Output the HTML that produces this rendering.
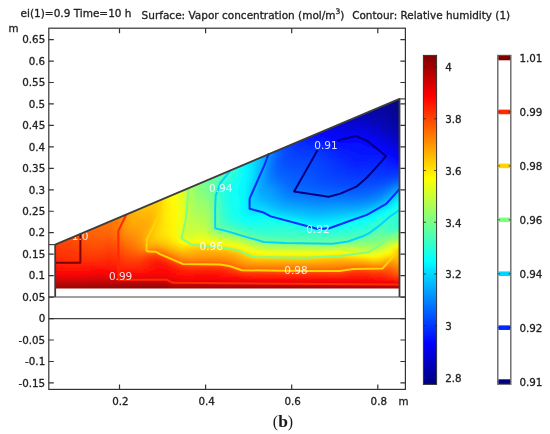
<!DOCTYPE html>
<html><head><meta charset="utf-8"><style>
html,body{margin:0;padding:0;background:#fff;width:550px;height:434px;overflow:hidden}
svg{display:block;filter:blur(0.35px)}
</style></head><body>
<svg width="550" height="434" viewBox="0 0 550 434">
<defs><filter id="fb" x="-5%" y="-5%" width="110%" height="110%"><feGaussianBlur stdDeviation="0.8"/></filter><clipPath id="dom"><polygon points="55.2,288.6 55.2,244.6 399.5,98.9 399.5,288.6"/></clipPath><linearGradient id="g0" gradientUnits="userSpaceOnUse" x1="53.2" y1="0" x2="405.2" y2="0"><stop offset="0.000" stop-color="#78ff87"/><stop offset="0.023" stop-color="#7bff84"/><stop offset="0.045" stop-color="#7eff81"/><stop offset="0.068" stop-color="#81ff7e"/><stop offset="0.091" stop-color="#82ff7d"/><stop offset="0.114" stop-color="#83ff7c"/><stop offset="0.136" stop-color="#83ff7c"/><stop offset="0.159" stop-color="#83ff7c"/><stop offset="0.182" stop-color="#81ff7e"/><stop offset="0.205" stop-color="#7eff81"/><stop offset="0.227" stop-color="#79ff86"/><stop offset="0.250" stop-color="#74ff8b"/><stop offset="0.273" stop-color="#6dff92"/><stop offset="0.295" stop-color="#65ff9a"/><stop offset="0.318" stop-color="#5cffa3"/><stop offset="0.341" stop-color="#51ffae"/><stop offset="0.364" stop-color="#44ffbb"/><stop offset="0.386" stop-color="#36ffc9"/><stop offset="0.409" stop-color="#27ffd8"/><stop offset="0.432" stop-color="#15ffea"/><stop offset="0.455" stop-color="#02fffd"/><stop offset="0.477" stop-color="#00ecff"/><stop offset="0.500" stop-color="#00d5ff"/><stop offset="0.523" stop-color="#00bdff"/><stop offset="0.545" stop-color="#00a3ff"/><stop offset="0.568" stop-color="#0087ff"/><stop offset="0.591" stop-color="#006bff"/><stop offset="0.614" stop-color="#004eff"/><stop offset="0.636" stop-color="#0032ff"/><stop offset="0.659" stop-color="#0018ff"/><stop offset="0.682" stop-color="#0000ff"/><stop offset="0.705" stop-color="#0000e9"/><stop offset="0.727" stop-color="#0000d7"/><stop offset="0.750" stop-color="#0000c7"/><stop offset="0.773" stop-color="#0000ba"/><stop offset="0.795" stop-color="#0000ae"/><stop offset="0.818" stop-color="#0000a5"/><stop offset="0.841" stop-color="#00009e"/><stop offset="0.864" stop-color="#000097"/><stop offset="0.886" stop-color="#000092"/><stop offset="0.909" stop-color="#00008d"/><stop offset="0.932" stop-color="#000088"/><stop offset="0.955" stop-color="#000083"/><stop offset="0.977" stop-color="#000080"/><stop offset="1.000" stop-color="#000080"/></linearGradient><linearGradient id="g1" gradientUnits="userSpaceOnUse" x1="53.2" y1="0" x2="405.2" y2="0"><stop offset="0.000" stop-color="#7eff81"/><stop offset="0.023" stop-color="#81ff7e"/><stop offset="0.045" stop-color="#84ff7b"/><stop offset="0.068" stop-color="#87ff78"/><stop offset="0.091" stop-color="#89ff76"/><stop offset="0.114" stop-color="#8aff75"/><stop offset="0.136" stop-color="#8aff75"/><stop offset="0.159" stop-color="#89ff76"/><stop offset="0.182" stop-color="#87ff78"/><stop offset="0.205" stop-color="#84ff7b"/><stop offset="0.227" stop-color="#80ff7f"/><stop offset="0.250" stop-color="#7aff85"/><stop offset="0.273" stop-color="#74ff8b"/><stop offset="0.295" stop-color="#6bff94"/><stop offset="0.318" stop-color="#62ff9d"/><stop offset="0.341" stop-color="#57ffa8"/><stop offset="0.364" stop-color="#4affb5"/><stop offset="0.386" stop-color="#3cffc3"/><stop offset="0.409" stop-color="#2dffd2"/><stop offset="0.432" stop-color="#1bffe4"/><stop offset="0.455" stop-color="#08fff7"/><stop offset="0.477" stop-color="#00f2ff"/><stop offset="0.500" stop-color="#00dbff"/><stop offset="0.523" stop-color="#00c2ff"/><stop offset="0.545" stop-color="#00a8ff"/><stop offset="0.568" stop-color="#008cff"/><stop offset="0.591" stop-color="#006fff"/><stop offset="0.614" stop-color="#0052ff"/><stop offset="0.636" stop-color="#0036ff"/><stop offset="0.659" stop-color="#001bff"/><stop offset="0.682" stop-color="#0003ff"/><stop offset="0.705" stop-color="#0000ec"/><stop offset="0.727" stop-color="#0000da"/><stop offset="0.750" stop-color="#0000ca"/><stop offset="0.773" stop-color="#0000bd"/><stop offset="0.795" stop-color="#0000b2"/><stop offset="0.818" stop-color="#0000a9"/><stop offset="0.841" stop-color="#0000a1"/><stop offset="0.864" stop-color="#00009b"/><stop offset="0.886" stop-color="#000096"/><stop offset="0.909" stop-color="#000091"/><stop offset="0.932" stop-color="#00008c"/><stop offset="0.955" stop-color="#000086"/><stop offset="0.977" stop-color="#000080"/><stop offset="1.000" stop-color="#000080"/></linearGradient><linearGradient id="g2" gradientUnits="userSpaceOnUse" x1="53.2" y1="0" x2="405.2" y2="0"><stop offset="0.000" stop-color="#84ff7b"/><stop offset="0.023" stop-color="#88ff77"/><stop offset="0.045" stop-color="#8bff74"/><stop offset="0.068" stop-color="#8dff72"/><stop offset="0.091" stop-color="#8fff70"/><stop offset="0.114" stop-color="#90ff6f"/><stop offset="0.136" stop-color="#90ff6f"/><stop offset="0.159" stop-color="#8fff70"/><stop offset="0.182" stop-color="#8eff71"/><stop offset="0.205" stop-color="#8bff74"/><stop offset="0.227" stop-color="#86ff79"/><stop offset="0.250" stop-color="#81ff7e"/><stop offset="0.273" stop-color="#7aff85"/><stop offset="0.295" stop-color="#72ff8d"/><stop offset="0.318" stop-color="#68ff97"/><stop offset="0.341" stop-color="#5dffa2"/><stop offset="0.364" stop-color="#50ffaf"/><stop offset="0.386" stop-color="#42ffbd"/><stop offset="0.409" stop-color="#33ffcc"/><stop offset="0.432" stop-color="#21ffde"/><stop offset="0.455" stop-color="#0efff1"/><stop offset="0.477" stop-color="#00f8ff"/><stop offset="0.500" stop-color="#00e1ff"/><stop offset="0.523" stop-color="#00c8ff"/><stop offset="0.545" stop-color="#00adff"/><stop offset="0.568" stop-color="#0091ff"/><stop offset="0.591" stop-color="#0073ff"/><stop offset="0.614" stop-color="#0056ff"/><stop offset="0.636" stop-color="#0039ff"/><stop offset="0.659" stop-color="#001eff"/><stop offset="0.682" stop-color="#0006ff"/><stop offset="0.705" stop-color="#0000ef"/><stop offset="0.727" stop-color="#0000dd"/><stop offset="0.750" stop-color="#0000cd"/><stop offset="0.773" stop-color="#0000c0"/><stop offset="0.795" stop-color="#0000b5"/><stop offset="0.818" stop-color="#0000ac"/><stop offset="0.841" stop-color="#0000a5"/><stop offset="0.864" stop-color="#00009f"/><stop offset="0.886" stop-color="#000099"/><stop offset="0.909" stop-color="#000095"/><stop offset="0.932" stop-color="#000090"/><stop offset="0.955" stop-color="#00008a"/><stop offset="0.977" stop-color="#000083"/><stop offset="1.000" stop-color="#000080"/></linearGradient><linearGradient id="g3" gradientUnits="userSpaceOnUse" x1="53.2" y1="0" x2="405.2" y2="0"><stop offset="0.000" stop-color="#8aff75"/><stop offset="0.023" stop-color="#8eff71"/><stop offset="0.045" stop-color="#91ff6e"/><stop offset="0.068" stop-color="#93ff6c"/><stop offset="0.091" stop-color="#95ff6a"/><stop offset="0.114" stop-color="#96ff69"/><stop offset="0.136" stop-color="#96ff69"/><stop offset="0.159" stop-color="#96ff69"/><stop offset="0.182" stop-color="#94ff6b"/><stop offset="0.205" stop-color="#91ff6e"/><stop offset="0.227" stop-color="#8dff72"/><stop offset="0.250" stop-color="#87ff78"/><stop offset="0.273" stop-color="#80ff7f"/><stop offset="0.295" stop-color="#78ff87"/><stop offset="0.318" stop-color="#6eff91"/><stop offset="0.341" stop-color="#63ff9c"/><stop offset="0.364" stop-color="#56ffa9"/><stop offset="0.386" stop-color="#48ffb7"/><stop offset="0.409" stop-color="#38ffc7"/><stop offset="0.432" stop-color="#27ffd8"/><stop offset="0.455" stop-color="#14ffeb"/><stop offset="0.477" stop-color="#00fdff"/><stop offset="0.500" stop-color="#00e6ff"/><stop offset="0.523" stop-color="#00cdff"/><stop offset="0.545" stop-color="#00b2ff"/><stop offset="0.568" stop-color="#0095ff"/><stop offset="0.591" stop-color="#0078ff"/><stop offset="0.614" stop-color="#005aff"/><stop offset="0.636" stop-color="#003dff"/><stop offset="0.659" stop-color="#0021ff"/><stop offset="0.682" stop-color="#0008ff"/><stop offset="0.705" stop-color="#0000f2"/><stop offset="0.727" stop-color="#0000df"/><stop offset="0.750" stop-color="#0000d0"/><stop offset="0.773" stop-color="#0000c3"/><stop offset="0.795" stop-color="#0000b9"/><stop offset="0.818" stop-color="#0000b0"/><stop offset="0.841" stop-color="#0000a9"/><stop offset="0.864" stop-color="#0000a3"/><stop offset="0.886" stop-color="#00009d"/><stop offset="0.909" stop-color="#000098"/><stop offset="0.932" stop-color="#000094"/><stop offset="0.955" stop-color="#00008d"/><stop offset="0.977" stop-color="#000086"/><stop offset="1.000" stop-color="#000080"/></linearGradient><linearGradient id="g4" gradientUnits="userSpaceOnUse" x1="53.2" y1="0" x2="405.2" y2="0"><stop offset="0.000" stop-color="#91ff6e"/><stop offset="0.023" stop-color="#94ff6b"/><stop offset="0.045" stop-color="#97ff68"/><stop offset="0.068" stop-color="#9aff65"/><stop offset="0.091" stop-color="#9bff64"/><stop offset="0.114" stop-color="#9dff62"/><stop offset="0.136" stop-color="#9dff62"/><stop offset="0.159" stop-color="#9cff63"/><stop offset="0.182" stop-color="#9aff65"/><stop offset="0.205" stop-color="#97ff68"/><stop offset="0.227" stop-color="#93ff6c"/><stop offset="0.250" stop-color="#8dff72"/><stop offset="0.273" stop-color="#86ff79"/><stop offset="0.295" stop-color="#7eff81"/><stop offset="0.318" stop-color="#74ff8b"/><stop offset="0.341" stop-color="#69ff96"/><stop offset="0.364" stop-color="#5cffa3"/><stop offset="0.386" stop-color="#4effb1"/><stop offset="0.409" stop-color="#3effc1"/><stop offset="0.432" stop-color="#2dffd2"/><stop offset="0.455" stop-color="#19ffe6"/><stop offset="0.477" stop-color="#04fffb"/><stop offset="0.500" stop-color="#00ecff"/><stop offset="0.523" stop-color="#00d2ff"/><stop offset="0.545" stop-color="#00b7ff"/><stop offset="0.568" stop-color="#009aff"/><stop offset="0.591" stop-color="#007cff"/><stop offset="0.614" stop-color="#005dff"/><stop offset="0.636" stop-color="#0040ff"/><stop offset="0.659" stop-color="#0024ff"/><stop offset="0.682" stop-color="#000bff"/><stop offset="0.705" stop-color="#0000f5"/><stop offset="0.727" stop-color="#0000e2"/><stop offset="0.750" stop-color="#0000d3"/><stop offset="0.773" stop-color="#0000c6"/><stop offset="0.795" stop-color="#0000bc"/><stop offset="0.818" stop-color="#0000b4"/><stop offset="0.841" stop-color="#0000ad"/><stop offset="0.864" stop-color="#0000a7"/><stop offset="0.886" stop-color="#0000a1"/><stop offset="0.909" stop-color="#00009c"/><stop offset="0.932" stop-color="#000097"/><stop offset="0.955" stop-color="#000090"/><stop offset="0.977" stop-color="#000088"/><stop offset="1.000" stop-color="#000080"/></linearGradient><linearGradient id="g5" gradientUnits="userSpaceOnUse" x1="53.2" y1="0" x2="405.2" y2="0"><stop offset="0.000" stop-color="#97ff68"/><stop offset="0.023" stop-color="#9aff65"/><stop offset="0.045" stop-color="#9dff62"/><stop offset="0.068" stop-color="#a0ff5f"/><stop offset="0.091" stop-color="#a2ff5d"/><stop offset="0.114" stop-color="#a3ff5c"/><stop offset="0.136" stop-color="#a3ff5c"/><stop offset="0.159" stop-color="#a2ff5d"/><stop offset="0.182" stop-color="#a0ff5f"/><stop offset="0.205" stop-color="#9dff62"/><stop offset="0.227" stop-color="#99ff66"/><stop offset="0.250" stop-color="#93ff6c"/><stop offset="0.273" stop-color="#8cff73"/><stop offset="0.295" stop-color="#84ff7b"/><stop offset="0.318" stop-color="#7aff85"/><stop offset="0.341" stop-color="#6fff90"/><stop offset="0.364" stop-color="#62ff9d"/><stop offset="0.386" stop-color="#54ffab"/><stop offset="0.409" stop-color="#44ffbb"/><stop offset="0.432" stop-color="#32ffcd"/><stop offset="0.455" stop-color="#1fffe0"/><stop offset="0.477" stop-color="#0afff5"/><stop offset="0.500" stop-color="#00f1ff"/><stop offset="0.523" stop-color="#00d7ff"/><stop offset="0.545" stop-color="#00bcff"/><stop offset="0.568" stop-color="#009eff"/><stop offset="0.591" stop-color="#0080ff"/><stop offset="0.614" stop-color="#0061ff"/><stop offset="0.636" stop-color="#0043ff"/><stop offset="0.659" stop-color="#0027ff"/><stop offset="0.682" stop-color="#000eff"/><stop offset="0.705" stop-color="#0000f7"/><stop offset="0.727" stop-color="#0000e5"/><stop offset="0.750" stop-color="#0000d6"/><stop offset="0.773" stop-color="#0000c9"/><stop offset="0.795" stop-color="#0000bf"/><stop offset="0.818" stop-color="#0000b7"/><stop offset="0.841" stop-color="#0000b0"/><stop offset="0.864" stop-color="#0000aa"/><stop offset="0.886" stop-color="#0000a5"/><stop offset="0.909" stop-color="#00009f"/><stop offset="0.932" stop-color="#00009a"/><stop offset="0.955" stop-color="#000093"/><stop offset="0.977" stop-color="#00008b"/><stop offset="1.000" stop-color="#000083"/></linearGradient><linearGradient id="g6" gradientUnits="userSpaceOnUse" x1="53.2" y1="0" x2="405.2" y2="0"><stop offset="0.000" stop-color="#9dff62"/><stop offset="0.023" stop-color="#a0ff5f"/><stop offset="0.045" stop-color="#a3ff5c"/><stop offset="0.068" stop-color="#a6ff59"/><stop offset="0.091" stop-color="#a8ff57"/><stop offset="0.114" stop-color="#a9ff56"/><stop offset="0.136" stop-color="#a9ff56"/><stop offset="0.159" stop-color="#a8ff57"/><stop offset="0.182" stop-color="#a6ff59"/><stop offset="0.205" stop-color="#a3ff5c"/><stop offset="0.227" stop-color="#9fff60"/><stop offset="0.250" stop-color="#99ff66"/><stop offset="0.273" stop-color="#92ff6d"/><stop offset="0.295" stop-color="#8aff75"/><stop offset="0.318" stop-color="#80ff7f"/><stop offset="0.341" stop-color="#75ff8a"/><stop offset="0.364" stop-color="#68ff97"/><stop offset="0.386" stop-color="#59ffa6"/><stop offset="0.409" stop-color="#49ffb6"/><stop offset="0.432" stop-color="#38ffc7"/><stop offset="0.455" stop-color="#24ffdb"/><stop offset="0.477" stop-color="#0ffff0"/><stop offset="0.500" stop-color="#00f6ff"/><stop offset="0.523" stop-color="#00dcff"/><stop offset="0.545" stop-color="#00c0ff"/><stop offset="0.568" stop-color="#00a3ff"/><stop offset="0.591" stop-color="#0084ff"/><stop offset="0.614" stop-color="#0065ff"/><stop offset="0.636" stop-color="#0046ff"/><stop offset="0.659" stop-color="#002aff"/><stop offset="0.682" stop-color="#0010ff"/><stop offset="0.705" stop-color="#0000fa"/><stop offset="0.727" stop-color="#0000e8"/><stop offset="0.750" stop-color="#0000d9"/><stop offset="0.773" stop-color="#0000cd"/><stop offset="0.795" stop-color="#0000c3"/><stop offset="0.818" stop-color="#0000bb"/><stop offset="0.841" stop-color="#0000b4"/><stop offset="0.864" stop-color="#0000ae"/><stop offset="0.886" stop-color="#0000a8"/><stop offset="0.909" stop-color="#0000a3"/><stop offset="0.932" stop-color="#00009d"/><stop offset="0.955" stop-color="#000095"/><stop offset="0.977" stop-color="#00008d"/><stop offset="1.000" stop-color="#000085"/></linearGradient><linearGradient id="g7" gradientUnits="userSpaceOnUse" x1="53.2" y1="0" x2="405.2" y2="0"><stop offset="0.000" stop-color="#a3ff5c"/><stop offset="0.023" stop-color="#a6ff59"/><stop offset="0.045" stop-color="#a9ff56"/><stop offset="0.068" stop-color="#acff53"/><stop offset="0.091" stop-color="#aeff51"/><stop offset="0.114" stop-color="#afff50"/><stop offset="0.136" stop-color="#afff50"/><stop offset="0.159" stop-color="#aeff51"/><stop offset="0.182" stop-color="#acff53"/><stop offset="0.205" stop-color="#a9ff56"/><stop offset="0.227" stop-color="#a5ff5a"/><stop offset="0.250" stop-color="#9fff60"/><stop offset="0.273" stop-color="#98ff67"/><stop offset="0.295" stop-color="#90ff6f"/><stop offset="0.318" stop-color="#86ff79"/><stop offset="0.341" stop-color="#7aff85"/><stop offset="0.364" stop-color="#6dff92"/><stop offset="0.386" stop-color="#5fffa0"/><stop offset="0.409" stop-color="#4fffb0"/><stop offset="0.432" stop-color="#3dffc2"/><stop offset="0.455" stop-color="#2affd5"/><stop offset="0.477" stop-color="#14ffeb"/><stop offset="0.500" stop-color="#00fbff"/><stop offset="0.523" stop-color="#00e1ff"/><stop offset="0.545" stop-color="#00c5ff"/><stop offset="0.568" stop-color="#00a7ff"/><stop offset="0.591" stop-color="#0088ff"/><stop offset="0.614" stop-color="#0068ff"/><stop offset="0.636" stop-color="#0049ff"/><stop offset="0.659" stop-color="#002cff"/><stop offset="0.682" stop-color="#0013ff"/><stop offset="0.705" stop-color="#0000fc"/><stop offset="0.727" stop-color="#0000ea"/><stop offset="0.750" stop-color="#0000dc"/><stop offset="0.773" stop-color="#0000d0"/><stop offset="0.795" stop-color="#0000c6"/><stop offset="0.818" stop-color="#0000bf"/><stop offset="0.841" stop-color="#0000b8"/><stop offset="0.864" stop-color="#0000b2"/><stop offset="0.886" stop-color="#0000ac"/><stop offset="0.909" stop-color="#0000a6"/><stop offset="0.932" stop-color="#0000a0"/><stop offset="0.955" stop-color="#000098"/><stop offset="0.977" stop-color="#00008f"/><stop offset="1.000" stop-color="#000088"/></linearGradient><linearGradient id="g8" gradientUnits="userSpaceOnUse" x1="53.2" y1="0" x2="405.2" y2="0"><stop offset="0.000" stop-color="#a8ff57"/><stop offset="0.023" stop-color="#acff53"/><stop offset="0.045" stop-color="#afff50"/><stop offset="0.068" stop-color="#b2ff4d"/><stop offset="0.091" stop-color="#b4ff4b"/><stop offset="0.114" stop-color="#b5ff4a"/><stop offset="0.136" stop-color="#b5ff4a"/><stop offset="0.159" stop-color="#b4ff4b"/><stop offset="0.182" stop-color="#b2ff4d"/><stop offset="0.205" stop-color="#afff50"/><stop offset="0.227" stop-color="#abff54"/><stop offset="0.250" stop-color="#a5ff5a"/><stop offset="0.273" stop-color="#9eff61"/><stop offset="0.295" stop-color="#95ff6a"/><stop offset="0.318" stop-color="#8bff74"/><stop offset="0.341" stop-color="#80ff7f"/><stop offset="0.364" stop-color="#73ff8c"/><stop offset="0.386" stop-color="#64ff9b"/><stop offset="0.409" stop-color="#54ffab"/><stop offset="0.432" stop-color="#43ffbc"/><stop offset="0.455" stop-color="#2fffd0"/><stop offset="0.477" stop-color="#19ffe6"/><stop offset="0.500" stop-color="#01fffe"/><stop offset="0.523" stop-color="#00e6ff"/><stop offset="0.545" stop-color="#00caff"/><stop offset="0.568" stop-color="#00acff"/><stop offset="0.591" stop-color="#008cff"/><stop offset="0.614" stop-color="#006bff"/><stop offset="0.636" stop-color="#004cff"/><stop offset="0.659" stop-color="#002fff"/><stop offset="0.682" stop-color="#0015ff"/><stop offset="0.705" stop-color="#0000ff"/><stop offset="0.727" stop-color="#0000ed"/><stop offset="0.750" stop-color="#0000df"/><stop offset="0.773" stop-color="#0000d3"/><stop offset="0.795" stop-color="#0000ca"/><stop offset="0.818" stop-color="#0000c2"/><stop offset="0.841" stop-color="#0000bc"/><stop offset="0.864" stop-color="#0000b7"/><stop offset="0.886" stop-color="#0000b0"/><stop offset="0.909" stop-color="#0000aa"/><stop offset="0.932" stop-color="#0000a3"/><stop offset="0.955" stop-color="#00009b"/><stop offset="0.977" stop-color="#000091"/><stop offset="1.000" stop-color="#00008a"/></linearGradient><linearGradient id="g9" gradientUnits="userSpaceOnUse" x1="53.2" y1="0" x2="405.2" y2="0"><stop offset="0.000" stop-color="#aeff51"/><stop offset="0.023" stop-color="#b2ff4d"/><stop offset="0.045" stop-color="#b5ff4a"/><stop offset="0.068" stop-color="#b8ff47"/><stop offset="0.091" stop-color="#baff45"/><stop offset="0.114" stop-color="#bbff44"/><stop offset="0.136" stop-color="#bbff44"/><stop offset="0.159" stop-color="#baff45"/><stop offset="0.182" stop-color="#b8ff47"/><stop offset="0.205" stop-color="#b5ff4a"/><stop offset="0.227" stop-color="#b1ff4e"/><stop offset="0.250" stop-color="#abff54"/><stop offset="0.273" stop-color="#a4ff5b"/><stop offset="0.295" stop-color="#9bff64"/><stop offset="0.318" stop-color="#91ff6e"/><stop offset="0.341" stop-color="#85ff7a"/><stop offset="0.364" stop-color="#78ff87"/><stop offset="0.386" stop-color="#69ff96"/><stop offset="0.409" stop-color="#59ffa6"/><stop offset="0.432" stop-color="#48ffb7"/><stop offset="0.455" stop-color="#34ffcb"/><stop offset="0.477" stop-color="#1effe1"/><stop offset="0.500" stop-color="#06fff9"/><stop offset="0.523" stop-color="#00ebff"/><stop offset="0.545" stop-color="#00ceff"/><stop offset="0.568" stop-color="#00b0ff"/><stop offset="0.591" stop-color="#0090ff"/><stop offset="0.614" stop-color="#006fff"/><stop offset="0.636" stop-color="#004fff"/><stop offset="0.659" stop-color="#0031ff"/><stop offset="0.682" stop-color="#0017ff"/><stop offset="0.705" stop-color="#0002ff"/><stop offset="0.727" stop-color="#0000f0"/><stop offset="0.750" stop-color="#0000e2"/><stop offset="0.773" stop-color="#0000d7"/><stop offset="0.795" stop-color="#0000cd"/><stop offset="0.818" stop-color="#0000c6"/><stop offset="0.841" stop-color="#0000c1"/><stop offset="0.864" stop-color="#0000bb"/><stop offset="0.886" stop-color="#0000b5"/><stop offset="0.909" stop-color="#0000ae"/><stop offset="0.932" stop-color="#0000a7"/><stop offset="0.955" stop-color="#00009d"/><stop offset="0.977" stop-color="#000094"/><stop offset="1.000" stop-color="#00008d"/></linearGradient><linearGradient id="g10" gradientUnits="userSpaceOnUse" x1="53.2" y1="0" x2="405.2" y2="0"><stop offset="0.000" stop-color="#b4ff4b"/><stop offset="0.023" stop-color="#b8ff47"/><stop offset="0.045" stop-color="#bbff44"/><stop offset="0.068" stop-color="#beff41"/><stop offset="0.091" stop-color="#bfff40"/><stop offset="0.114" stop-color="#c1ff3e"/><stop offset="0.136" stop-color="#c1ff3e"/><stop offset="0.159" stop-color="#c0ff3f"/><stop offset="0.182" stop-color="#beff41"/><stop offset="0.205" stop-color="#bbff44"/><stop offset="0.227" stop-color="#b7ff48"/><stop offset="0.250" stop-color="#b1ff4e"/><stop offset="0.273" stop-color="#a9ff56"/><stop offset="0.295" stop-color="#a1ff5e"/><stop offset="0.318" stop-color="#96ff69"/><stop offset="0.341" stop-color="#8aff75"/><stop offset="0.364" stop-color="#7dff82"/><stop offset="0.386" stop-color="#6fff90"/><stop offset="0.409" stop-color="#5fffa0"/><stop offset="0.432" stop-color="#4dffb2"/><stop offset="0.455" stop-color="#39ffc6"/><stop offset="0.477" stop-color="#23ffdc"/><stop offset="0.500" stop-color="#0bfff4"/><stop offset="0.523" stop-color="#00f0ff"/><stop offset="0.545" stop-color="#00d3ff"/><stop offset="0.568" stop-color="#00b4ff"/><stop offset="0.591" stop-color="#0093ff"/><stop offset="0.614" stop-color="#0072ff"/><stop offset="0.636" stop-color="#0051ff"/><stop offset="0.659" stop-color="#0033ff"/><stop offset="0.682" stop-color="#001aff"/><stop offset="0.705" stop-color="#0005ff"/><stop offset="0.727" stop-color="#0000f3"/><stop offset="0.750" stop-color="#0000e5"/><stop offset="0.773" stop-color="#0000da"/><stop offset="0.795" stop-color="#0000d1"/><stop offset="0.818" stop-color="#0000ca"/><stop offset="0.841" stop-color="#0000c5"/><stop offset="0.864" stop-color="#0000c0"/><stop offset="0.886" stop-color="#0000b9"/><stop offset="0.909" stop-color="#0000b2"/><stop offset="0.932" stop-color="#0000aa"/><stop offset="0.955" stop-color="#0000a0"/><stop offset="0.977" stop-color="#000096"/><stop offset="1.000" stop-color="#00008f"/></linearGradient><linearGradient id="g11" gradientUnits="userSpaceOnUse" x1="53.2" y1="0" x2="405.2" y2="0"><stop offset="0.000" stop-color="#baff45"/><stop offset="0.023" stop-color="#bdff42"/><stop offset="0.045" stop-color="#c1ff3e"/><stop offset="0.068" stop-color="#c3ff3c"/><stop offset="0.091" stop-color="#c5ff3a"/><stop offset="0.114" stop-color="#c6ff39"/><stop offset="0.136" stop-color="#c7ff38"/><stop offset="0.159" stop-color="#c6ff39"/><stop offset="0.182" stop-color="#c4ff3b"/><stop offset="0.205" stop-color="#c1ff3e"/><stop offset="0.227" stop-color="#bcff43"/><stop offset="0.250" stop-color="#b6ff49"/><stop offset="0.273" stop-color="#afff50"/><stop offset="0.295" stop-color="#a6ff59"/><stop offset="0.318" stop-color="#9cff63"/><stop offset="0.341" stop-color="#90ff6f"/><stop offset="0.364" stop-color="#82ff7d"/><stop offset="0.386" stop-color="#74ff8b"/><stop offset="0.409" stop-color="#63ff9c"/><stop offset="0.432" stop-color="#52ffad"/><stop offset="0.455" stop-color="#3effc1"/><stop offset="0.477" stop-color="#28ffd7"/><stop offset="0.500" stop-color="#10ffef"/><stop offset="0.523" stop-color="#00f4ff"/><stop offset="0.545" stop-color="#00d7ff"/><stop offset="0.568" stop-color="#00b8ff"/><stop offset="0.591" stop-color="#0097ff"/><stop offset="0.614" stop-color="#0075ff"/><stop offset="0.636" stop-color="#0054ff"/><stop offset="0.659" stop-color="#0036ff"/><stop offset="0.682" stop-color="#001cff"/><stop offset="0.705" stop-color="#0007ff"/><stop offset="0.727" stop-color="#0000f5"/><stop offset="0.750" stop-color="#0000e8"/><stop offset="0.773" stop-color="#0000de"/><stop offset="0.795" stop-color="#0000d5"/><stop offset="0.818" stop-color="#0000ce"/><stop offset="0.841" stop-color="#0000c9"/><stop offset="0.864" stop-color="#0000c5"/><stop offset="0.886" stop-color="#0000be"/><stop offset="0.909" stop-color="#0000b6"/><stop offset="0.932" stop-color="#0000ae"/><stop offset="0.955" stop-color="#0000a3"/><stop offset="0.977" stop-color="#000099"/><stop offset="1.000" stop-color="#000092"/></linearGradient><linearGradient id="g12" gradientUnits="userSpaceOnUse" x1="53.2" y1="0" x2="405.2" y2="0"><stop offset="0.000" stop-color="#bfff40"/><stop offset="0.023" stop-color="#c3ff3c"/><stop offset="0.045" stop-color="#c6ff39"/><stop offset="0.068" stop-color="#c9ff36"/><stop offset="0.091" stop-color="#cbff34"/><stop offset="0.114" stop-color="#ccff33"/><stop offset="0.136" stop-color="#ccff33"/><stop offset="0.159" stop-color="#ccff33"/><stop offset="0.182" stop-color="#caff35"/><stop offset="0.205" stop-color="#c7ff38"/><stop offset="0.227" stop-color="#c2ff3d"/><stop offset="0.250" stop-color="#bcff43"/><stop offset="0.273" stop-color="#b4ff4b"/><stop offset="0.295" stop-color="#abff54"/><stop offset="0.318" stop-color="#a1ff5e"/><stop offset="0.341" stop-color="#95ff6a"/><stop offset="0.364" stop-color="#87ff78"/><stop offset="0.386" stop-color="#78ff87"/><stop offset="0.409" stop-color="#68ff97"/><stop offset="0.432" stop-color="#57ffa8"/><stop offset="0.455" stop-color="#43ffbc"/><stop offset="0.477" stop-color="#2dffd2"/><stop offset="0.500" stop-color="#15ffea"/><stop offset="0.523" stop-color="#00f9ff"/><stop offset="0.545" stop-color="#00dbff"/><stop offset="0.568" stop-color="#00bcff"/><stop offset="0.591" stop-color="#009aff"/><stop offset="0.614" stop-color="#0078ff"/><stop offset="0.636" stop-color="#0056ff"/><stop offset="0.659" stop-color="#0038ff"/><stop offset="0.682" stop-color="#001eff"/><stop offset="0.705" stop-color="#0009ff"/><stop offset="0.727" stop-color="#0000f8"/><stop offset="0.750" stop-color="#0000ec"/><stop offset="0.773" stop-color="#0000e1"/><stop offset="0.795" stop-color="#0000d9"/><stop offset="0.818" stop-color="#0000d2"/><stop offset="0.841" stop-color="#0000ce"/><stop offset="0.864" stop-color="#0000ca"/><stop offset="0.886" stop-color="#0000c4"/><stop offset="0.909" stop-color="#0000bb"/><stop offset="0.932" stop-color="#0000b2"/><stop offset="0.955" stop-color="#0000a7"/><stop offset="0.977" stop-color="#00009c"/><stop offset="1.000" stop-color="#000095"/></linearGradient><linearGradient id="g13" gradientUnits="userSpaceOnUse" x1="53.2" y1="0" x2="405.2" y2="0"><stop offset="0.000" stop-color="#c5ff3a"/><stop offset="0.023" stop-color="#c9ff36"/><stop offset="0.045" stop-color="#ccff33"/><stop offset="0.068" stop-color="#cfff30"/><stop offset="0.091" stop-color="#d1ff2e"/><stop offset="0.114" stop-color="#d2ff2d"/><stop offset="0.136" stop-color="#d2ff2d"/><stop offset="0.159" stop-color="#d1ff2e"/><stop offset="0.182" stop-color="#cfff30"/><stop offset="0.205" stop-color="#ccff33"/><stop offset="0.227" stop-color="#c8ff37"/><stop offset="0.250" stop-color="#c1ff3e"/><stop offset="0.273" stop-color="#baff45"/><stop offset="0.295" stop-color="#b1ff4e"/><stop offset="0.318" stop-color="#a6ff59"/><stop offset="0.341" stop-color="#9aff65"/><stop offset="0.364" stop-color="#8cff73"/><stop offset="0.386" stop-color="#7dff82"/><stop offset="0.409" stop-color="#6dff92"/><stop offset="0.432" stop-color="#5bffa4"/><stop offset="0.455" stop-color="#48ffb7"/><stop offset="0.477" stop-color="#32ffcd"/><stop offset="0.500" stop-color="#19ffe6"/><stop offset="0.523" stop-color="#00fdff"/><stop offset="0.545" stop-color="#00dfff"/><stop offset="0.568" stop-color="#00c0ff"/><stop offset="0.591" stop-color="#009eff"/><stop offset="0.614" stop-color="#007bff"/><stop offset="0.636" stop-color="#0058ff"/><stop offset="0.659" stop-color="#003aff"/><stop offset="0.682" stop-color="#0020ff"/><stop offset="0.705" stop-color="#000cff"/><stop offset="0.727" stop-color="#0000fb"/><stop offset="0.750" stop-color="#0000ef"/><stop offset="0.773" stop-color="#0000e5"/><stop offset="0.795" stop-color="#0000dd"/><stop offset="0.818" stop-color="#0000d7"/><stop offset="0.841" stop-color="#0000d2"/><stop offset="0.864" stop-color="#0000cf"/><stop offset="0.886" stop-color="#0000ca"/><stop offset="0.909" stop-color="#0000c1"/><stop offset="0.932" stop-color="#0000b6"/><stop offset="0.955" stop-color="#0000aa"/><stop offset="0.977" stop-color="#00009f"/><stop offset="1.000" stop-color="#000099"/></linearGradient><linearGradient id="g14" gradientUnits="userSpaceOnUse" x1="53.2" y1="0" x2="405.2" y2="0"><stop offset="0.000" stop-color="#cbff34"/><stop offset="0.023" stop-color="#ceff31"/><stop offset="0.045" stop-color="#d2ff2d"/><stop offset="0.068" stop-color="#d4ff2b"/><stop offset="0.091" stop-color="#d6ff29"/><stop offset="0.114" stop-color="#d8ff27"/><stop offset="0.136" stop-color="#d8ff27"/><stop offset="0.159" stop-color="#d7ff28"/><stop offset="0.182" stop-color="#d5ff2a"/><stop offset="0.205" stop-color="#d2ff2d"/><stop offset="0.227" stop-color="#cdff32"/><stop offset="0.250" stop-color="#c7ff38"/><stop offset="0.273" stop-color="#bfff40"/><stop offset="0.295" stop-color="#b6ff49"/><stop offset="0.318" stop-color="#abff54"/><stop offset="0.341" stop-color="#9eff61"/><stop offset="0.364" stop-color="#91ff6e"/><stop offset="0.386" stop-color="#82ff7d"/><stop offset="0.409" stop-color="#71ff8e"/><stop offset="0.432" stop-color="#60ff9f"/><stop offset="0.455" stop-color="#4cffb3"/><stop offset="0.477" stop-color="#36ffc9"/><stop offset="0.500" stop-color="#1dffe2"/><stop offset="0.523" stop-color="#02fffd"/><stop offset="0.545" stop-color="#00e3ff"/><stop offset="0.568" stop-color="#00c3ff"/><stop offset="0.591" stop-color="#00a1ff"/><stop offset="0.614" stop-color="#007dff"/><stop offset="0.636" stop-color="#005bff"/><stop offset="0.659" stop-color="#003bff"/><stop offset="0.682" stop-color="#0022ff"/><stop offset="0.705" stop-color="#000eff"/><stop offset="0.727" stop-color="#0000fe"/><stop offset="0.750" stop-color="#0000f3"/><stop offset="0.773" stop-color="#0000e9"/><stop offset="0.795" stop-color="#0000e1"/><stop offset="0.818" stop-color="#0000db"/><stop offset="0.841" stop-color="#0000d7"/><stop offset="0.864" stop-color="#0000d5"/><stop offset="0.886" stop-color="#0000d0"/><stop offset="0.909" stop-color="#0000c6"/><stop offset="0.932" stop-color="#0000bb"/><stop offset="0.955" stop-color="#0000ae"/><stop offset="0.977" stop-color="#0000a3"/><stop offset="1.000" stop-color="#00009c"/></linearGradient><linearGradient id="g15" gradientUnits="userSpaceOnUse" x1="53.2" y1="0" x2="405.2" y2="0"><stop offset="0.000" stop-color="#d0ff2f"/><stop offset="0.023" stop-color="#d4ff2b"/><stop offset="0.045" stop-color="#d7ff28"/><stop offset="0.068" stop-color="#daff25"/><stop offset="0.091" stop-color="#dcff23"/><stop offset="0.114" stop-color="#ddff22"/><stop offset="0.136" stop-color="#ddff22"/><stop offset="0.159" stop-color="#dcff23"/><stop offset="0.182" stop-color="#daff25"/><stop offset="0.205" stop-color="#d7ff28"/><stop offset="0.227" stop-color="#d2ff2d"/><stop offset="0.250" stop-color="#ccff33"/><stop offset="0.273" stop-color="#c4ff3b"/><stop offset="0.295" stop-color="#bbff44"/><stop offset="0.318" stop-color="#b0ff4f"/><stop offset="0.341" stop-color="#a3ff5c"/><stop offset="0.364" stop-color="#95ff6a"/><stop offset="0.386" stop-color="#86ff79"/><stop offset="0.409" stop-color="#76ff89"/><stop offset="0.432" stop-color="#64ff9b"/><stop offset="0.455" stop-color="#50ffaf"/><stop offset="0.477" stop-color="#3affc5"/><stop offset="0.500" stop-color="#21ffde"/><stop offset="0.523" stop-color="#06fff9"/><stop offset="0.545" stop-color="#00e7ff"/><stop offset="0.568" stop-color="#00c7ff"/><stop offset="0.591" stop-color="#00a4ff"/><stop offset="0.614" stop-color="#0080ff"/><stop offset="0.636" stop-color="#005cff"/><stop offset="0.659" stop-color="#003dff"/><stop offset="0.682" stop-color="#0023ff"/><stop offset="0.705" stop-color="#0010ff"/><stop offset="0.727" stop-color="#0002ff"/><stop offset="0.750" stop-color="#0000f6"/><stop offset="0.773" stop-color="#0000ed"/><stop offset="0.795" stop-color="#0000e6"/><stop offset="0.818" stop-color="#0000e0"/><stop offset="0.841" stop-color="#0000dc"/><stop offset="0.864" stop-color="#0000dc"/><stop offset="0.886" stop-color="#0000d6"/><stop offset="0.909" stop-color="#0000cc"/><stop offset="0.932" stop-color="#0000c0"/><stop offset="0.955" stop-color="#0000b3"/><stop offset="0.977" stop-color="#0000a7"/><stop offset="1.000" stop-color="#0000a0"/></linearGradient><linearGradient id="g16" gradientUnits="userSpaceOnUse" x1="53.2" y1="0" x2="405.2" y2="0"><stop offset="0.000" stop-color="#d6ff29"/><stop offset="0.023" stop-color="#d9ff26"/><stop offset="0.045" stop-color="#ddff22"/><stop offset="0.068" stop-color="#dfff20"/><stop offset="0.091" stop-color="#e1ff1e"/><stop offset="0.114" stop-color="#e3ff1c"/><stop offset="0.136" stop-color="#e3ff1c"/><stop offset="0.159" stop-color="#e2ff1d"/><stop offset="0.182" stop-color="#e0ff1f"/><stop offset="0.205" stop-color="#dcff23"/><stop offset="0.227" stop-color="#d8ff27"/><stop offset="0.250" stop-color="#d1ff2e"/><stop offset="0.273" stop-color="#c9ff36"/><stop offset="0.295" stop-color="#c0ff3f"/><stop offset="0.318" stop-color="#b5ff4a"/><stop offset="0.341" stop-color="#a8ff57"/><stop offset="0.364" stop-color="#9aff65"/><stop offset="0.386" stop-color="#8aff75"/><stop offset="0.409" stop-color="#7aff85"/><stop offset="0.432" stop-color="#68ff97"/><stop offset="0.455" stop-color="#54ffab"/><stop offset="0.477" stop-color="#3effc1"/><stop offset="0.500" stop-color="#25ffda"/><stop offset="0.523" stop-color="#0afff5"/><stop offset="0.545" stop-color="#00ebff"/><stop offset="0.568" stop-color="#00cbff"/><stop offset="0.591" stop-color="#00a8ff"/><stop offset="0.614" stop-color="#0082ff"/><stop offset="0.636" stop-color="#005eff"/><stop offset="0.659" stop-color="#003eff"/><stop offset="0.682" stop-color="#0025ff"/><stop offset="0.705" stop-color="#0013ff"/><stop offset="0.727" stop-color="#0006ff"/><stop offset="0.750" stop-color="#0000fa"/><stop offset="0.773" stop-color="#0000f2"/><stop offset="0.795" stop-color="#0000ea"/><stop offset="0.818" stop-color="#0000e5"/><stop offset="0.841" stop-color="#0000e1"/><stop offset="0.864" stop-color="#0000e2"/><stop offset="0.886" stop-color="#0000dd"/><stop offset="0.909" stop-color="#0000d3"/><stop offset="0.932" stop-color="#0000c6"/><stop offset="0.955" stop-color="#0000b7"/><stop offset="0.977" stop-color="#0000ab"/><stop offset="1.000" stop-color="#0000a4"/></linearGradient><linearGradient id="g17" gradientUnits="userSpaceOnUse" x1="53.2" y1="0" x2="405.2" y2="0"><stop offset="0.000" stop-color="#dbff24"/><stop offset="0.023" stop-color="#dfff20"/><stop offset="0.045" stop-color="#e2ff1d"/><stop offset="0.068" stop-color="#e5ff1a"/><stop offset="0.091" stop-color="#e7ff18"/><stop offset="0.114" stop-color="#e8ff17"/><stop offset="0.136" stop-color="#e8ff17"/><stop offset="0.159" stop-color="#e7ff18"/><stop offset="0.182" stop-color="#e5ff1a"/><stop offset="0.205" stop-color="#e2ff1d"/><stop offset="0.227" stop-color="#ddff22"/><stop offset="0.250" stop-color="#d6ff29"/><stop offset="0.273" stop-color="#ceff31"/><stop offset="0.295" stop-color="#c5ff3a"/><stop offset="0.318" stop-color="#b9ff46"/><stop offset="0.341" stop-color="#acff53"/><stop offset="0.364" stop-color="#9eff61"/><stop offset="0.386" stop-color="#8eff71"/><stop offset="0.409" stop-color="#7eff81"/><stop offset="0.432" stop-color="#6cff93"/><stop offset="0.455" stop-color="#58ffa7"/><stop offset="0.477" stop-color="#42ffbd"/><stop offset="0.500" stop-color="#29ffd6"/><stop offset="0.523" stop-color="#0dfff2"/><stop offset="0.545" stop-color="#00eeff"/><stop offset="0.568" stop-color="#00ceff"/><stop offset="0.591" stop-color="#00abff"/><stop offset="0.614" stop-color="#0085ff"/><stop offset="0.636" stop-color="#0060ff"/><stop offset="0.659" stop-color="#0040ff"/><stop offset="0.682" stop-color="#0027ff"/><stop offset="0.705" stop-color="#0015ff"/><stop offset="0.727" stop-color="#0009ff"/><stop offset="0.750" stop-color="#0000ff"/><stop offset="0.773" stop-color="#0000f6"/><stop offset="0.795" stop-color="#0000ef"/><stop offset="0.818" stop-color="#0000ea"/><stop offset="0.841" stop-color="#0000e8"/><stop offset="0.864" stop-color="#0000e9"/><stop offset="0.886" stop-color="#0000e4"/><stop offset="0.909" stop-color="#0000d9"/><stop offset="0.932" stop-color="#0000cb"/><stop offset="0.955" stop-color="#0000bc"/><stop offset="0.977" stop-color="#0000af"/><stop offset="1.000" stop-color="#0000a9"/></linearGradient><linearGradient id="g18" gradientUnits="userSpaceOnUse" x1="53.2" y1="0" x2="405.2" y2="0"><stop offset="0.000" stop-color="#e0ff1f"/><stop offset="0.023" stop-color="#e4ff1b"/><stop offset="0.045" stop-color="#e7ff18"/><stop offset="0.068" stop-color="#eaff15"/><stop offset="0.091" stop-color="#ecff13"/><stop offset="0.114" stop-color="#edff12"/><stop offset="0.136" stop-color="#eeff11"/><stop offset="0.159" stop-color="#edff12"/><stop offset="0.182" stop-color="#eaff15"/><stop offset="0.205" stop-color="#e7ff18"/><stop offset="0.227" stop-color="#e2ff1d"/><stop offset="0.250" stop-color="#dbff24"/><stop offset="0.273" stop-color="#d3ff2c"/><stop offset="0.295" stop-color="#c9ff36"/><stop offset="0.318" stop-color="#beff41"/><stop offset="0.341" stop-color="#b0ff4f"/><stop offset="0.364" stop-color="#a2ff5d"/><stop offset="0.386" stop-color="#92ff6d"/><stop offset="0.409" stop-color="#81ff7e"/><stop offset="0.432" stop-color="#70ff8f"/><stop offset="0.455" stop-color="#5cffa3"/><stop offset="0.477" stop-color="#46ffb9"/><stop offset="0.500" stop-color="#2dffd2"/><stop offset="0.523" stop-color="#11ffee"/><stop offset="0.545" stop-color="#00f2ff"/><stop offset="0.568" stop-color="#00d1ff"/><stop offset="0.591" stop-color="#00adff"/><stop offset="0.614" stop-color="#0087ff"/><stop offset="0.636" stop-color="#0061ff"/><stop offset="0.659" stop-color="#0041ff"/><stop offset="0.682" stop-color="#0028ff"/><stop offset="0.705" stop-color="#0017ff"/><stop offset="0.727" stop-color="#000dff"/><stop offset="0.750" stop-color="#0004ff"/><stop offset="0.773" stop-color="#0000fb"/><stop offset="0.795" stop-color="#0000f4"/><stop offset="0.818" stop-color="#0000f0"/><stop offset="0.841" stop-color="#0000ef"/><stop offset="0.864" stop-color="#0000f0"/><stop offset="0.886" stop-color="#0000ea"/><stop offset="0.909" stop-color="#0000df"/><stop offset="0.932" stop-color="#0000d1"/><stop offset="0.955" stop-color="#0000c1"/><stop offset="0.977" stop-color="#0000b4"/><stop offset="1.000" stop-color="#0000ad"/></linearGradient><linearGradient id="g19" gradientUnits="userSpaceOnUse" x1="53.2" y1="0" x2="405.2" y2="0"><stop offset="0.000" stop-color="#e6ff19"/><stop offset="0.023" stop-color="#e9ff16"/><stop offset="0.045" stop-color="#edff12"/><stop offset="0.068" stop-color="#efff10"/><stop offset="0.091" stop-color="#f1ff0e"/><stop offset="0.114" stop-color="#f3ff0c"/><stop offset="0.136" stop-color="#f3ff0c"/><stop offset="0.159" stop-color="#f2ff0d"/><stop offset="0.182" stop-color="#f0ff0f"/><stop offset="0.205" stop-color="#ecff13"/><stop offset="0.227" stop-color="#e7ff18"/><stop offset="0.250" stop-color="#e0ff1f"/><stop offset="0.273" stop-color="#d8ff27"/><stop offset="0.295" stop-color="#ceff31"/><stop offset="0.318" stop-color="#c2ff3d"/><stop offset="0.341" stop-color="#b5ff4a"/><stop offset="0.364" stop-color="#a6ff59"/><stop offset="0.386" stop-color="#96ff69"/><stop offset="0.409" stop-color="#85ff7a"/><stop offset="0.432" stop-color="#73ff8c"/><stop offset="0.455" stop-color="#60ff9f"/><stop offset="0.477" stop-color="#4affb5"/><stop offset="0.500" stop-color="#30ffcf"/><stop offset="0.523" stop-color="#14ffeb"/><stop offset="0.545" stop-color="#00f5ff"/><stop offset="0.568" stop-color="#00d4ff"/><stop offset="0.591" stop-color="#00b0ff"/><stop offset="0.614" stop-color="#0089ff"/><stop offset="0.636" stop-color="#0062ff"/><stop offset="0.659" stop-color="#0042ff"/><stop offset="0.682" stop-color="#002aff"/><stop offset="0.705" stop-color="#001aff"/><stop offset="0.727" stop-color="#0011ff"/><stop offset="0.750" stop-color="#0009ff"/><stop offset="0.773" stop-color="#0001ff"/><stop offset="0.795" stop-color="#0000f9"/><stop offset="0.818" stop-color="#0000f5"/><stop offset="0.841" stop-color="#0000f5"/><stop offset="0.864" stop-color="#0000f7"/><stop offset="0.886" stop-color="#0000f1"/><stop offset="0.909" stop-color="#0000e5"/><stop offset="0.932" stop-color="#0000d7"/><stop offset="0.955" stop-color="#0000c7"/><stop offset="0.977" stop-color="#0000b9"/><stop offset="1.000" stop-color="#0000b2"/></linearGradient><linearGradient id="g20" gradientUnits="userSpaceOnUse" x1="53.2" y1="0" x2="405.2" y2="0"><stop offset="0.000" stop-color="#ebff14"/><stop offset="0.023" stop-color="#efff10"/><stop offset="0.045" stop-color="#f2ff0d"/><stop offset="0.068" stop-color="#f5ff0a"/><stop offset="0.091" stop-color="#f7ff08"/><stop offset="0.114" stop-color="#f8ff07"/><stop offset="0.136" stop-color="#f8ff07"/><stop offset="0.159" stop-color="#f7ff08"/><stop offset="0.182" stop-color="#f5ff0a"/><stop offset="0.205" stop-color="#f1ff0e"/><stop offset="0.227" stop-color="#ecff13"/><stop offset="0.250" stop-color="#e5ff1a"/><stop offset="0.273" stop-color="#ddff22"/><stop offset="0.295" stop-color="#d3ff2c"/><stop offset="0.318" stop-color="#c6ff39"/><stop offset="0.341" stop-color="#b9ff46"/><stop offset="0.364" stop-color="#a9ff56"/><stop offset="0.386" stop-color="#99ff66"/><stop offset="0.409" stop-color="#88ff77"/><stop offset="0.432" stop-color="#77ff88"/><stop offset="0.455" stop-color="#63ff9c"/><stop offset="0.477" stop-color="#4dffb2"/><stop offset="0.500" stop-color="#34ffcb"/><stop offset="0.523" stop-color="#17ffe8"/><stop offset="0.545" stop-color="#00f7ff"/><stop offset="0.568" stop-color="#00d7ff"/><stop offset="0.591" stop-color="#00b3ff"/><stop offset="0.614" stop-color="#008bff"/><stop offset="0.636" stop-color="#0063ff"/><stop offset="0.659" stop-color="#0043ff"/><stop offset="0.682" stop-color="#002bff"/><stop offset="0.705" stop-color="#001cff"/><stop offset="0.727" stop-color="#0015ff"/><stop offset="0.750" stop-color="#000eff"/><stop offset="0.773" stop-color="#0006ff"/><stop offset="0.795" stop-color="#0000fe"/><stop offset="0.818" stop-color="#0000fa"/><stop offset="0.841" stop-color="#0000fb"/><stop offset="0.864" stop-color="#0000fc"/><stop offset="0.886" stop-color="#0000f6"/><stop offset="0.909" stop-color="#0000eb"/><stop offset="0.932" stop-color="#0000dd"/><stop offset="0.955" stop-color="#0000cd"/><stop offset="0.977" stop-color="#0000be"/><stop offset="1.000" stop-color="#0000b8"/></linearGradient><linearGradient id="g21" gradientUnits="userSpaceOnUse" x1="53.2" y1="0" x2="405.2" y2="0"><stop offset="0.000" stop-color="#f0ff0f"/><stop offset="0.023" stop-color="#f4ff0b"/><stop offset="0.045" stop-color="#f7ff08"/><stop offset="0.068" stop-color="#faff05"/><stop offset="0.091" stop-color="#fcff03"/><stop offset="0.114" stop-color="#fdff02"/><stop offset="0.136" stop-color="#fdff02"/><stop offset="0.159" stop-color="#fcff03"/><stop offset="0.182" stop-color="#faff05"/><stop offset="0.205" stop-color="#f6ff09"/><stop offset="0.227" stop-color="#f1ff0e"/><stop offset="0.250" stop-color="#eaff15"/><stop offset="0.273" stop-color="#e1ff1e"/><stop offset="0.295" stop-color="#d7ff28"/><stop offset="0.318" stop-color="#cbff34"/><stop offset="0.341" stop-color="#bcff43"/><stop offset="0.364" stop-color="#adff52"/><stop offset="0.386" stop-color="#9cff63"/><stop offset="0.409" stop-color="#8bff74"/><stop offset="0.432" stop-color="#7aff85"/><stop offset="0.455" stop-color="#67ff98"/><stop offset="0.477" stop-color="#51ffae"/><stop offset="0.500" stop-color="#37ffc8"/><stop offset="0.523" stop-color="#1affe5"/><stop offset="0.545" stop-color="#00faff"/><stop offset="0.568" stop-color="#00d9ff"/><stop offset="0.591" stop-color="#00b5ff"/><stop offset="0.614" stop-color="#008cff"/><stop offset="0.636" stop-color="#0064ff"/><stop offset="0.659" stop-color="#0044ff"/><stop offset="0.682" stop-color="#002dff"/><stop offset="0.705" stop-color="#001fff"/><stop offset="0.727" stop-color="#0019ff"/><stop offset="0.750" stop-color="#0013ff"/><stop offset="0.773" stop-color="#000bff"/><stop offset="0.795" stop-color="#0004ff"/><stop offset="0.818" stop-color="#0000ff"/><stop offset="0.841" stop-color="#0001ff"/><stop offset="0.864" stop-color="#0002ff"/><stop offset="0.886" stop-color="#0000fc"/><stop offset="0.909" stop-color="#0000f1"/><stop offset="0.932" stop-color="#0000e3"/><stop offset="0.955" stop-color="#0000d3"/><stop offset="0.977" stop-color="#0000c3"/><stop offset="1.000" stop-color="#0000bd"/></linearGradient><linearGradient id="g22" gradientUnits="userSpaceOnUse" x1="53.2" y1="0" x2="405.2" y2="0"><stop offset="0.000" stop-color="#f5ff0a"/><stop offset="0.023" stop-color="#f9ff06"/><stop offset="0.045" stop-color="#fcff03"/><stop offset="0.068" stop-color="#ffff00"/><stop offset="0.091" stop-color="#fffd00"/><stop offset="0.114" stop-color="#fffc00"/><stop offset="0.136" stop-color="#fffc00"/><stop offset="0.159" stop-color="#fffd00"/><stop offset="0.182" stop-color="#ffff00"/><stop offset="0.205" stop-color="#fbff04"/><stop offset="0.227" stop-color="#f6ff09"/><stop offset="0.250" stop-color="#efff10"/><stop offset="0.273" stop-color="#e6ff19"/><stop offset="0.295" stop-color="#dbff24"/><stop offset="0.318" stop-color="#cfff30"/><stop offset="0.341" stop-color="#c0ff3f"/><stop offset="0.364" stop-color="#b0ff4f"/><stop offset="0.386" stop-color="#9fff60"/><stop offset="0.409" stop-color="#8eff71"/><stop offset="0.432" stop-color="#7cff83"/><stop offset="0.455" stop-color="#6aff95"/><stop offset="0.477" stop-color="#54ffab"/><stop offset="0.500" stop-color="#3affc5"/><stop offset="0.523" stop-color="#1cffe3"/><stop offset="0.545" stop-color="#00fcff"/><stop offset="0.568" stop-color="#00dcff"/><stop offset="0.591" stop-color="#00b8ff"/><stop offset="0.614" stop-color="#008eff"/><stop offset="0.636" stop-color="#0064ff"/><stop offset="0.659" stop-color="#0044ff"/><stop offset="0.682" stop-color="#002fff"/><stop offset="0.705" stop-color="#0022ff"/><stop offset="0.727" stop-color="#001eff"/><stop offset="0.750" stop-color="#0019ff"/><stop offset="0.773" stop-color="#0011ff"/><stop offset="0.795" stop-color="#0009ff"/><stop offset="0.818" stop-color="#0005ff"/><stop offset="0.841" stop-color="#0006ff"/><stop offset="0.864" stop-color="#0006ff"/><stop offset="0.886" stop-color="#0001ff"/><stop offset="0.909" stop-color="#0000f6"/><stop offset="0.932" stop-color="#0000e9"/><stop offset="0.955" stop-color="#0000d9"/><stop offset="0.977" stop-color="#0000c9"/><stop offset="1.000" stop-color="#0000c3"/></linearGradient><linearGradient id="g23" gradientUnits="userSpaceOnUse" x1="53.2" y1="0" x2="405.2" y2="0"><stop offset="0.000" stop-color="#faff05"/><stop offset="0.023" stop-color="#feff01"/><stop offset="0.045" stop-color="#fffd00"/><stop offset="0.068" stop-color="#fffa00"/><stop offset="0.091" stop-color="#fff800"/><stop offset="0.114" stop-color="#fff700"/><stop offset="0.136" stop-color="#fff700"/><stop offset="0.159" stop-color="#fff800"/><stop offset="0.182" stop-color="#fffa00"/><stop offset="0.205" stop-color="#fffe00"/><stop offset="0.227" stop-color="#faff05"/><stop offset="0.250" stop-color="#f3ff0c"/><stop offset="0.273" stop-color="#eaff15"/><stop offset="0.295" stop-color="#e0ff1f"/><stop offset="0.318" stop-color="#d3ff2c"/><stop offset="0.341" stop-color="#c4ff3b"/><stop offset="0.364" stop-color="#b3ff4c"/><stop offset="0.386" stop-color="#a2ff5d"/><stop offset="0.409" stop-color="#91ff6e"/><stop offset="0.432" stop-color="#7fff80"/><stop offset="0.455" stop-color="#6cff93"/><stop offset="0.477" stop-color="#57ffa8"/><stop offset="0.500" stop-color="#3cffc3"/><stop offset="0.523" stop-color="#1effe1"/><stop offset="0.545" stop-color="#00feff"/><stop offset="0.568" stop-color="#00deff"/><stop offset="0.591" stop-color="#00baff"/><stop offset="0.614" stop-color="#008eff"/><stop offset="0.636" stop-color="#0064ff"/><stop offset="0.659" stop-color="#0045ff"/><stop offset="0.682" stop-color="#0031ff"/><stop offset="0.705" stop-color="#0026ff"/><stop offset="0.727" stop-color="#0023ff"/><stop offset="0.750" stop-color="#001eff"/><stop offset="0.773" stop-color="#0016ff"/><stop offset="0.795" stop-color="#000eff"/><stop offset="0.818" stop-color="#000aff"/><stop offset="0.841" stop-color="#0009ff"/><stop offset="0.864" stop-color="#0009ff"/><stop offset="0.886" stop-color="#0005ff"/><stop offset="0.909" stop-color="#0000fb"/><stop offset="0.932" stop-color="#0000ef"/><stop offset="0.955" stop-color="#0000df"/><stop offset="0.977" stop-color="#0000d0"/><stop offset="1.000" stop-color="#0000c9"/></linearGradient><linearGradient id="g24" gradientUnits="userSpaceOnUse" x1="53.2" y1="0" x2="405.2" y2="0"><stop offset="0.000" stop-color="#ffff00"/><stop offset="0.023" stop-color="#fffb00"/><stop offset="0.045" stop-color="#fff800"/><stop offset="0.068" stop-color="#fff500"/><stop offset="0.091" stop-color="#fff300"/><stop offset="0.114" stop-color="#fff200"/><stop offset="0.136" stop-color="#fff200"/><stop offset="0.159" stop-color="#fff300"/><stop offset="0.182" stop-color="#fff600"/><stop offset="0.205" stop-color="#fffa00"/><stop offset="0.227" stop-color="#ffff00"/><stop offset="0.250" stop-color="#f8ff07"/><stop offset="0.273" stop-color="#efff10"/><stop offset="0.295" stop-color="#e4ff1b"/><stop offset="0.318" stop-color="#d6ff29"/><stop offset="0.341" stop-color="#c7ff38"/><stop offset="0.364" stop-color="#b6ff49"/><stop offset="0.386" stop-color="#a5ff5a"/><stop offset="0.409" stop-color="#93ff6c"/><stop offset="0.432" stop-color="#81ff7e"/><stop offset="0.455" stop-color="#6fff90"/><stop offset="0.477" stop-color="#59ffa6"/><stop offset="0.500" stop-color="#3effc1"/><stop offset="0.523" stop-color="#20ffdf"/><stop offset="0.545" stop-color="#00ffff"/><stop offset="0.568" stop-color="#00dfff"/><stop offset="0.591" stop-color="#00bcff"/><stop offset="0.614" stop-color="#008fff"/><stop offset="0.636" stop-color="#0063ff"/><stop offset="0.659" stop-color="#0045ff"/><stop offset="0.682" stop-color="#0033ff"/><stop offset="0.705" stop-color="#002aff"/><stop offset="0.727" stop-color="#0028ff"/><stop offset="0.750" stop-color="#0024ff"/><stop offset="0.773" stop-color="#001bff"/><stop offset="0.795" stop-color="#0013ff"/><stop offset="0.818" stop-color="#000eff"/><stop offset="0.841" stop-color="#000dff"/><stop offset="0.864" stop-color="#000bff"/><stop offset="0.886" stop-color="#0008ff"/><stop offset="0.909" stop-color="#0001ff"/><stop offset="0.932" stop-color="#0000f6"/><stop offset="0.955" stop-color="#0000e6"/><stop offset="0.977" stop-color="#0000d7"/><stop offset="1.000" stop-color="#0000d0"/></linearGradient><linearGradient id="g25" gradientUnits="userSpaceOnUse" x1="53.2" y1="0" x2="405.2" y2="0"><stop offset="0.000" stop-color="#fffa00"/><stop offset="0.023" stop-color="#fff600"/><stop offset="0.045" stop-color="#fff300"/><stop offset="0.068" stop-color="#fff000"/><stop offset="0.091" stop-color="#ffee00"/><stop offset="0.114" stop-color="#ffed00"/><stop offset="0.136" stop-color="#ffed00"/><stop offset="0.159" stop-color="#ffee00"/><stop offset="0.182" stop-color="#fff100"/><stop offset="0.205" stop-color="#fff500"/><stop offset="0.227" stop-color="#fffb00"/><stop offset="0.250" stop-color="#fcff03"/><stop offset="0.273" stop-color="#f3ff0c"/><stop offset="0.295" stop-color="#e8ff17"/><stop offset="0.318" stop-color="#daff25"/><stop offset="0.341" stop-color="#caff35"/><stop offset="0.364" stop-color="#b9ff46"/><stop offset="0.386" stop-color="#a7ff58"/><stop offset="0.409" stop-color="#95ff6a"/><stop offset="0.432" stop-color="#83ff7c"/><stop offset="0.455" stop-color="#71ff8e"/><stop offset="0.477" stop-color="#5cffa3"/><stop offset="0.500" stop-color="#41ffbe"/><stop offset="0.523" stop-color="#21ffde"/><stop offset="0.545" stop-color="#01fffe"/><stop offset="0.568" stop-color="#00e0ff"/><stop offset="0.591" stop-color="#00bdff"/><stop offset="0.614" stop-color="#008fff"/><stop offset="0.636" stop-color="#0063ff"/><stop offset="0.659" stop-color="#0046ff"/><stop offset="0.682" stop-color="#0035ff"/><stop offset="0.705" stop-color="#002dff"/><stop offset="0.727" stop-color="#002cff"/><stop offset="0.750" stop-color="#0029ff"/><stop offset="0.773" stop-color="#0020ff"/><stop offset="0.795" stop-color="#0017ff"/><stop offset="0.818" stop-color="#0012ff"/><stop offset="0.841" stop-color="#000fff"/><stop offset="0.864" stop-color="#000dff"/><stop offset="0.886" stop-color="#000bff"/><stop offset="0.909" stop-color="#0006ff"/><stop offset="0.932" stop-color="#0000fc"/><stop offset="0.955" stop-color="#0000ed"/><stop offset="0.977" stop-color="#0000dd"/><stop offset="1.000" stop-color="#0000d7"/></linearGradient><linearGradient id="g26" gradientUnits="userSpaceOnUse" x1="53.2" y1="0" x2="405.2" y2="0"><stop offset="0.000" stop-color="#fff500"/><stop offset="0.023" stop-color="#fff100"/><stop offset="0.045" stop-color="#ffee00"/><stop offset="0.068" stop-color="#ffeb00"/><stop offset="0.091" stop-color="#ffe900"/><stop offset="0.114" stop-color="#ffe800"/><stop offset="0.136" stop-color="#ffe800"/><stop offset="0.159" stop-color="#ffea00"/><stop offset="0.182" stop-color="#ffec00"/><stop offset="0.205" stop-color="#fff000"/><stop offset="0.227" stop-color="#fff600"/><stop offset="0.250" stop-color="#fffe00"/><stop offset="0.273" stop-color="#f7ff08"/><stop offset="0.295" stop-color="#ecff13"/><stop offset="0.318" stop-color="#deff21"/><stop offset="0.341" stop-color="#ceff31"/><stop offset="0.364" stop-color="#bcff43"/><stop offset="0.386" stop-color="#a9ff56"/><stop offset="0.409" stop-color="#96ff69"/><stop offset="0.432" stop-color="#85ff7a"/><stop offset="0.455" stop-color="#73ff8c"/><stop offset="0.477" stop-color="#5effa1"/><stop offset="0.500" stop-color="#43ffbc"/><stop offset="0.523" stop-color="#22ffdd"/><stop offset="0.545" stop-color="#01fffe"/><stop offset="0.568" stop-color="#00e1ff"/><stop offset="0.591" stop-color="#00bfff"/><stop offset="0.614" stop-color="#008fff"/><stop offset="0.636" stop-color="#0061ff"/><stop offset="0.659" stop-color="#0046ff"/><stop offset="0.682" stop-color="#0037ff"/><stop offset="0.705" stop-color="#0031ff"/><stop offset="0.727" stop-color="#0031ff"/><stop offset="0.750" stop-color="#002eff"/><stop offset="0.773" stop-color="#0024ff"/><stop offset="0.795" stop-color="#001bff"/><stop offset="0.818" stop-color="#0015ff"/><stop offset="0.841" stop-color="#0012ff"/><stop offset="0.864" stop-color="#000fff"/><stop offset="0.886" stop-color="#000dff"/><stop offset="0.909" stop-color="#000aff"/><stop offset="0.932" stop-color="#0003ff"/><stop offset="0.955" stop-color="#0000f4"/><stop offset="0.977" stop-color="#0000e4"/><stop offset="1.000" stop-color="#0000de"/></linearGradient><linearGradient id="g27" gradientUnits="userSpaceOnUse" x1="53.2" y1="0" x2="405.2" y2="0"><stop offset="0.000" stop-color="#fff000"/><stop offset="0.023" stop-color="#ffec00"/><stop offset="0.045" stop-color="#ffe900"/><stop offset="0.068" stop-color="#ffe600"/><stop offset="0.091" stop-color="#ffe400"/><stop offset="0.114" stop-color="#ffe300"/><stop offset="0.136" stop-color="#ffe400"/><stop offset="0.159" stop-color="#ffe500"/><stop offset="0.182" stop-color="#ffe800"/><stop offset="0.205" stop-color="#ffec00"/><stop offset="0.227" stop-color="#fff200"/><stop offset="0.250" stop-color="#fff900"/><stop offset="0.273" stop-color="#fbff04"/><stop offset="0.295" stop-color="#f0ff0f"/><stop offset="0.318" stop-color="#e1ff1e"/><stop offset="0.341" stop-color="#d1ff2e"/><stop offset="0.364" stop-color="#beff41"/><stop offset="0.386" stop-color="#abff54"/><stop offset="0.409" stop-color="#98ff67"/><stop offset="0.432" stop-color="#86ff79"/><stop offset="0.455" stop-color="#75ff8a"/><stop offset="0.477" stop-color="#60ff9f"/><stop offset="0.500" stop-color="#44ffbb"/><stop offset="0.523" stop-color="#23ffdc"/><stop offset="0.545" stop-color="#01fffe"/><stop offset="0.568" stop-color="#00e1ff"/><stop offset="0.591" stop-color="#00bfff"/><stop offset="0.614" stop-color="#008dff"/><stop offset="0.636" stop-color="#005fff"/><stop offset="0.659" stop-color="#0046ff"/><stop offset="0.682" stop-color="#0039ff"/><stop offset="0.705" stop-color="#0035ff"/><stop offset="0.727" stop-color="#0035ff"/><stop offset="0.750" stop-color="#0032ff"/><stop offset="0.773" stop-color="#0028ff"/><stop offset="0.795" stop-color="#001fff"/><stop offset="0.818" stop-color="#0019ff"/><stop offset="0.841" stop-color="#0014ff"/><stop offset="0.864" stop-color="#0011ff"/><stop offset="0.886" stop-color="#000fff"/><stop offset="0.909" stop-color="#000eff"/><stop offset="0.932" stop-color="#0008ff"/><stop offset="0.955" stop-color="#0000fa"/><stop offset="0.977" stop-color="#0000eb"/><stop offset="1.000" stop-color="#0000e5"/></linearGradient><linearGradient id="g28" gradientUnits="userSpaceOnUse" x1="53.2" y1="0" x2="405.2" y2="0"><stop offset="0.000" stop-color="#ffeb00"/><stop offset="0.023" stop-color="#ffe800"/><stop offset="0.045" stop-color="#ffe400"/><stop offset="0.068" stop-color="#ffe200"/><stop offset="0.091" stop-color="#ffe000"/><stop offset="0.114" stop-color="#ffdf00"/><stop offset="0.136" stop-color="#ffdf00"/><stop offset="0.159" stop-color="#ffe000"/><stop offset="0.182" stop-color="#ffe300"/><stop offset="0.205" stop-color="#ffe800"/><stop offset="0.227" stop-color="#ffee00"/><stop offset="0.250" stop-color="#fff500"/><stop offset="0.273" stop-color="#ffff00"/><stop offset="0.295" stop-color="#f3ff0c"/><stop offset="0.318" stop-color="#e5ff1a"/><stop offset="0.341" stop-color="#d4ff2b"/><stop offset="0.364" stop-color="#c0ff3f"/><stop offset="0.386" stop-color="#acff53"/><stop offset="0.409" stop-color="#99ff66"/><stop offset="0.432" stop-color="#87ff78"/><stop offset="0.455" stop-color="#76ff89"/><stop offset="0.477" stop-color="#62ff9d"/><stop offset="0.500" stop-color="#46ffb9"/><stop offset="0.523" stop-color="#23ffdc"/><stop offset="0.545" stop-color="#01fffe"/><stop offset="0.568" stop-color="#00e1ff"/><stop offset="0.591" stop-color="#00bfff"/><stop offset="0.614" stop-color="#008bff"/><stop offset="0.636" stop-color="#005eff"/><stop offset="0.659" stop-color="#0047ff"/><stop offset="0.682" stop-color="#003cff"/><stop offset="0.705" stop-color="#0038ff"/><stop offset="0.727" stop-color="#0039ff"/><stop offset="0.750" stop-color="#0035ff"/><stop offset="0.773" stop-color="#002cff"/><stop offset="0.795" stop-color="#0023ff"/><stop offset="0.818" stop-color="#001cff"/><stop offset="0.841" stop-color="#0017ff"/><stop offset="0.864" stop-color="#0012ff"/><stop offset="0.886" stop-color="#0011ff"/><stop offset="0.909" stop-color="#0011ff"/><stop offset="0.932" stop-color="#000eff"/><stop offset="0.955" stop-color="#0001ff"/><stop offset="0.977" stop-color="#0000f1"/><stop offset="1.000" stop-color="#0000ec"/></linearGradient><linearGradient id="g29" gradientUnits="userSpaceOnUse" x1="53.2" y1="0" x2="405.2" y2="0"><stop offset="0.000" stop-color="#ffe600"/><stop offset="0.023" stop-color="#ffe300"/><stop offset="0.045" stop-color="#ffe000"/><stop offset="0.068" stop-color="#ffdd00"/><stop offset="0.091" stop-color="#ffdb00"/><stop offset="0.114" stop-color="#ffda00"/><stop offset="0.136" stop-color="#ffda00"/><stop offset="0.159" stop-color="#ffdc00"/><stop offset="0.182" stop-color="#ffdf00"/><stop offset="0.205" stop-color="#ffe400"/><stop offset="0.227" stop-color="#ffea00"/><stop offset="0.250" stop-color="#fff100"/><stop offset="0.273" stop-color="#fffb00"/><stop offset="0.295" stop-color="#f7ff08"/><stop offset="0.318" stop-color="#e8ff17"/><stop offset="0.341" stop-color="#d7ff28"/><stop offset="0.364" stop-color="#c3ff3c"/><stop offset="0.386" stop-color="#adff52"/><stop offset="0.409" stop-color="#99ff66"/><stop offset="0.432" stop-color="#88ff77"/><stop offset="0.455" stop-color="#77ff88"/><stop offset="0.477" stop-color="#64ff9b"/><stop offset="0.500" stop-color="#47ffb8"/><stop offset="0.523" stop-color="#23ffdc"/><stop offset="0.545" stop-color="#00ffff"/><stop offset="0.568" stop-color="#00e1ff"/><stop offset="0.591" stop-color="#00beff"/><stop offset="0.614" stop-color="#0088ff"/><stop offset="0.636" stop-color="#005cff"/><stop offset="0.659" stop-color="#0047ff"/><stop offset="0.682" stop-color="#003eff"/><stop offset="0.705" stop-color="#003bff"/><stop offset="0.727" stop-color="#003cff"/><stop offset="0.750" stop-color="#0038ff"/><stop offset="0.773" stop-color="#002fff"/><stop offset="0.795" stop-color="#0026ff"/><stop offset="0.818" stop-color="#001fff"/><stop offset="0.841" stop-color="#0019ff"/><stop offset="0.864" stop-color="#0014ff"/><stop offset="0.886" stop-color="#0013ff"/><stop offset="0.909" stop-color="#0015ff"/><stop offset="0.932" stop-color="#0013ff"/><stop offset="0.955" stop-color="#0007ff"/><stop offset="0.977" stop-color="#0000f7"/><stop offset="1.000" stop-color="#0000f3"/></linearGradient><linearGradient id="g30" gradientUnits="userSpaceOnUse" x1="53.2" y1="0" x2="405.2" y2="0"><stop offset="0.000" stop-color="#ffe200"/><stop offset="0.023" stop-color="#ffde00"/><stop offset="0.045" stop-color="#ffdb00"/><stop offset="0.068" stop-color="#ffd800"/><stop offset="0.091" stop-color="#ffd700"/><stop offset="0.114" stop-color="#ffd600"/><stop offset="0.136" stop-color="#ffd600"/><stop offset="0.159" stop-color="#ffd800"/><stop offset="0.182" stop-color="#ffdb00"/><stop offset="0.205" stop-color="#ffdf00"/><stop offset="0.227" stop-color="#ffe600"/><stop offset="0.250" stop-color="#ffed00"/><stop offset="0.273" stop-color="#fff700"/><stop offset="0.295" stop-color="#fbff04"/><stop offset="0.318" stop-color="#ecff13"/><stop offset="0.341" stop-color="#d9ff26"/><stop offset="0.364" stop-color="#c5ff3a"/><stop offset="0.386" stop-color="#aeff51"/><stop offset="0.409" stop-color="#9aff65"/><stop offset="0.432" stop-color="#88ff77"/><stop offset="0.455" stop-color="#78ff87"/><stop offset="0.477" stop-color="#65ff9a"/><stop offset="0.500" stop-color="#48ffb7"/><stop offset="0.523" stop-color="#22ffdd"/><stop offset="0.545" stop-color="#00feff"/><stop offset="0.568" stop-color="#00e0ff"/><stop offset="0.591" stop-color="#00bcff"/><stop offset="0.614" stop-color="#0086ff"/><stop offset="0.636" stop-color="#005bff"/><stop offset="0.659" stop-color="#0048ff"/><stop offset="0.682" stop-color="#0040ff"/><stop offset="0.705" stop-color="#003eff"/><stop offset="0.727" stop-color="#003fff"/><stop offset="0.750" stop-color="#003bff"/><stop offset="0.773" stop-color="#0032ff"/><stop offset="0.795" stop-color="#0029ff"/><stop offset="0.818" stop-color="#0022ff"/><stop offset="0.841" stop-color="#001bff"/><stop offset="0.864" stop-color="#0015ff"/><stop offset="0.886" stop-color="#0016ff"/><stop offset="0.909" stop-color="#0018ff"/><stop offset="0.932" stop-color="#0017ff"/><stop offset="0.955" stop-color="#000cff"/><stop offset="0.977" stop-color="#0000fd"/><stop offset="1.000" stop-color="#0000fa"/></linearGradient><linearGradient id="g31" gradientUnits="userSpaceOnUse" x1="53.2" y1="0" x2="405.2" y2="0"><stop offset="0.000" stop-color="#ffdd00"/><stop offset="0.023" stop-color="#ffda00"/><stop offset="0.045" stop-color="#ffd600"/><stop offset="0.068" stop-color="#ffd400"/><stop offset="0.091" stop-color="#ffd200"/><stop offset="0.114" stop-color="#ffd100"/><stop offset="0.136" stop-color="#ffd200"/><stop offset="0.159" stop-color="#ffd300"/><stop offset="0.182" stop-color="#ffd700"/><stop offset="0.205" stop-color="#ffdb00"/><stop offset="0.227" stop-color="#ffe200"/><stop offset="0.250" stop-color="#ffea00"/><stop offset="0.273" stop-color="#fff400"/><stop offset="0.295" stop-color="#feff01"/><stop offset="0.318" stop-color="#efff10"/><stop offset="0.341" stop-color="#dcff23"/><stop offset="0.364" stop-color="#c6ff39"/><stop offset="0.386" stop-color="#afff50"/><stop offset="0.409" stop-color="#99ff66"/><stop offset="0.432" stop-color="#87ff78"/><stop offset="0.455" stop-color="#78ff87"/><stop offset="0.477" stop-color="#66ff99"/><stop offset="0.500" stop-color="#49ffb6"/><stop offset="0.523" stop-color="#22ffdd"/><stop offset="0.545" stop-color="#00fcff"/><stop offset="0.568" stop-color="#00dfff"/><stop offset="0.591" stop-color="#00bbff"/><stop offset="0.614" stop-color="#0083ff"/><stop offset="0.636" stop-color="#005bff"/><stop offset="0.659" stop-color="#0049ff"/><stop offset="0.682" stop-color="#0042ff"/><stop offset="0.705" stop-color="#0041ff"/><stop offset="0.727" stop-color="#0041ff"/><stop offset="0.750" stop-color="#003dff"/><stop offset="0.773" stop-color="#0035ff"/><stop offset="0.795" stop-color="#002cff"/><stop offset="0.818" stop-color="#0025ff"/><stop offset="0.841" stop-color="#001dff"/><stop offset="0.864" stop-color="#0017ff"/><stop offset="0.886" stop-color="#0018ff"/><stop offset="0.909" stop-color="#001cff"/><stop offset="0.932" stop-color="#001bff"/><stop offset="0.955" stop-color="#0011ff"/><stop offset="0.977" stop-color="#0004ff"/><stop offset="1.000" stop-color="#0003ff"/></linearGradient><linearGradient id="g32" gradientUnits="userSpaceOnUse" x1="53.2" y1="0" x2="405.2" y2="0"><stop offset="0.000" stop-color="#ffd900"/><stop offset="0.023" stop-color="#ffd500"/><stop offset="0.045" stop-color="#ffd200"/><stop offset="0.068" stop-color="#ffcf00"/><stop offset="0.091" stop-color="#ffce00"/><stop offset="0.114" stop-color="#ffcd00"/><stop offset="0.136" stop-color="#ffcd00"/><stop offset="0.159" stop-color="#ffcf00"/><stop offset="0.182" stop-color="#ffd200"/><stop offset="0.205" stop-color="#ffd700"/><stop offset="0.227" stop-color="#ffde00"/><stop offset="0.250" stop-color="#ffe600"/><stop offset="0.273" stop-color="#fff000"/><stop offset="0.295" stop-color="#fffd00"/><stop offset="0.318" stop-color="#f2ff0d"/><stop offset="0.341" stop-color="#dfff20"/><stop offset="0.364" stop-color="#c8ff37"/><stop offset="0.386" stop-color="#b0ff4f"/><stop offset="0.409" stop-color="#99ff66"/><stop offset="0.432" stop-color="#86ff79"/><stop offset="0.455" stop-color="#77ff88"/><stop offset="0.477" stop-color="#67ff98"/><stop offset="0.500" stop-color="#4affb5"/><stop offset="0.523" stop-color="#21ffde"/><stop offset="0.545" stop-color="#00faff"/><stop offset="0.568" stop-color="#00dfff"/><stop offset="0.591" stop-color="#00baff"/><stop offset="0.614" stop-color="#0081ff"/><stop offset="0.636" stop-color="#005bff"/><stop offset="0.659" stop-color="#004bff"/><stop offset="0.682" stop-color="#0045ff"/><stop offset="0.705" stop-color="#0044ff"/><stop offset="0.727" stop-color="#0044ff"/><stop offset="0.750" stop-color="#003fff"/><stop offset="0.773" stop-color="#0037ff"/><stop offset="0.795" stop-color="#002fff"/><stop offset="0.818" stop-color="#0027ff"/><stop offset="0.841" stop-color="#0020ff"/><stop offset="0.864" stop-color="#001aff"/><stop offset="0.886" stop-color="#001bff"/><stop offset="0.909" stop-color="#001fff"/><stop offset="0.932" stop-color="#001eff"/><stop offset="0.955" stop-color="#0015ff"/><stop offset="0.977" stop-color="#000aff"/><stop offset="1.000" stop-color="#000bff"/></linearGradient><linearGradient id="g33" gradientUnits="userSpaceOnUse" x1="53.2" y1="0" x2="405.2" y2="0"><stop offset="0.000" stop-color="#ffd400"/><stop offset="0.023" stop-color="#ffd100"/><stop offset="0.045" stop-color="#ffce00"/><stop offset="0.068" stop-color="#ffcb00"/><stop offset="0.091" stop-color="#ffc900"/><stop offset="0.114" stop-color="#ffc800"/><stop offset="0.136" stop-color="#ffc900"/><stop offset="0.159" stop-color="#ffcb00"/><stop offset="0.182" stop-color="#ffce00"/><stop offset="0.205" stop-color="#ffd400"/><stop offset="0.227" stop-color="#ffda00"/><stop offset="0.250" stop-color="#ffe200"/><stop offset="0.273" stop-color="#ffed00"/><stop offset="0.295" stop-color="#fff900"/><stop offset="0.318" stop-color="#f5ff0a"/><stop offset="0.341" stop-color="#e1ff1e"/><stop offset="0.364" stop-color="#caff35"/><stop offset="0.386" stop-color="#b0ff4f"/><stop offset="0.409" stop-color="#98ff67"/><stop offset="0.432" stop-color="#85ff7a"/><stop offset="0.455" stop-color="#76ff89"/><stop offset="0.477" stop-color="#67ff98"/><stop offset="0.500" stop-color="#4affb5"/><stop offset="0.523" stop-color="#1fffe0"/><stop offset="0.545" stop-color="#00f9ff"/><stop offset="0.568" stop-color="#00dfff"/><stop offset="0.591" stop-color="#00b8ff"/><stop offset="0.614" stop-color="#007fff"/><stop offset="0.636" stop-color="#005bff"/><stop offset="0.659" stop-color="#004cff"/><stop offset="0.682" stop-color="#0047ff"/><stop offset="0.705" stop-color="#0046ff"/><stop offset="0.727" stop-color="#0046ff"/><stop offset="0.750" stop-color="#0041ff"/><stop offset="0.773" stop-color="#0039ff"/><stop offset="0.795" stop-color="#0031ff"/><stop offset="0.818" stop-color="#002aff"/><stop offset="0.841" stop-color="#0023ff"/><stop offset="0.864" stop-color="#001dff"/><stop offset="0.886" stop-color="#001eff"/><stop offset="0.909" stop-color="#0022ff"/><stop offset="0.932" stop-color="#0022ff"/><stop offset="0.955" stop-color="#0019ff"/><stop offset="0.977" stop-color="#0011ff"/><stop offset="1.000" stop-color="#0013ff"/></linearGradient><linearGradient id="g34" gradientUnits="userSpaceOnUse" x1="53.2" y1="0" x2="405.2" y2="0"><stop offset="0.000" stop-color="#ffd000"/><stop offset="0.023" stop-color="#ffcc00"/><stop offset="0.045" stop-color="#ffc900"/><stop offset="0.068" stop-color="#ffc700"/><stop offset="0.091" stop-color="#ffc500"/><stop offset="0.114" stop-color="#ffc400"/><stop offset="0.136" stop-color="#ffc500"/><stop offset="0.159" stop-color="#ffc700"/><stop offset="0.182" stop-color="#ffcb00"/><stop offset="0.205" stop-color="#ffd000"/><stop offset="0.227" stop-color="#ffd700"/><stop offset="0.250" stop-color="#ffdf00"/><stop offset="0.273" stop-color="#ffe900"/><stop offset="0.295" stop-color="#fff600"/><stop offset="0.318" stop-color="#f8ff07"/><stop offset="0.341" stop-color="#e4ff1b"/><stop offset="0.364" stop-color="#ccff33"/><stop offset="0.386" stop-color="#b1ff4e"/><stop offset="0.409" stop-color="#97ff68"/><stop offset="0.432" stop-color="#83ff7c"/><stop offset="0.455" stop-color="#75ff8a"/><stop offset="0.477" stop-color="#66ff99"/><stop offset="0.500" stop-color="#49ffb6"/><stop offset="0.523" stop-color="#1effe1"/><stop offset="0.545" stop-color="#00f8ff"/><stop offset="0.568" stop-color="#00dfff"/><stop offset="0.591" stop-color="#00b6ff"/><stop offset="0.614" stop-color="#007dff"/><stop offset="0.636" stop-color="#005cff"/><stop offset="0.659" stop-color="#004eff"/><stop offset="0.682" stop-color="#0049ff"/><stop offset="0.705" stop-color="#0049ff"/><stop offset="0.727" stop-color="#0047ff"/><stop offset="0.750" stop-color="#0042ff"/><stop offset="0.773" stop-color="#003bff"/><stop offset="0.795" stop-color="#0033ff"/><stop offset="0.818" stop-color="#002dff"/><stop offset="0.841" stop-color="#0025ff"/><stop offset="0.864" stop-color="#0021ff"/><stop offset="0.886" stop-color="#0022ff"/><stop offset="0.909" stop-color="#0025ff"/><stop offset="0.932" stop-color="#0024ff"/><stop offset="0.955" stop-color="#001dff"/><stop offset="0.977" stop-color="#0017ff"/><stop offset="1.000" stop-color="#001cff"/></linearGradient><linearGradient id="g35" gradientUnits="userSpaceOnUse" x1="53.2" y1="0" x2="405.2" y2="0"><stop offset="0.000" stop-color="#ffcb00"/><stop offset="0.023" stop-color="#ffc800"/><stop offset="0.045" stop-color="#ffc500"/><stop offset="0.068" stop-color="#ffc200"/><stop offset="0.091" stop-color="#ffc100"/><stop offset="0.114" stop-color="#ffc000"/><stop offset="0.136" stop-color="#ffc100"/><stop offset="0.159" stop-color="#ffc300"/><stop offset="0.182" stop-color="#ffc700"/><stop offset="0.205" stop-color="#ffcc00"/><stop offset="0.227" stop-color="#ffd300"/><stop offset="0.250" stop-color="#ffdc00"/><stop offset="0.273" stop-color="#ffe600"/><stop offset="0.295" stop-color="#fff300"/><stop offset="0.318" stop-color="#fbff04"/><stop offset="0.341" stop-color="#e6ff19"/><stop offset="0.364" stop-color="#cdff32"/><stop offset="0.386" stop-color="#b1ff4e"/><stop offset="0.409" stop-color="#96ff69"/><stop offset="0.432" stop-color="#81ff7e"/><stop offset="0.455" stop-color="#73ff8c"/><stop offset="0.477" stop-color="#65ff9a"/><stop offset="0.500" stop-color="#47ffb8"/><stop offset="0.523" stop-color="#1cffe3"/><stop offset="0.545" stop-color="#00f8ff"/><stop offset="0.568" stop-color="#00dfff"/><stop offset="0.591" stop-color="#00b4ff"/><stop offset="0.614" stop-color="#007cff"/><stop offset="0.636" stop-color="#005dff"/><stop offset="0.659" stop-color="#0051ff"/><stop offset="0.682" stop-color="#004cff"/><stop offset="0.705" stop-color="#004bff"/><stop offset="0.727" stop-color="#0049ff"/><stop offset="0.750" stop-color="#0044ff"/><stop offset="0.773" stop-color="#003dff"/><stop offset="0.795" stop-color="#0036ff"/><stop offset="0.818" stop-color="#002fff"/><stop offset="0.841" stop-color="#0028ff"/><stop offset="0.864" stop-color="#0024ff"/><stop offset="0.886" stop-color="#0025ff"/><stop offset="0.909" stop-color="#0028ff"/><stop offset="0.932" stop-color="#0027ff"/><stop offset="0.955" stop-color="#0022ff"/><stop offset="0.977" stop-color="#001eff"/><stop offset="1.000" stop-color="#0025ff"/></linearGradient><linearGradient id="g36" gradientUnits="userSpaceOnUse" x1="53.2" y1="0" x2="405.2" y2="0"><stop offset="0.000" stop-color="#ffc700"/><stop offset="0.023" stop-color="#ffc400"/><stop offset="0.045" stop-color="#ffc100"/><stop offset="0.068" stop-color="#ffbe00"/><stop offset="0.091" stop-color="#ffbc00"/><stop offset="0.114" stop-color="#ffbc00"/><stop offset="0.136" stop-color="#ffbd00"/><stop offset="0.159" stop-color="#ffbf00"/><stop offset="0.182" stop-color="#ffc300"/><stop offset="0.205" stop-color="#ffc900"/><stop offset="0.227" stop-color="#ffd000"/><stop offset="0.250" stop-color="#ffd900"/><stop offset="0.273" stop-color="#ffe300"/><stop offset="0.295" stop-color="#fff000"/><stop offset="0.318" stop-color="#feff01"/><stop offset="0.341" stop-color="#e9ff16"/><stop offset="0.364" stop-color="#cfff30"/><stop offset="0.386" stop-color="#b1ff4e"/><stop offset="0.409" stop-color="#94ff6b"/><stop offset="0.432" stop-color="#7eff81"/><stop offset="0.455" stop-color="#70ff8f"/><stop offset="0.477" stop-color="#63ff9c"/><stop offset="0.500" stop-color="#44ffbb"/><stop offset="0.523" stop-color="#1affe5"/><stop offset="0.545" stop-color="#00f9ff"/><stop offset="0.568" stop-color="#00deff"/><stop offset="0.591" stop-color="#00b1ff"/><stop offset="0.614" stop-color="#007bff"/><stop offset="0.636" stop-color="#005fff"/><stop offset="0.659" stop-color="#0053ff"/><stop offset="0.682" stop-color="#004eff"/><stop offset="0.705" stop-color="#004dff"/><stop offset="0.727" stop-color="#004bff"/><stop offset="0.750" stop-color="#0045ff"/><stop offset="0.773" stop-color="#003eff"/><stop offset="0.795" stop-color="#0038ff"/><stop offset="0.818" stop-color="#0031ff"/><stop offset="0.841" stop-color="#002bff"/><stop offset="0.864" stop-color="#0028ff"/><stop offset="0.886" stop-color="#0029ff"/><stop offset="0.909" stop-color="#002cff"/><stop offset="0.932" stop-color="#002bff"/><stop offset="0.955" stop-color="#0026ff"/><stop offset="0.977" stop-color="#0025ff"/><stop offset="1.000" stop-color="#002fff"/></linearGradient><linearGradient id="g37" gradientUnits="userSpaceOnUse" x1="53.2" y1="0" x2="405.2" y2="0"><stop offset="0.000" stop-color="#ffc300"/><stop offset="0.023" stop-color="#ffbf00"/><stop offset="0.045" stop-color="#ffbc00"/><stop offset="0.068" stop-color="#ffba00"/><stop offset="0.091" stop-color="#ffb800"/><stop offset="0.114" stop-color="#ffb800"/><stop offset="0.136" stop-color="#ffb900"/><stop offset="0.159" stop-color="#ffbb00"/><stop offset="0.182" stop-color="#ffbf00"/><stop offset="0.205" stop-color="#ffc500"/><stop offset="0.227" stop-color="#ffcd00"/><stop offset="0.250" stop-color="#ffd500"/><stop offset="0.273" stop-color="#ffe000"/><stop offset="0.295" stop-color="#ffed00"/><stop offset="0.318" stop-color="#fffd00"/><stop offset="0.341" stop-color="#ecff13"/><stop offset="0.364" stop-color="#d1ff2e"/><stop offset="0.386" stop-color="#b1ff4e"/><stop offset="0.409" stop-color="#92ff6d"/><stop offset="0.432" stop-color="#7bff84"/><stop offset="0.455" stop-color="#6cff93"/><stop offset="0.477" stop-color="#5fffa0"/><stop offset="0.500" stop-color="#3fffc0"/><stop offset="0.523" stop-color="#17ffe8"/><stop offset="0.545" stop-color="#00f9ff"/><stop offset="0.568" stop-color="#00deff"/><stop offset="0.591" stop-color="#00aeff"/><stop offset="0.614" stop-color="#007bff"/><stop offset="0.636" stop-color="#0062ff"/><stop offset="0.659" stop-color="#0056ff"/><stop offset="0.682" stop-color="#0051ff"/><stop offset="0.705" stop-color="#004fff"/><stop offset="0.727" stop-color="#004cff"/><stop offset="0.750" stop-color="#0046ff"/><stop offset="0.773" stop-color="#0040ff"/><stop offset="0.795" stop-color="#003aff"/><stop offset="0.818" stop-color="#0034ff"/><stop offset="0.841" stop-color="#002eff"/><stop offset="0.864" stop-color="#002cff"/><stop offset="0.886" stop-color="#002dff"/><stop offset="0.909" stop-color="#002fff"/><stop offset="0.932" stop-color="#002eff"/><stop offset="0.955" stop-color="#002bff"/><stop offset="0.977" stop-color="#002cff"/><stop offset="1.000" stop-color="#0039ff"/></linearGradient><linearGradient id="g38" gradientUnits="userSpaceOnUse" x1="53.2" y1="0" x2="405.2" y2="0"><stop offset="0.000" stop-color="#ffbe00"/><stop offset="0.023" stop-color="#ffbb00"/><stop offset="0.045" stop-color="#ffb800"/><stop offset="0.068" stop-color="#ffb600"/><stop offset="0.091" stop-color="#ffb400"/><stop offset="0.114" stop-color="#ffb400"/><stop offset="0.136" stop-color="#ffb500"/><stop offset="0.159" stop-color="#ffb700"/><stop offset="0.182" stop-color="#ffbc00"/><stop offset="0.205" stop-color="#ffc200"/><stop offset="0.227" stop-color="#ffca00"/><stop offset="0.250" stop-color="#ffd300"/><stop offset="0.273" stop-color="#ffdd00"/><stop offset="0.295" stop-color="#ffea00"/><stop offset="0.318" stop-color="#fffb00"/><stop offset="0.341" stop-color="#eeff11"/><stop offset="0.364" stop-color="#d2ff2d"/><stop offset="0.386" stop-color="#b1ff4e"/><stop offset="0.409" stop-color="#90ff6f"/><stop offset="0.432" stop-color="#79ff86"/><stop offset="0.455" stop-color="#68ff97"/><stop offset="0.477" stop-color="#5affa5"/><stop offset="0.500" stop-color="#38ffc7"/><stop offset="0.523" stop-color="#15ffea"/><stop offset="0.545" stop-color="#00f9ff"/><stop offset="0.568" stop-color="#00ddff"/><stop offset="0.591" stop-color="#00abff"/><stop offset="0.614" stop-color="#007cff"/><stop offset="0.636" stop-color="#0064ff"/><stop offset="0.659" stop-color="#0059ff"/><stop offset="0.682" stop-color="#0054ff"/><stop offset="0.705" stop-color="#0051ff"/><stop offset="0.727" stop-color="#004eff"/><stop offset="0.750" stop-color="#0048ff"/><stop offset="0.773" stop-color="#0041ff"/><stop offset="0.795" stop-color="#003cff"/><stop offset="0.818" stop-color="#0036ff"/><stop offset="0.841" stop-color="#0032ff"/><stop offset="0.864" stop-color="#002fff"/><stop offset="0.886" stop-color="#0031ff"/><stop offset="0.909" stop-color="#0033ff"/><stop offset="0.932" stop-color="#0032ff"/><stop offset="0.955" stop-color="#0031ff"/><stop offset="0.977" stop-color="#0034ff"/><stop offset="1.000" stop-color="#0044ff"/></linearGradient><linearGradient id="g39" gradientUnits="userSpaceOnUse" x1="53.2" y1="0" x2="405.2" y2="0"><stop offset="0.000" stop-color="#ffba00"/><stop offset="0.023" stop-color="#ffb700"/><stop offset="0.045" stop-color="#ffb400"/><stop offset="0.068" stop-color="#ffb200"/><stop offset="0.091" stop-color="#ffb000"/><stop offset="0.114" stop-color="#ffb000"/><stop offset="0.136" stop-color="#ffb100"/><stop offset="0.159" stop-color="#ffb400"/><stop offset="0.182" stop-color="#ffb800"/><stop offset="0.205" stop-color="#ffbf00"/><stop offset="0.227" stop-color="#ffc700"/><stop offset="0.250" stop-color="#ffd000"/><stop offset="0.273" stop-color="#ffda00"/><stop offset="0.295" stop-color="#ffe700"/><stop offset="0.318" stop-color="#fff800"/><stop offset="0.341" stop-color="#f1ff0e"/><stop offset="0.364" stop-color="#d4ff2b"/><stop offset="0.386" stop-color="#b0ff4f"/><stop offset="0.409" stop-color="#8eff71"/><stop offset="0.432" stop-color="#76ff89"/><stop offset="0.455" stop-color="#64ff9b"/><stop offset="0.477" stop-color="#54ffab"/><stop offset="0.500" stop-color="#30ffcf"/><stop offset="0.523" stop-color="#12ffed"/><stop offset="0.545" stop-color="#00f9ff"/><stop offset="0.568" stop-color="#00dcff"/><stop offset="0.591" stop-color="#00a8ff"/><stop offset="0.614" stop-color="#007dff"/><stop offset="0.636" stop-color="#0068ff"/><stop offset="0.659" stop-color="#005dff"/><stop offset="0.682" stop-color="#0056ff"/><stop offset="0.705" stop-color="#0053ff"/><stop offset="0.727" stop-color="#004fff"/><stop offset="0.750" stop-color="#0049ff"/><stop offset="0.773" stop-color="#0043ff"/><stop offset="0.795" stop-color="#003eff"/><stop offset="0.818" stop-color="#0039ff"/><stop offset="0.841" stop-color="#0035ff"/><stop offset="0.864" stop-color="#0033ff"/><stop offset="0.886" stop-color="#0035ff"/><stop offset="0.909" stop-color="#0036ff"/><stop offset="0.932" stop-color="#0036ff"/><stop offset="0.955" stop-color="#0037ff"/><stop offset="0.977" stop-color="#003dff"/><stop offset="1.000" stop-color="#004fff"/></linearGradient><linearGradient id="g40" gradientUnits="userSpaceOnUse" x1="53.2" y1="0" x2="405.2" y2="0"><stop offset="0.000" stop-color="#ffb600"/><stop offset="0.023" stop-color="#ffb300"/><stop offset="0.045" stop-color="#ffb000"/><stop offset="0.068" stop-color="#ffae00"/><stop offset="0.091" stop-color="#ffac00"/><stop offset="0.114" stop-color="#ffac00"/><stop offset="0.136" stop-color="#ffad00"/><stop offset="0.159" stop-color="#ffb000"/><stop offset="0.182" stop-color="#ffb500"/><stop offset="0.205" stop-color="#ffbc00"/><stop offset="0.227" stop-color="#ffc400"/><stop offset="0.250" stop-color="#ffcd00"/><stop offset="0.273" stop-color="#ffd800"/><stop offset="0.295" stop-color="#ffe400"/><stop offset="0.318" stop-color="#fff500"/><stop offset="0.341" stop-color="#f3ff0c"/><stop offset="0.364" stop-color="#d6ff29"/><stop offset="0.386" stop-color="#b0ff4f"/><stop offset="0.409" stop-color="#8dff72"/><stop offset="0.432" stop-color="#73ff8c"/><stop offset="0.455" stop-color="#61ff9e"/><stop offset="0.477" stop-color="#4dffb2"/><stop offset="0.500" stop-color="#29ffd6"/><stop offset="0.523" stop-color="#0ffff0"/><stop offset="0.545" stop-color="#00f9ff"/><stop offset="0.568" stop-color="#00daff"/><stop offset="0.591" stop-color="#00a5ff"/><stop offset="0.614" stop-color="#007fff"/><stop offset="0.636" stop-color="#006bff"/><stop offset="0.659" stop-color="#0060ff"/><stop offset="0.682" stop-color="#0059ff"/><stop offset="0.705" stop-color="#0055ff"/><stop offset="0.727" stop-color="#0051ff"/><stop offset="0.750" stop-color="#004bff"/><stop offset="0.773" stop-color="#0045ff"/><stop offset="0.795" stop-color="#0040ff"/><stop offset="0.818" stop-color="#003cff"/><stop offset="0.841" stop-color="#0038ff"/><stop offset="0.864" stop-color="#0037ff"/><stop offset="0.886" stop-color="#0039ff"/><stop offset="0.909" stop-color="#003aff"/><stop offset="0.932" stop-color="#003bff"/><stop offset="0.955" stop-color="#003eff"/><stop offset="0.977" stop-color="#0047ff"/><stop offset="1.000" stop-color="#005cff"/></linearGradient><linearGradient id="g41" gradientUnits="userSpaceOnUse" x1="53.2" y1="0" x2="405.2" y2="0"><stop offset="0.000" stop-color="#ffb200"/><stop offset="0.023" stop-color="#ffaf00"/><stop offset="0.045" stop-color="#ffac00"/><stop offset="0.068" stop-color="#ffaa00"/><stop offset="0.091" stop-color="#ffa800"/><stop offset="0.114" stop-color="#ffa800"/><stop offset="0.136" stop-color="#ffa900"/><stop offset="0.159" stop-color="#ffac00"/><stop offset="0.182" stop-color="#ffb200"/><stop offset="0.205" stop-color="#ffb900"/><stop offset="0.227" stop-color="#ffc200"/><stop offset="0.250" stop-color="#ffcb00"/><stop offset="0.273" stop-color="#ffd500"/><stop offset="0.295" stop-color="#ffe200"/><stop offset="0.318" stop-color="#fff300"/><stop offset="0.341" stop-color="#f6ff09"/><stop offset="0.364" stop-color="#d9ff26"/><stop offset="0.386" stop-color="#b0ff4f"/><stop offset="0.409" stop-color="#8bff74"/><stop offset="0.432" stop-color="#72ff8d"/><stop offset="0.455" stop-color="#5fffa0"/><stop offset="0.477" stop-color="#46ffb9"/><stop offset="0.500" stop-color="#22ffdd"/><stop offset="0.523" stop-color="#0dfff2"/><stop offset="0.545" stop-color="#00f8ff"/><stop offset="0.568" stop-color="#00d8ff"/><stop offset="0.591" stop-color="#00a3ff"/><stop offset="0.614" stop-color="#0082ff"/><stop offset="0.636" stop-color="#006fff"/><stop offset="0.659" stop-color="#0063ff"/><stop offset="0.682" stop-color="#005bff"/><stop offset="0.705" stop-color="#0057ff"/><stop offset="0.727" stop-color="#0053ff"/><stop offset="0.750" stop-color="#004dff"/><stop offset="0.773" stop-color="#0047ff"/><stop offset="0.795" stop-color="#0043ff"/><stop offset="0.818" stop-color="#003fff"/><stop offset="0.841" stop-color="#003cff"/><stop offset="0.864" stop-color="#003cff"/><stop offset="0.886" stop-color="#003dff"/><stop offset="0.909" stop-color="#003fff"/><stop offset="0.932" stop-color="#0040ff"/><stop offset="0.955" stop-color="#0046ff"/><stop offset="0.977" stop-color="#0052ff"/><stop offset="1.000" stop-color="#006aff"/></linearGradient><linearGradient id="g42" gradientUnits="userSpaceOnUse" x1="53.2" y1="0" x2="405.2" y2="0"><stop offset="0.000" stop-color="#ffae00"/><stop offset="0.023" stop-color="#ffab00"/><stop offset="0.045" stop-color="#ffa800"/><stop offset="0.068" stop-color="#ffa600"/><stop offset="0.091" stop-color="#ffa500"/><stop offset="0.114" stop-color="#ffa400"/><stop offset="0.136" stop-color="#ffa500"/><stop offset="0.159" stop-color="#ffa900"/><stop offset="0.182" stop-color="#ffae00"/><stop offset="0.205" stop-color="#ffb600"/><stop offset="0.227" stop-color="#ffbf00"/><stop offset="0.250" stop-color="#ffc900"/><stop offset="0.273" stop-color="#ffd300"/><stop offset="0.295" stop-color="#ffe000"/><stop offset="0.318" stop-color="#fff100"/><stop offset="0.341" stop-color="#f8ff07"/><stop offset="0.364" stop-color="#dbff24"/><stop offset="0.386" stop-color="#b0ff4f"/><stop offset="0.409" stop-color="#8aff75"/><stop offset="0.432" stop-color="#71ff8e"/><stop offset="0.455" stop-color="#5effa1"/><stop offset="0.477" stop-color="#3fffc0"/><stop offset="0.500" stop-color="#1dffe2"/><stop offset="0.523" stop-color="#0bfff4"/><stop offset="0.545" stop-color="#00f8ff"/><stop offset="0.568" stop-color="#00d6ff"/><stop offset="0.591" stop-color="#00a2ff"/><stop offset="0.614" stop-color="#0086ff"/><stop offset="0.636" stop-color="#0074ff"/><stop offset="0.659" stop-color="#0066ff"/><stop offset="0.682" stop-color="#005dff"/><stop offset="0.705" stop-color="#0059ff"/><stop offset="0.727" stop-color="#0055ff"/><stop offset="0.750" stop-color="#004fff"/><stop offset="0.773" stop-color="#004aff"/><stop offset="0.795" stop-color="#0046ff"/><stop offset="0.818" stop-color="#0043ff"/><stop offset="0.841" stop-color="#0040ff"/><stop offset="0.864" stop-color="#0040ff"/><stop offset="0.886" stop-color="#0041ff"/><stop offset="0.909" stop-color="#0043ff"/><stop offset="0.932" stop-color="#0046ff"/><stop offset="0.955" stop-color="#004eff"/><stop offset="0.977" stop-color="#005eff"/><stop offset="1.000" stop-color="#0078ff"/></linearGradient><linearGradient id="g43" gradientUnits="userSpaceOnUse" x1="53.2" y1="0" x2="405.2" y2="0"><stop offset="0.000" stop-color="#ffaa00"/><stop offset="0.023" stop-color="#ffa700"/><stop offset="0.045" stop-color="#ffa400"/><stop offset="0.068" stop-color="#ffa200"/><stop offset="0.091" stop-color="#ffa100"/><stop offset="0.114" stop-color="#ffa100"/><stop offset="0.136" stop-color="#ffa200"/><stop offset="0.159" stop-color="#ffa500"/><stop offset="0.182" stop-color="#ffab00"/><stop offset="0.205" stop-color="#ffb400"/><stop offset="0.227" stop-color="#ffbd00"/><stop offset="0.250" stop-color="#ffc700"/><stop offset="0.273" stop-color="#ffd000"/><stop offset="0.295" stop-color="#ffdd00"/><stop offset="0.318" stop-color="#ffef00"/><stop offset="0.341" stop-color="#faff05"/><stop offset="0.364" stop-color="#deff21"/><stop offset="0.386" stop-color="#b0ff4f"/><stop offset="0.409" stop-color="#89ff76"/><stop offset="0.432" stop-color="#72ff8d"/><stop offset="0.455" stop-color="#5dffa2"/><stop offset="0.477" stop-color="#38ffc7"/><stop offset="0.500" stop-color="#18ffe7"/><stop offset="0.523" stop-color="#09fff6"/><stop offset="0.545" stop-color="#00f7ff"/><stop offset="0.568" stop-color="#00d3ff"/><stop offset="0.591" stop-color="#00a2ff"/><stop offset="0.614" stop-color="#008aff"/><stop offset="0.636" stop-color="#0079ff"/><stop offset="0.659" stop-color="#006aff"/><stop offset="0.682" stop-color="#0060ff"/><stop offset="0.705" stop-color="#005cff"/><stop offset="0.727" stop-color="#0057ff"/><stop offset="0.750" stop-color="#0052ff"/><stop offset="0.773" stop-color="#004dff"/><stop offset="0.795" stop-color="#004aff"/><stop offset="0.818" stop-color="#0047ff"/><stop offset="0.841" stop-color="#0045ff"/><stop offset="0.864" stop-color="#0044ff"/><stop offset="0.886" stop-color="#0046ff"/><stop offset="0.909" stop-color="#0048ff"/><stop offset="0.932" stop-color="#004dff"/><stop offset="0.955" stop-color="#0058ff"/><stop offset="0.977" stop-color="#006bff"/><stop offset="1.000" stop-color="#0088ff"/></linearGradient><linearGradient id="g44" gradientUnits="userSpaceOnUse" x1="53.2" y1="0" x2="405.2" y2="0"><stop offset="0.000" stop-color="#ffa600"/><stop offset="0.023" stop-color="#ffa300"/><stop offset="0.045" stop-color="#ffa100"/><stop offset="0.068" stop-color="#ff9f00"/><stop offset="0.091" stop-color="#ff9d00"/><stop offset="0.114" stop-color="#ff9d00"/><stop offset="0.136" stop-color="#ff9e00"/><stop offset="0.159" stop-color="#ffa200"/><stop offset="0.182" stop-color="#ffa800"/><stop offset="0.205" stop-color="#ffb100"/><stop offset="0.227" stop-color="#ffbb00"/><stop offset="0.250" stop-color="#ffc500"/><stop offset="0.273" stop-color="#ffce00"/><stop offset="0.295" stop-color="#ffdb00"/><stop offset="0.318" stop-color="#ffed00"/><stop offset="0.341" stop-color="#fcff03"/><stop offset="0.364" stop-color="#e0ff1f"/><stop offset="0.386" stop-color="#b0ff4f"/><stop offset="0.409" stop-color="#88ff77"/><stop offset="0.432" stop-color="#74ff8b"/><stop offset="0.455" stop-color="#5effa1"/><stop offset="0.477" stop-color="#33ffcc"/><stop offset="0.500" stop-color="#15ffea"/><stop offset="0.523" stop-color="#08fff7"/><stop offset="0.545" stop-color="#00f6ff"/><stop offset="0.568" stop-color="#00d0ff"/><stop offset="0.591" stop-color="#00a2ff"/><stop offset="0.614" stop-color="#008fff"/><stop offset="0.636" stop-color="#007eff"/><stop offset="0.659" stop-color="#006eff"/><stop offset="0.682" stop-color="#0063ff"/><stop offset="0.705" stop-color="#005eff"/><stop offset="0.727" stop-color="#005aff"/><stop offset="0.750" stop-color="#0055ff"/><stop offset="0.773" stop-color="#0051ff"/><stop offset="0.795" stop-color="#004eff"/><stop offset="0.818" stop-color="#004bff"/><stop offset="0.841" stop-color="#0049ff"/><stop offset="0.864" stop-color="#0049ff"/><stop offset="0.886" stop-color="#004bff"/><stop offset="0.909" stop-color="#004eff"/><stop offset="0.932" stop-color="#0054ff"/><stop offset="0.955" stop-color="#0063ff"/><stop offset="0.977" stop-color="#007bff"/><stop offset="1.000" stop-color="#0099ff"/></linearGradient><linearGradient id="g45" gradientUnits="userSpaceOnUse" x1="53.2" y1="0" x2="405.2" y2="0"><stop offset="0.000" stop-color="#ffa200"/><stop offset="0.023" stop-color="#ff9f00"/><stop offset="0.045" stop-color="#ff9d00"/><stop offset="0.068" stop-color="#ff9b00"/><stop offset="0.091" stop-color="#ff9a00"/><stop offset="0.114" stop-color="#ff9900"/><stop offset="0.136" stop-color="#ff9b00"/><stop offset="0.159" stop-color="#ff9e00"/><stop offset="0.182" stop-color="#ffa500"/><stop offset="0.205" stop-color="#ffaf00"/><stop offset="0.227" stop-color="#ffb900"/><stop offset="0.250" stop-color="#ffc300"/><stop offset="0.273" stop-color="#ffcc00"/><stop offset="0.295" stop-color="#ffd900"/><stop offset="0.318" stop-color="#ffeb00"/><stop offset="0.341" stop-color="#fdff02"/><stop offset="0.364" stop-color="#e3ff1c"/><stop offset="0.386" stop-color="#b1ff4e"/><stop offset="0.409" stop-color="#88ff77"/><stop offset="0.432" stop-color="#76ff89"/><stop offset="0.455" stop-color="#5effa1"/><stop offset="0.477" stop-color="#2fffd0"/><stop offset="0.500" stop-color="#12ffed"/><stop offset="0.523" stop-color="#07fff8"/><stop offset="0.545" stop-color="#00f6ff"/><stop offset="0.568" stop-color="#00ceff"/><stop offset="0.591" stop-color="#00a3ff"/><stop offset="0.614" stop-color="#0095ff"/><stop offset="0.636" stop-color="#0083ff"/><stop offset="0.659" stop-color="#0072ff"/><stop offset="0.682" stop-color="#0066ff"/><stop offset="0.705" stop-color="#0062ff"/><stop offset="0.727" stop-color="#005eff"/><stop offset="0.750" stop-color="#0059ff"/><stop offset="0.773" stop-color="#0055ff"/><stop offset="0.795" stop-color="#0052ff"/><stop offset="0.818" stop-color="#0050ff"/><stop offset="0.841" stop-color="#004fff"/><stop offset="0.864" stop-color="#004fff"/><stop offset="0.886" stop-color="#0051ff"/><stop offset="0.909" stop-color="#0054ff"/><stop offset="0.932" stop-color="#005cff"/><stop offset="0.955" stop-color="#006eff"/><stop offset="0.977" stop-color="#008dff"/><stop offset="1.000" stop-color="#00abff"/></linearGradient><linearGradient id="g46" gradientUnits="userSpaceOnUse" x1="53.2" y1="0" x2="405.2" y2="0"><stop offset="0.000" stop-color="#ff9e00"/><stop offset="0.023" stop-color="#ff9c00"/><stop offset="0.045" stop-color="#ff9900"/><stop offset="0.068" stop-color="#ff9700"/><stop offset="0.091" stop-color="#ff9600"/><stop offset="0.114" stop-color="#ff9600"/><stop offset="0.136" stop-color="#ff9700"/><stop offset="0.159" stop-color="#ff9b00"/><stop offset="0.182" stop-color="#ffa200"/><stop offset="0.205" stop-color="#ffac00"/><stop offset="0.227" stop-color="#ffb800"/><stop offset="0.250" stop-color="#ffc200"/><stop offset="0.273" stop-color="#ffcb00"/><stop offset="0.295" stop-color="#ffd700"/><stop offset="0.318" stop-color="#ffea00"/><stop offset="0.341" stop-color="#feff01"/><stop offset="0.364" stop-color="#e4ff1b"/><stop offset="0.386" stop-color="#b1ff4e"/><stop offset="0.409" stop-color="#89ff76"/><stop offset="0.432" stop-color="#7aff85"/><stop offset="0.455" stop-color="#5fffa0"/><stop offset="0.477" stop-color="#2cffd3"/><stop offset="0.500" stop-color="#10ffef"/><stop offset="0.523" stop-color="#07fff8"/><stop offset="0.545" stop-color="#00f5ff"/><stop offset="0.568" stop-color="#00cbff"/><stop offset="0.591" stop-color="#00a5ff"/><stop offset="0.614" stop-color="#009aff"/><stop offset="0.636" stop-color="#0088ff"/><stop offset="0.659" stop-color="#0076ff"/><stop offset="0.682" stop-color="#006aff"/><stop offset="0.705" stop-color="#0066ff"/><stop offset="0.727" stop-color="#0062ff"/><stop offset="0.750" stop-color="#005eff"/><stop offset="0.773" stop-color="#005aff"/><stop offset="0.795" stop-color="#0058ff"/><stop offset="0.818" stop-color="#0055ff"/><stop offset="0.841" stop-color="#0054ff"/><stop offset="0.864" stop-color="#0054ff"/><stop offset="0.886" stop-color="#0057ff"/><stop offset="0.909" stop-color="#005bff"/><stop offset="0.932" stop-color="#0065ff"/><stop offset="0.955" stop-color="#007aff"/><stop offset="0.977" stop-color="#009fff"/><stop offset="1.000" stop-color="#00bcff"/></linearGradient><linearGradient id="g47" gradientUnits="userSpaceOnUse" x1="53.2" y1="0" x2="405.2" y2="0"><stop offset="0.000" stop-color="#ff9a00"/><stop offset="0.023" stop-color="#ff9800"/><stop offset="0.045" stop-color="#ff9600"/><stop offset="0.068" stop-color="#ff9400"/><stop offset="0.091" stop-color="#ff9300"/><stop offset="0.114" stop-color="#ff9300"/><stop offset="0.136" stop-color="#ff9400"/><stop offset="0.159" stop-color="#ff9800"/><stop offset="0.182" stop-color="#ff9f00"/><stop offset="0.205" stop-color="#ffaa00"/><stop offset="0.227" stop-color="#ffb600"/><stop offset="0.250" stop-color="#ffc100"/><stop offset="0.273" stop-color="#ffc900"/><stop offset="0.295" stop-color="#ffd500"/><stop offset="0.318" stop-color="#ffe900"/><stop offset="0.341" stop-color="#feff01"/><stop offset="0.364" stop-color="#e6ff19"/><stop offset="0.386" stop-color="#b2ff4d"/><stop offset="0.409" stop-color="#8bff74"/><stop offset="0.432" stop-color="#7eff81"/><stop offset="0.455" stop-color="#62ff9d"/><stop offset="0.477" stop-color="#2affd5"/><stop offset="0.500" stop-color="#10ffef"/><stop offset="0.523" stop-color="#07fff8"/><stop offset="0.545" stop-color="#00f5ff"/><stop offset="0.568" stop-color="#00c9ff"/><stop offset="0.591" stop-color="#00a7ff"/><stop offset="0.614" stop-color="#009dff"/><stop offset="0.636" stop-color="#008cff"/><stop offset="0.659" stop-color="#007bff"/><stop offset="0.682" stop-color="#006eff"/><stop offset="0.705" stop-color="#006aff"/><stop offset="0.727" stop-color="#0067ff"/><stop offset="0.750" stop-color="#0063ff"/><stop offset="0.773" stop-color="#0060ff"/><stop offset="0.795" stop-color="#005dff"/><stop offset="0.818" stop-color="#005bff"/><stop offset="0.841" stop-color="#005bff"/><stop offset="0.864" stop-color="#005bff"/><stop offset="0.886" stop-color="#005dff"/><stop offset="0.909" stop-color="#0062ff"/><stop offset="0.932" stop-color="#006eff"/><stop offset="0.955" stop-color="#0087ff"/><stop offset="0.977" stop-color="#00afff"/><stop offset="1.000" stop-color="#00ccff"/></linearGradient><linearGradient id="g48" gradientUnits="userSpaceOnUse" x1="53.2" y1="0" x2="405.2" y2="0"><stop offset="0.000" stop-color="#ff9600"/><stop offset="0.023" stop-color="#ff9400"/><stop offset="0.045" stop-color="#ff9200"/><stop offset="0.068" stop-color="#ff9100"/><stop offset="0.091" stop-color="#ff9000"/><stop offset="0.114" stop-color="#ff8f00"/><stop offset="0.136" stop-color="#ff9100"/><stop offset="0.159" stop-color="#ff9400"/><stop offset="0.182" stop-color="#ff9c00"/><stop offset="0.205" stop-color="#ffa800"/><stop offset="0.227" stop-color="#ffb500"/><stop offset="0.250" stop-color="#ffc000"/><stop offset="0.273" stop-color="#ffc800"/><stop offset="0.295" stop-color="#ffd300"/><stop offset="0.318" stop-color="#ffe800"/><stop offset="0.341" stop-color="#ffff00"/><stop offset="0.364" stop-color="#e6ff19"/><stop offset="0.386" stop-color="#b3ff4c"/><stop offset="0.409" stop-color="#8dff72"/><stop offset="0.432" stop-color="#82ff7d"/><stop offset="0.455" stop-color="#66ff99"/><stop offset="0.477" stop-color="#2affd5"/><stop offset="0.500" stop-color="#0ffff0"/><stop offset="0.523" stop-color="#07fff8"/><stop offset="0.545" stop-color="#00f5ff"/><stop offset="0.568" stop-color="#00c8ff"/><stop offset="0.591" stop-color="#00aaff"/><stop offset="0.614" stop-color="#00a1ff"/><stop offset="0.636" stop-color="#0091ff"/><stop offset="0.659" stop-color="#0080ff"/><stop offset="0.682" stop-color="#0074ff"/><stop offset="0.705" stop-color="#0070ff"/><stop offset="0.727" stop-color="#006cff"/><stop offset="0.750" stop-color="#0069ff"/><stop offset="0.773" stop-color="#0066ff"/><stop offset="0.795" stop-color="#0064ff"/><stop offset="0.818" stop-color="#0062ff"/><stop offset="0.841" stop-color="#0061ff"/><stop offset="0.864" stop-color="#0061ff"/><stop offset="0.886" stop-color="#0064ff"/><stop offset="0.909" stop-color="#006bff"/><stop offset="0.932" stop-color="#0077ff"/><stop offset="0.955" stop-color="#0094ff"/><stop offset="0.977" stop-color="#00bfff"/><stop offset="1.000" stop-color="#00daff"/></linearGradient><linearGradient id="g49" gradientUnits="userSpaceOnUse" x1="53.2" y1="0" x2="405.2" y2="0"><stop offset="0.000" stop-color="#ff9300"/><stop offset="0.023" stop-color="#ff9100"/><stop offset="0.045" stop-color="#ff8f00"/><stop offset="0.068" stop-color="#ff8d00"/><stop offset="0.091" stop-color="#ff8c00"/><stop offset="0.114" stop-color="#ff8c00"/><stop offset="0.136" stop-color="#ff8d00"/><stop offset="0.159" stop-color="#ff9100"/><stop offset="0.182" stop-color="#ff9900"/><stop offset="0.205" stop-color="#ffa600"/><stop offset="0.227" stop-color="#ffb400"/><stop offset="0.250" stop-color="#ffbf00"/><stop offset="0.273" stop-color="#ffc600"/><stop offset="0.295" stop-color="#ffd100"/><stop offset="0.318" stop-color="#ffe800"/><stop offset="0.341" stop-color="#ffff00"/><stop offset="0.364" stop-color="#e7ff18"/><stop offset="0.386" stop-color="#b4ff4b"/><stop offset="0.409" stop-color="#8fff70"/><stop offset="0.432" stop-color="#87ff78"/><stop offset="0.455" stop-color="#6aff95"/><stop offset="0.477" stop-color="#2bffd4"/><stop offset="0.500" stop-color="#10ffef"/><stop offset="0.523" stop-color="#08fff7"/><stop offset="0.545" stop-color="#00f5ff"/><stop offset="0.568" stop-color="#00c8ff"/><stop offset="0.591" stop-color="#00aeff"/><stop offset="0.614" stop-color="#00a4ff"/><stop offset="0.636" stop-color="#0095ff"/><stop offset="0.659" stop-color="#0085ff"/><stop offset="0.682" stop-color="#007aff"/><stop offset="0.705" stop-color="#0076ff"/><stop offset="0.727" stop-color="#0072ff"/><stop offset="0.750" stop-color="#006fff"/><stop offset="0.773" stop-color="#006cff"/><stop offset="0.795" stop-color="#006bff"/><stop offset="0.818" stop-color="#006aff"/><stop offset="0.841" stop-color="#0069ff"/><stop offset="0.864" stop-color="#0069ff"/><stop offset="0.886" stop-color="#006cff"/><stop offset="0.909" stop-color="#0073ff"/><stop offset="0.932" stop-color="#0082ff"/><stop offset="0.955" stop-color="#00a1ff"/><stop offset="0.977" stop-color="#00cdff"/><stop offset="1.000" stop-color="#00e7ff"/></linearGradient><linearGradient id="g50" gradientUnits="userSpaceOnUse" x1="53.2" y1="0" x2="405.2" y2="0"><stop offset="0.000" stop-color="#ff8f00"/><stop offset="0.023" stop-color="#ff8d00"/><stop offset="0.045" stop-color="#ff8b00"/><stop offset="0.068" stop-color="#ff8a00"/><stop offset="0.091" stop-color="#ff8900"/><stop offset="0.114" stop-color="#ff8900"/><stop offset="0.136" stop-color="#ff8a00"/><stop offset="0.159" stop-color="#ff8e00"/><stop offset="0.182" stop-color="#ff9600"/><stop offset="0.205" stop-color="#ffa400"/><stop offset="0.227" stop-color="#ffb300"/><stop offset="0.250" stop-color="#ffbf00"/><stop offset="0.273" stop-color="#ffc500"/><stop offset="0.295" stop-color="#ffcf00"/><stop offset="0.318" stop-color="#ffe700"/><stop offset="0.341" stop-color="#fffe00"/><stop offset="0.364" stop-color="#e7ff18"/><stop offset="0.386" stop-color="#b4ff4b"/><stop offset="0.409" stop-color="#91ff6e"/><stop offset="0.432" stop-color="#8bff74"/><stop offset="0.455" stop-color="#6dff92"/><stop offset="0.477" stop-color="#2dffd2"/><stop offset="0.500" stop-color="#11ffee"/><stop offset="0.523" stop-color="#09fff6"/><stop offset="0.545" stop-color="#00f6ff"/><stop offset="0.568" stop-color="#00c9ff"/><stop offset="0.591" stop-color="#00b2ff"/><stop offset="0.614" stop-color="#00a8ff"/><stop offset="0.636" stop-color="#009aff"/><stop offset="0.659" stop-color="#008bff"/><stop offset="0.682" stop-color="#0081ff"/><stop offset="0.705" stop-color="#007dff"/><stop offset="0.727" stop-color="#0079ff"/><stop offset="0.750" stop-color="#0076ff"/><stop offset="0.773" stop-color="#0074ff"/><stop offset="0.795" stop-color="#0072ff"/><stop offset="0.818" stop-color="#0072ff"/><stop offset="0.841" stop-color="#0071ff"/><stop offset="0.864" stop-color="#0071ff"/><stop offset="0.886" stop-color="#0075ff"/><stop offset="0.909" stop-color="#007dff"/><stop offset="0.932" stop-color="#008dff"/><stop offset="0.955" stop-color="#00afff"/><stop offset="0.977" stop-color="#00daff"/><stop offset="1.000" stop-color="#00f3ff"/></linearGradient><linearGradient id="g51" gradientUnits="userSpaceOnUse" x1="53.2" y1="0" x2="405.2" y2="0"><stop offset="0.000" stop-color="#ff8b00"/><stop offset="0.023" stop-color="#ff8900"/><stop offset="0.045" stop-color="#ff8800"/><stop offset="0.068" stop-color="#ff8700"/><stop offset="0.091" stop-color="#ff8600"/><stop offset="0.114" stop-color="#ff8600"/><stop offset="0.136" stop-color="#ff8700"/><stop offset="0.159" stop-color="#ff8b00"/><stop offset="0.182" stop-color="#ff9300"/><stop offset="0.205" stop-color="#ffa200"/><stop offset="0.227" stop-color="#ffb200"/><stop offset="0.250" stop-color="#ffbf00"/><stop offset="0.273" stop-color="#ffc500"/><stop offset="0.295" stop-color="#ffcd00"/><stop offset="0.318" stop-color="#ffe700"/><stop offset="0.341" stop-color="#fffd00"/><stop offset="0.364" stop-color="#e8ff17"/><stop offset="0.386" stop-color="#b5ff4a"/><stop offset="0.409" stop-color="#93ff6c"/><stop offset="0.432" stop-color="#8fff70"/><stop offset="0.455" stop-color="#71ff8e"/><stop offset="0.477" stop-color="#2fffd0"/><stop offset="0.500" stop-color="#12ffed"/><stop offset="0.523" stop-color="#0afff5"/><stop offset="0.545" stop-color="#00f6ff"/><stop offset="0.568" stop-color="#00caff"/><stop offset="0.591" stop-color="#00b8ff"/><stop offset="0.614" stop-color="#00adff"/><stop offset="0.636" stop-color="#009fff"/><stop offset="0.659" stop-color="#0091ff"/><stop offset="0.682" stop-color="#0088ff"/><stop offset="0.705" stop-color="#0084ff"/><stop offset="0.727" stop-color="#0080ff"/><stop offset="0.750" stop-color="#007dff"/><stop offset="0.773" stop-color="#007bff"/><stop offset="0.795" stop-color="#007bff"/><stop offset="0.818" stop-color="#007aff"/><stop offset="0.841" stop-color="#0079ff"/><stop offset="0.864" stop-color="#007aff"/><stop offset="0.886" stop-color="#007eff"/><stop offset="0.909" stop-color="#0088ff"/><stop offset="0.932" stop-color="#0099ff"/><stop offset="0.955" stop-color="#00bcff"/><stop offset="0.977" stop-color="#00e5ff"/><stop offset="1.000" stop-color="#00feff"/></linearGradient><linearGradient id="g52" gradientUnits="userSpaceOnUse" x1="53.2" y1="0" x2="405.2" y2="0"><stop offset="0.000" stop-color="#ff8800"/><stop offset="0.023" stop-color="#ff8600"/><stop offset="0.045" stop-color="#ff8500"/><stop offset="0.068" stop-color="#ff8400"/><stop offset="0.091" stop-color="#ff8300"/><stop offset="0.114" stop-color="#ff8300"/><stop offset="0.136" stop-color="#ff8400"/><stop offset="0.159" stop-color="#ff8800"/><stop offset="0.182" stop-color="#ff9000"/><stop offset="0.205" stop-color="#ffa000"/><stop offset="0.227" stop-color="#ffb200"/><stop offset="0.250" stop-color="#ffbf00"/><stop offset="0.273" stop-color="#ffc400"/><stop offset="0.295" stop-color="#ffcc00"/><stop offset="0.318" stop-color="#ffe700"/><stop offset="0.341" stop-color="#fffc00"/><stop offset="0.364" stop-color="#e9ff16"/><stop offset="0.386" stop-color="#b6ff49"/><stop offset="0.409" stop-color="#95ff6a"/><stop offset="0.432" stop-color="#92ff6d"/><stop offset="0.455" stop-color="#73ff8c"/><stop offset="0.477" stop-color="#31ffce"/><stop offset="0.500" stop-color="#13ffec"/><stop offset="0.523" stop-color="#0afff5"/><stop offset="0.545" stop-color="#00f6ff"/><stop offset="0.568" stop-color="#00cdff"/><stop offset="0.591" stop-color="#00beff"/><stop offset="0.614" stop-color="#00b2ff"/><stop offset="0.636" stop-color="#00a4ff"/><stop offset="0.659" stop-color="#0098ff"/><stop offset="0.682" stop-color="#0090ff"/><stop offset="0.705" stop-color="#008cff"/><stop offset="0.727" stop-color="#0088ff"/><stop offset="0.750" stop-color="#0084ff"/><stop offset="0.773" stop-color="#0083ff"/><stop offset="0.795" stop-color="#0083ff"/><stop offset="0.818" stop-color="#0084ff"/><stop offset="0.841" stop-color="#0082ff"/><stop offset="0.864" stop-color="#0083ff"/><stop offset="0.886" stop-color="#0088ff"/><stop offset="0.909" stop-color="#0093ff"/><stop offset="0.932" stop-color="#00a7ff"/><stop offset="0.955" stop-color="#00caff"/><stop offset="0.977" stop-color="#00f0ff"/><stop offset="1.000" stop-color="#09fff6"/></linearGradient><linearGradient id="g53" gradientUnits="userSpaceOnUse" x1="53.2" y1="0" x2="405.2" y2="0"><stop offset="0.000" stop-color="#ff8400"/><stop offset="0.023" stop-color="#ff8200"/><stop offset="0.045" stop-color="#ff8100"/><stop offset="0.068" stop-color="#ff8000"/><stop offset="0.091" stop-color="#ff8000"/><stop offset="0.114" stop-color="#ff8000"/><stop offset="0.136" stop-color="#ff8100"/><stop offset="0.159" stop-color="#ff8400"/><stop offset="0.182" stop-color="#ff8d00"/><stop offset="0.205" stop-color="#ff9e00"/><stop offset="0.227" stop-color="#ffb100"/><stop offset="0.250" stop-color="#ffbf00"/><stop offset="0.273" stop-color="#ffc300"/><stop offset="0.295" stop-color="#ffcb00"/><stop offset="0.318" stop-color="#ffe700"/><stop offset="0.341" stop-color="#fffb00"/><stop offset="0.364" stop-color="#ebff14"/><stop offset="0.386" stop-color="#b7ff48"/><stop offset="0.409" stop-color="#98ff67"/><stop offset="0.432" stop-color="#96ff69"/><stop offset="0.455" stop-color="#76ff89"/><stop offset="0.477" stop-color="#32ffcd"/><stop offset="0.500" stop-color="#14ffeb"/><stop offset="0.523" stop-color="#0afff5"/><stop offset="0.545" stop-color="#00f6ff"/><stop offset="0.568" stop-color="#00cfff"/><stop offset="0.591" stop-color="#00c6ff"/><stop offset="0.614" stop-color="#00b9ff"/><stop offset="0.636" stop-color="#00aaff"/><stop offset="0.659" stop-color="#009fff"/><stop offset="0.682" stop-color="#0098ff"/><stop offset="0.705" stop-color="#0094ff"/><stop offset="0.727" stop-color="#008fff"/><stop offset="0.750" stop-color="#008cff"/><stop offset="0.773" stop-color="#008cff"/><stop offset="0.795" stop-color="#008cff"/><stop offset="0.818" stop-color="#008dff"/><stop offset="0.841" stop-color="#008cff"/><stop offset="0.864" stop-color="#008dff"/><stop offset="0.886" stop-color="#0093ff"/><stop offset="0.909" stop-color="#00a0ff"/><stop offset="0.932" stop-color="#00b6ff"/><stop offset="0.955" stop-color="#00d8ff"/><stop offset="0.977" stop-color="#00faff"/><stop offset="1.000" stop-color="#12ffed"/></linearGradient><linearGradient id="g54" gradientUnits="userSpaceOnUse" x1="53.2" y1="0" x2="405.2" y2="0"><stop offset="0.000" stop-color="#ff8000"/><stop offset="0.023" stop-color="#ff7f00"/><stop offset="0.045" stop-color="#ff7e00"/><stop offset="0.068" stop-color="#ff7d00"/><stop offset="0.091" stop-color="#ff7d00"/><stop offset="0.114" stop-color="#ff7e00"/><stop offset="0.136" stop-color="#ff7f00"/><stop offset="0.159" stop-color="#ff8200"/><stop offset="0.182" stop-color="#ff8a00"/><stop offset="0.205" stop-color="#ff9c00"/><stop offset="0.227" stop-color="#ffb100"/><stop offset="0.250" stop-color="#ffbe00"/><stop offset="0.273" stop-color="#ffc300"/><stop offset="0.295" stop-color="#ffca00"/><stop offset="0.318" stop-color="#ffe700"/><stop offset="0.341" stop-color="#fffa00"/><stop offset="0.364" stop-color="#edff12"/><stop offset="0.386" stop-color="#b8ff47"/><stop offset="0.409" stop-color="#9bff64"/><stop offset="0.432" stop-color="#99ff66"/><stop offset="0.455" stop-color="#78ff87"/><stop offset="0.477" stop-color="#34ffcb"/><stop offset="0.500" stop-color="#15ffea"/><stop offset="0.523" stop-color="#0afff5"/><stop offset="0.545" stop-color="#00f6ff"/><stop offset="0.568" stop-color="#00d3ff"/><stop offset="0.591" stop-color="#00ceff"/><stop offset="0.614" stop-color="#00c0ff"/><stop offset="0.636" stop-color="#00b2ff"/><stop offset="0.659" stop-color="#00a7ff"/><stop offset="0.682" stop-color="#00a0ff"/><stop offset="0.705" stop-color="#009dff"/><stop offset="0.727" stop-color="#0097ff"/><stop offset="0.750" stop-color="#0095ff"/><stop offset="0.773" stop-color="#0094ff"/><stop offset="0.795" stop-color="#0096ff"/><stop offset="0.818" stop-color="#0097ff"/><stop offset="0.841" stop-color="#0097ff"/><stop offset="0.864" stop-color="#0098ff"/><stop offset="0.886" stop-color="#009fff"/><stop offset="0.909" stop-color="#00aeff"/><stop offset="0.932" stop-color="#00c7ff"/><stop offset="0.955" stop-color="#00e6ff"/><stop offset="0.977" stop-color="#05fffa"/><stop offset="1.000" stop-color="#1bffe4"/></linearGradient><linearGradient id="g55" gradientUnits="userSpaceOnUse" x1="53.2" y1="0" x2="405.2" y2="0"><stop offset="0.000" stop-color="#ff7d00"/><stop offset="0.023" stop-color="#ff7c00"/><stop offset="0.045" stop-color="#ff7b00"/><stop offset="0.068" stop-color="#ff7a00"/><stop offset="0.091" stop-color="#ff7b00"/><stop offset="0.114" stop-color="#ff7b00"/><stop offset="0.136" stop-color="#ff7c00"/><stop offset="0.159" stop-color="#ff7f00"/><stop offset="0.182" stop-color="#ff8700"/><stop offset="0.205" stop-color="#ff9a00"/><stop offset="0.227" stop-color="#ffb100"/><stop offset="0.250" stop-color="#ffbe00"/><stop offset="0.273" stop-color="#ffc100"/><stop offset="0.295" stop-color="#ffca00"/><stop offset="0.318" stop-color="#ffe700"/><stop offset="0.341" stop-color="#fff900"/><stop offset="0.364" stop-color="#eeff11"/><stop offset="0.386" stop-color="#b9ff46"/><stop offset="0.409" stop-color="#9eff61"/><stop offset="0.432" stop-color="#9dff62"/><stop offset="0.455" stop-color="#7aff85"/><stop offset="0.477" stop-color="#35ffca"/><stop offset="0.500" stop-color="#17ffe8"/><stop offset="0.523" stop-color="#0afff5"/><stop offset="0.545" stop-color="#00f6ff"/><stop offset="0.568" stop-color="#00d8ff"/><stop offset="0.591" stop-color="#00d6ff"/><stop offset="0.614" stop-color="#00c8ff"/><stop offset="0.636" stop-color="#00baff"/><stop offset="0.659" stop-color="#00afff"/><stop offset="0.682" stop-color="#00a9ff"/><stop offset="0.705" stop-color="#00a5ff"/><stop offset="0.727" stop-color="#00a0ff"/><stop offset="0.750" stop-color="#009dff"/><stop offset="0.773" stop-color="#009dff"/><stop offset="0.795" stop-color="#009fff"/><stop offset="0.818" stop-color="#00a1ff"/><stop offset="0.841" stop-color="#00a1ff"/><stop offset="0.864" stop-color="#00a4ff"/><stop offset="0.886" stop-color="#00acff"/><stop offset="0.909" stop-color="#00beff"/><stop offset="0.932" stop-color="#00d7ff"/><stop offset="0.955" stop-color="#00f3ff"/><stop offset="0.977" stop-color="#0ffff0"/><stop offset="1.000" stop-color="#23ffdc"/></linearGradient><linearGradient id="g56" gradientUnits="userSpaceOnUse" x1="53.2" y1="0" x2="405.2" y2="0"><stop offset="0.000" stop-color="#ff7900"/><stop offset="0.023" stop-color="#ff7800"/><stop offset="0.045" stop-color="#ff7700"/><stop offset="0.068" stop-color="#ff7700"/><stop offset="0.091" stop-color="#ff7800"/><stop offset="0.114" stop-color="#ff7900"/><stop offset="0.136" stop-color="#ff7a00"/><stop offset="0.159" stop-color="#ff7c00"/><stop offset="0.182" stop-color="#ff8400"/><stop offset="0.205" stop-color="#ff9900"/><stop offset="0.227" stop-color="#ffb000"/><stop offset="0.250" stop-color="#ffbc00"/><stop offset="0.273" stop-color="#ffbe00"/><stop offset="0.295" stop-color="#ffc800"/><stop offset="0.318" stop-color="#ffe800"/><stop offset="0.341" stop-color="#fff900"/><stop offset="0.364" stop-color="#efff10"/><stop offset="0.386" stop-color="#baff45"/><stop offset="0.409" stop-color="#a1ff5e"/><stop offset="0.432" stop-color="#a0ff5f"/><stop offset="0.455" stop-color="#7bff84"/><stop offset="0.477" stop-color="#36ffc9"/><stop offset="0.500" stop-color="#18ffe7"/><stop offset="0.523" stop-color="#0afff5"/><stop offset="0.545" stop-color="#00f7ff"/><stop offset="0.568" stop-color="#00deff"/><stop offset="0.591" stop-color="#00dfff"/><stop offset="0.614" stop-color="#00d1ff"/><stop offset="0.636" stop-color="#00c3ff"/><stop offset="0.659" stop-color="#00b9ff"/><stop offset="0.682" stop-color="#00b2ff"/><stop offset="0.705" stop-color="#00aeff"/><stop offset="0.727" stop-color="#00a8ff"/><stop offset="0.750" stop-color="#00a6ff"/><stop offset="0.773" stop-color="#00a7ff"/><stop offset="0.795" stop-color="#00a9ff"/><stop offset="0.818" stop-color="#00acff"/><stop offset="0.841" stop-color="#00adff"/><stop offset="0.864" stop-color="#00b1ff"/><stop offset="0.886" stop-color="#00baff"/><stop offset="0.909" stop-color="#00ceff"/><stop offset="0.932" stop-color="#00e7ff"/><stop offset="0.955" stop-color="#01fffe"/><stop offset="0.977" stop-color="#1affe5"/><stop offset="1.000" stop-color="#2bffd4"/></linearGradient><linearGradient id="g57" gradientUnits="userSpaceOnUse" x1="53.2" y1="0" x2="405.2" y2="0"><stop offset="0.000" stop-color="#ff7600"/><stop offset="0.023" stop-color="#ff7500"/><stop offset="0.045" stop-color="#ff7400"/><stop offset="0.068" stop-color="#ff7400"/><stop offset="0.091" stop-color="#ff7500"/><stop offset="0.114" stop-color="#ff7600"/><stop offset="0.136" stop-color="#ff7800"/><stop offset="0.159" stop-color="#ff7900"/><stop offset="0.182" stop-color="#ff8100"/><stop offset="0.205" stop-color="#ff9800"/><stop offset="0.227" stop-color="#ffb000"/><stop offset="0.250" stop-color="#ffba00"/><stop offset="0.273" stop-color="#ffba00"/><stop offset="0.295" stop-color="#ffc600"/><stop offset="0.318" stop-color="#ffe900"/><stop offset="0.341" stop-color="#fff800"/><stop offset="0.364" stop-color="#f0ff0f"/><stop offset="0.386" stop-color="#bbff44"/><stop offset="0.409" stop-color="#a5ff5a"/><stop offset="0.432" stop-color="#a3ff5c"/><stop offset="0.455" stop-color="#7dff82"/><stop offset="0.477" stop-color="#38ffc7"/><stop offset="0.500" stop-color="#1affe5"/><stop offset="0.523" stop-color="#0bfff4"/><stop offset="0.545" stop-color="#00f9ff"/><stop offset="0.568" stop-color="#00e6ff"/><stop offset="0.591" stop-color="#00e9ff"/><stop offset="0.614" stop-color="#00dcff"/><stop offset="0.636" stop-color="#00cdff"/><stop offset="0.659" stop-color="#00c3ff"/><stop offset="0.682" stop-color="#00bcff"/><stop offset="0.705" stop-color="#00b8ff"/><stop offset="0.727" stop-color="#00b1ff"/><stop offset="0.750" stop-color="#00afff"/><stop offset="0.773" stop-color="#00b0ff"/><stop offset="0.795" stop-color="#00b3ff"/><stop offset="0.818" stop-color="#00b6ff"/><stop offset="0.841" stop-color="#00b9ff"/><stop offset="0.864" stop-color="#00beff"/><stop offset="0.886" stop-color="#00c9ff"/><stop offset="0.909" stop-color="#00deff"/><stop offset="0.932" stop-color="#00f5ff"/><stop offset="0.955" stop-color="#0efff1"/><stop offset="0.977" stop-color="#23ffdc"/><stop offset="1.000" stop-color="#31ffce"/></linearGradient><linearGradient id="g58" gradientUnits="userSpaceOnUse" x1="53.2" y1="0" x2="405.2" y2="0"><stop offset="0.000" stop-color="#ff7200"/><stop offset="0.023" stop-color="#ff7100"/><stop offset="0.045" stop-color="#ff7100"/><stop offset="0.068" stop-color="#ff7200"/><stop offset="0.091" stop-color="#ff7300"/><stop offset="0.114" stop-color="#ff7400"/><stop offset="0.136" stop-color="#ff7600"/><stop offset="0.159" stop-color="#ff7700"/><stop offset="0.182" stop-color="#ff7f00"/><stop offset="0.205" stop-color="#ff9700"/><stop offset="0.227" stop-color="#ffaf00"/><stop offset="0.250" stop-color="#ffb700"/><stop offset="0.273" stop-color="#ffb600"/><stop offset="0.295" stop-color="#ffc500"/><stop offset="0.318" stop-color="#ffea00"/><stop offset="0.341" stop-color="#fff800"/><stop offset="0.364" stop-color="#f0ff0f"/><stop offset="0.386" stop-color="#bcff43"/><stop offset="0.409" stop-color="#a8ff57"/><stop offset="0.432" stop-color="#a7ff58"/><stop offset="0.455" stop-color="#7fff80"/><stop offset="0.477" stop-color="#39ffc6"/><stop offset="0.500" stop-color="#1cffe3"/><stop offset="0.523" stop-color="#0dfff2"/><stop offset="0.545" stop-color="#00fbff"/><stop offset="0.568" stop-color="#00eeff"/><stop offset="0.591" stop-color="#00f4ff"/><stop offset="0.614" stop-color="#00e9ff"/><stop offset="0.636" stop-color="#00d9ff"/><stop offset="0.659" stop-color="#00cfff"/><stop offset="0.682" stop-color="#00c7ff"/><stop offset="0.705" stop-color="#00c1ff"/><stop offset="0.727" stop-color="#00baff"/><stop offset="0.750" stop-color="#00b9ff"/><stop offset="0.773" stop-color="#00baff"/><stop offset="0.795" stop-color="#00bdff"/><stop offset="0.818" stop-color="#00c2ff"/><stop offset="0.841" stop-color="#00c6ff"/><stop offset="0.864" stop-color="#00cdff"/><stop offset="0.886" stop-color="#00d9ff"/><stop offset="0.909" stop-color="#00edff"/><stop offset="0.932" stop-color="#03fffc"/><stop offset="0.955" stop-color="#1affe5"/><stop offset="0.977" stop-color="#2affd5"/><stop offset="1.000" stop-color="#35ffca"/></linearGradient><linearGradient id="g59" gradientUnits="userSpaceOnUse" x1="53.2" y1="0" x2="405.2" y2="0"><stop offset="0.000" stop-color="#ff6f00"/><stop offset="0.023" stop-color="#ff6e00"/><stop offset="0.045" stop-color="#ff6e00"/><stop offset="0.068" stop-color="#ff6f00"/><stop offset="0.091" stop-color="#ff7000"/><stop offset="0.114" stop-color="#ff7200"/><stop offset="0.136" stop-color="#ff7400"/><stop offset="0.159" stop-color="#ff7500"/><stop offset="0.182" stop-color="#ff7d00"/><stop offset="0.205" stop-color="#ff9700"/><stop offset="0.227" stop-color="#ffae00"/><stop offset="0.250" stop-color="#ffb300"/><stop offset="0.273" stop-color="#ffb200"/><stop offset="0.295" stop-color="#ffc500"/><stop offset="0.318" stop-color="#ffea00"/><stop offset="0.341" stop-color="#fff700"/><stop offset="0.364" stop-color="#f0ff0f"/><stop offset="0.386" stop-color="#bdff42"/><stop offset="0.409" stop-color="#acff53"/><stop offset="0.432" stop-color="#aaff55"/><stop offset="0.455" stop-color="#81ff7e"/><stop offset="0.477" stop-color="#3bffc4"/><stop offset="0.500" stop-color="#1fffe0"/><stop offset="0.523" stop-color="#0ffff0"/><stop offset="0.545" stop-color="#00ffff"/><stop offset="0.568" stop-color="#00f6ff"/><stop offset="0.591" stop-color="#00feff"/><stop offset="0.614" stop-color="#00f5ff"/><stop offset="0.636" stop-color="#00e7ff"/><stop offset="0.659" stop-color="#00dcff"/><stop offset="0.682" stop-color="#00d3ff"/><stop offset="0.705" stop-color="#00ccff"/><stop offset="0.727" stop-color="#00c4ff"/><stop offset="0.750" stop-color="#00c2ff"/><stop offset="0.773" stop-color="#00c4ff"/><stop offset="0.795" stop-color="#00c8ff"/><stop offset="0.818" stop-color="#00cdff"/><stop offset="0.841" stop-color="#00d3ff"/><stop offset="0.864" stop-color="#00ddff"/><stop offset="0.886" stop-color="#00e8ff"/><stop offset="0.909" stop-color="#00faff"/><stop offset="0.932" stop-color="#0ffff0"/><stop offset="0.955" stop-color="#25ffda"/><stop offset="0.977" stop-color="#2effd1"/><stop offset="1.000" stop-color="#38ffc7"/></linearGradient><linearGradient id="g60" gradientUnits="userSpaceOnUse" x1="53.2" y1="0" x2="405.2" y2="0"><stop offset="0.000" stop-color="#ff6b00"/><stop offset="0.023" stop-color="#ff6b00"/><stop offset="0.045" stop-color="#ff6b00"/><stop offset="0.068" stop-color="#ff6c00"/><stop offset="0.091" stop-color="#ff6e00"/><stop offset="0.114" stop-color="#ff7000"/><stop offset="0.136" stop-color="#ff7200"/><stop offset="0.159" stop-color="#ff7300"/><stop offset="0.182" stop-color="#ff7b00"/><stop offset="0.205" stop-color="#ff9700"/><stop offset="0.227" stop-color="#ffac00"/><stop offset="0.250" stop-color="#ffb000"/><stop offset="0.273" stop-color="#ffaf00"/><stop offset="0.295" stop-color="#ffc600"/><stop offset="0.318" stop-color="#ffea00"/><stop offset="0.341" stop-color="#fff700"/><stop offset="0.364" stop-color="#f0ff0f"/><stop offset="0.386" stop-color="#beff41"/><stop offset="0.409" stop-color="#b0ff4f"/><stop offset="0.432" stop-color="#adff52"/><stop offset="0.455" stop-color="#82ff7d"/><stop offset="0.477" stop-color="#3dffc2"/><stop offset="0.500" stop-color="#21ffde"/><stop offset="0.523" stop-color="#12ffed"/><stop offset="0.545" stop-color="#04fffb"/><stop offset="0.568" stop-color="#00fdff"/><stop offset="0.591" stop-color="#06fff9"/><stop offset="0.614" stop-color="#02fffd"/><stop offset="0.636" stop-color="#00f6ff"/><stop offset="0.659" stop-color="#00eaff"/><stop offset="0.682" stop-color="#00e0ff"/><stop offset="0.705" stop-color="#00d7ff"/><stop offset="0.727" stop-color="#00ceff"/><stop offset="0.750" stop-color="#00ccff"/><stop offset="0.773" stop-color="#00ceff"/><stop offset="0.795" stop-color="#00d3ff"/><stop offset="0.818" stop-color="#00d9ff"/><stop offset="0.841" stop-color="#00e2ff"/><stop offset="0.864" stop-color="#00ecff"/><stop offset="0.886" stop-color="#00f6ff"/><stop offset="0.909" stop-color="#07fff8"/><stop offset="0.932" stop-color="#19ffe6"/><stop offset="0.955" stop-color="#2effd1"/><stop offset="0.977" stop-color="#2dffd2"/><stop offset="1.000" stop-color="#39ffc6"/></linearGradient><linearGradient id="g61" gradientUnits="userSpaceOnUse" x1="53.2" y1="0" x2="405.2" y2="0"><stop offset="0.000" stop-color="#ff6700"/><stop offset="0.023" stop-color="#ff6700"/><stop offset="0.045" stop-color="#ff6800"/><stop offset="0.068" stop-color="#ff6900"/><stop offset="0.091" stop-color="#ff6b00"/><stop offset="0.114" stop-color="#ff6e00"/><stop offset="0.136" stop-color="#ff7100"/><stop offset="0.159" stop-color="#ff7100"/><stop offset="0.182" stop-color="#ff7900"/><stop offset="0.205" stop-color="#ff9700"/><stop offset="0.227" stop-color="#ffaa00"/><stop offset="0.250" stop-color="#ffac00"/><stop offset="0.273" stop-color="#ffad00"/><stop offset="0.295" stop-color="#ffc800"/><stop offset="0.318" stop-color="#ffe900"/><stop offset="0.341" stop-color="#fff600"/><stop offset="0.364" stop-color="#f0ff0f"/><stop offset="0.386" stop-color="#bfff40"/><stop offset="0.409" stop-color="#b4ff4b"/><stop offset="0.432" stop-color="#b0ff4f"/><stop offset="0.455" stop-color="#84ff7b"/><stop offset="0.477" stop-color="#3fffc0"/><stop offset="0.500" stop-color="#25ffda"/><stop offset="0.523" stop-color="#17ffe8"/><stop offset="0.545" stop-color="#09fff6"/><stop offset="0.568" stop-color="#04fffb"/><stop offset="0.591" stop-color="#0cfff3"/><stop offset="0.614" stop-color="#0cfff3"/><stop offset="0.636" stop-color="#04fffb"/><stop offset="0.659" stop-color="#00f9ff"/><stop offset="0.682" stop-color="#00eeff"/><stop offset="0.705" stop-color="#00e3ff"/><stop offset="0.727" stop-color="#00d9ff"/><stop offset="0.750" stop-color="#00d6ff"/><stop offset="0.773" stop-color="#00d9ff"/><stop offset="0.795" stop-color="#00deff"/><stop offset="0.818" stop-color="#00e5ff"/><stop offset="0.841" stop-color="#00f0ff"/><stop offset="0.864" stop-color="#00fbff"/><stop offset="0.886" stop-color="#03fffc"/><stop offset="0.909" stop-color="#10ffef"/><stop offset="0.932" stop-color="#24ffdb"/><stop offset="0.955" stop-color="#36ffc9"/><stop offset="0.977" stop-color="#2affd5"/><stop offset="1.000" stop-color="#3bffc4"/></linearGradient><linearGradient id="g62" gradientUnits="userSpaceOnUse" x1="53.2" y1="0" x2="405.2" y2="0"><stop offset="0.000" stop-color="#ff6400"/><stop offset="0.023" stop-color="#ff6400"/><stop offset="0.045" stop-color="#ff6400"/><stop offset="0.068" stop-color="#ff6600"/><stop offset="0.091" stop-color="#ff6800"/><stop offset="0.114" stop-color="#ff6c00"/><stop offset="0.136" stop-color="#ff6f00"/><stop offset="0.159" stop-color="#ff7000"/><stop offset="0.182" stop-color="#ff7800"/><stop offset="0.205" stop-color="#ff9700"/><stop offset="0.227" stop-color="#ffa800"/><stop offset="0.250" stop-color="#ffa900"/><stop offset="0.273" stop-color="#ffac00"/><stop offset="0.295" stop-color="#ffca00"/><stop offset="0.318" stop-color="#ffe800"/><stop offset="0.341" stop-color="#fff600"/><stop offset="0.364" stop-color="#efff10"/><stop offset="0.386" stop-color="#c0ff3f"/><stop offset="0.409" stop-color="#b8ff47"/><stop offset="0.432" stop-color="#b3ff4c"/><stop offset="0.455" stop-color="#86ff79"/><stop offset="0.477" stop-color="#43ffbc"/><stop offset="0.500" stop-color="#2bffd4"/><stop offset="0.523" stop-color="#1dffe2"/><stop offset="0.545" stop-color="#10ffef"/><stop offset="0.568" stop-color="#0bfff4"/><stop offset="0.591" stop-color="#11ffee"/><stop offset="0.614" stop-color="#14ffeb"/><stop offset="0.636" stop-color="#10ffef"/><stop offset="0.659" stop-color="#08fff7"/><stop offset="0.682" stop-color="#00fdff"/><stop offset="0.705" stop-color="#00f1ff"/><stop offset="0.727" stop-color="#00e6ff"/><stop offset="0.750" stop-color="#00e1ff"/><stop offset="0.773" stop-color="#00e4ff"/><stop offset="0.795" stop-color="#00e9ff"/><stop offset="0.818" stop-color="#00f1ff"/><stop offset="0.841" stop-color="#00feff"/><stop offset="0.864" stop-color="#08fff7"/><stop offset="0.886" stop-color="#0cfff3"/><stop offset="0.909" stop-color="#19ffe6"/><stop offset="0.932" stop-color="#2fffd0"/><stop offset="0.955" stop-color="#3affc5"/><stop offset="0.977" stop-color="#28ffd7"/><stop offset="1.000" stop-color="#3effc1"/></linearGradient><linearGradient id="g63" gradientUnits="userSpaceOnUse" x1="53.2" y1="0" x2="405.2" y2="0"><stop offset="0.000" stop-color="#ff6000"/><stop offset="0.023" stop-color="#ff6000"/><stop offset="0.045" stop-color="#ff6100"/><stop offset="0.068" stop-color="#ff6300"/><stop offset="0.091" stop-color="#ff6600"/><stop offset="0.114" stop-color="#ff6a00"/><stop offset="0.136" stop-color="#ff6d00"/><stop offset="0.159" stop-color="#ff6e00"/><stop offset="0.182" stop-color="#ff7700"/><stop offset="0.205" stop-color="#ff9600"/><stop offset="0.227" stop-color="#ffa500"/><stop offset="0.250" stop-color="#ffa700"/><stop offset="0.273" stop-color="#ffab00"/><stop offset="0.295" stop-color="#ffcc00"/><stop offset="0.318" stop-color="#ffe800"/><stop offset="0.341" stop-color="#fff600"/><stop offset="0.364" stop-color="#edff12"/><stop offset="0.386" stop-color="#c2ff3d"/><stop offset="0.409" stop-color="#bcff43"/><stop offset="0.432" stop-color="#b6ff49"/><stop offset="0.455" stop-color="#89ff76"/><stop offset="0.477" stop-color="#49ffb6"/><stop offset="0.500" stop-color="#33ffcc"/><stop offset="0.523" stop-color="#25ffda"/><stop offset="0.545" stop-color="#17ffe8"/><stop offset="0.568" stop-color="#11ffee"/><stop offset="0.591" stop-color="#16ffe9"/><stop offset="0.614" stop-color="#19ffe6"/><stop offset="0.636" stop-color="#19ffe6"/><stop offset="0.659" stop-color="#14ffeb"/><stop offset="0.682" stop-color="#0cfff3"/><stop offset="0.705" stop-color="#01fffe"/><stop offset="0.727" stop-color="#00f3ff"/><stop offset="0.750" stop-color="#00ecff"/><stop offset="0.773" stop-color="#00f0ff"/><stop offset="0.795" stop-color="#00f5ff"/><stop offset="0.818" stop-color="#00fcff"/><stop offset="0.841" stop-color="#0bfff4"/><stop offset="0.864" stop-color="#11ffee"/><stop offset="0.886" stop-color="#13ffec"/><stop offset="0.909" stop-color="#22ffdd"/><stop offset="0.932" stop-color="#39ffc6"/><stop offset="0.955" stop-color="#3bffc4"/><stop offset="0.977" stop-color="#2affd5"/><stop offset="1.000" stop-color="#44ffbb"/></linearGradient><linearGradient id="g64" gradientUnits="userSpaceOnUse" x1="53.2" y1="0" x2="405.2" y2="0"><stop offset="0.000" stop-color="#ff5d00"/><stop offset="0.023" stop-color="#ff5d00"/><stop offset="0.045" stop-color="#ff5e00"/><stop offset="0.068" stop-color="#ff6000"/><stop offset="0.091" stop-color="#ff6300"/><stop offset="0.114" stop-color="#ff6700"/><stop offset="0.136" stop-color="#ff6b00"/><stop offset="0.159" stop-color="#ff6c00"/><stop offset="0.182" stop-color="#ff7600"/><stop offset="0.205" stop-color="#ff9500"/><stop offset="0.227" stop-color="#ffa200"/><stop offset="0.250" stop-color="#ffa500"/><stop offset="0.273" stop-color="#ffac00"/><stop offset="0.295" stop-color="#ffcf00"/><stop offset="0.318" stop-color="#ffe800"/><stop offset="0.341" stop-color="#fff500"/><stop offset="0.364" stop-color="#ecff13"/><stop offset="0.386" stop-color="#c4ff3b"/><stop offset="0.409" stop-color="#bfff40"/><stop offset="0.432" stop-color="#baff45"/><stop offset="0.455" stop-color="#8dff72"/><stop offset="0.477" stop-color="#52ffad"/><stop offset="0.500" stop-color="#3fffc0"/><stop offset="0.523" stop-color="#2fffd0"/><stop offset="0.545" stop-color="#20ffdf"/><stop offset="0.568" stop-color="#19ffe6"/><stop offset="0.591" stop-color="#1affe5"/><stop offset="0.614" stop-color="#1effe1"/><stop offset="0.636" stop-color="#1fffe0"/><stop offset="0.659" stop-color="#1dffe2"/><stop offset="0.682" stop-color="#18ffe7"/><stop offset="0.705" stop-color="#0ffff0"/><stop offset="0.727" stop-color="#03fffc"/><stop offset="0.750" stop-color="#00f9ff"/><stop offset="0.773" stop-color="#00fdff"/><stop offset="0.795" stop-color="#02fffd"/><stop offset="0.818" stop-color="#07fff8"/><stop offset="0.841" stop-color="#14ffeb"/><stop offset="0.864" stop-color="#18ffe7"/><stop offset="0.886" stop-color="#18ffe7"/><stop offset="0.909" stop-color="#2cffd3"/><stop offset="0.932" stop-color="#43ffbc"/><stop offset="0.955" stop-color="#3affc5"/><stop offset="0.977" stop-color="#2fffd0"/><stop offset="1.000" stop-color="#4bffb4"/></linearGradient><linearGradient id="g65" gradientUnits="userSpaceOnUse" x1="53.2" y1="0" x2="405.2" y2="0"><stop offset="0.000" stop-color="#ff5900"/><stop offset="0.023" stop-color="#ff5a00"/><stop offset="0.045" stop-color="#ff5b00"/><stop offset="0.068" stop-color="#ff5d00"/><stop offset="0.091" stop-color="#ff6100"/><stop offset="0.114" stop-color="#ff6500"/><stop offset="0.136" stop-color="#ff6900"/><stop offset="0.159" stop-color="#ff6a00"/><stop offset="0.182" stop-color="#ff7400"/><stop offset="0.205" stop-color="#ff9300"/><stop offset="0.227" stop-color="#ff9e00"/><stop offset="0.250" stop-color="#ffa300"/><stop offset="0.273" stop-color="#ffae00"/><stop offset="0.295" stop-color="#ffd100"/><stop offset="0.318" stop-color="#ffe700"/><stop offset="0.341" stop-color="#fff500"/><stop offset="0.364" stop-color="#eaff15"/><stop offset="0.386" stop-color="#c6ff39"/><stop offset="0.409" stop-color="#c4ff3b"/><stop offset="0.432" stop-color="#beff41"/><stop offset="0.455" stop-color="#93ff6c"/><stop offset="0.477" stop-color="#5effa1"/><stop offset="0.500" stop-color="#4dffb2"/><stop offset="0.523" stop-color="#3cffc3"/><stop offset="0.545" stop-color="#2bffd4"/><stop offset="0.568" stop-color="#21ffde"/><stop offset="0.591" stop-color="#1fffe0"/><stop offset="0.614" stop-color="#22ffdd"/><stop offset="0.636" stop-color="#24ffdb"/><stop offset="0.659" stop-color="#24ffdb"/><stop offset="0.682" stop-color="#21ffde"/><stop offset="0.705" stop-color="#1cffe3"/><stop offset="0.727" stop-color="#12ffed"/><stop offset="0.750" stop-color="#09fff6"/><stop offset="0.773" stop-color="#0cfff3"/><stop offset="0.795" stop-color="#0efff1"/><stop offset="0.818" stop-color="#11ffee"/><stop offset="0.841" stop-color="#1bffe4"/><stop offset="0.864" stop-color="#1fffe0"/><stop offset="0.886" stop-color="#1fffe0"/><stop offset="0.909" stop-color="#37ffc8"/><stop offset="0.932" stop-color="#4bffb4"/><stop offset="0.955" stop-color="#3affc5"/><stop offset="0.977" stop-color="#37ffc8"/><stop offset="1.000" stop-color="#56ffa9"/></linearGradient><linearGradient id="g66" gradientUnits="userSpaceOnUse" x1="53.2" y1="0" x2="405.2" y2="0"><stop offset="0.000" stop-color="#ff5600"/><stop offset="0.023" stop-color="#ff5600"/><stop offset="0.045" stop-color="#ff5700"/><stop offset="0.068" stop-color="#ff5a00"/><stop offset="0.091" stop-color="#ff5e00"/><stop offset="0.114" stop-color="#ff6300"/><stop offset="0.136" stop-color="#ff6600"/><stop offset="0.159" stop-color="#ff6700"/><stop offset="0.182" stop-color="#ff7300"/><stop offset="0.205" stop-color="#ff9000"/><stop offset="0.227" stop-color="#ff9a00"/><stop offset="0.250" stop-color="#ffa100"/><stop offset="0.273" stop-color="#ffb000"/><stop offset="0.295" stop-color="#ffd200"/><stop offset="0.318" stop-color="#ffe700"/><stop offset="0.341" stop-color="#fff500"/><stop offset="0.364" stop-color="#e8ff17"/><stop offset="0.386" stop-color="#c7ff38"/><stop offset="0.409" stop-color="#c9ff36"/><stop offset="0.432" stop-color="#c3ff3c"/><stop offset="0.455" stop-color="#9bff64"/><stop offset="0.477" stop-color="#6eff91"/><stop offset="0.500" stop-color="#5fffa0"/><stop offset="0.523" stop-color="#4cffb3"/><stop offset="0.545" stop-color="#38ffc7"/><stop offset="0.568" stop-color="#2bffd4"/><stop offset="0.591" stop-color="#26ffd9"/><stop offset="0.614" stop-color="#26ffd9"/><stop offset="0.636" stop-color="#29ffd6"/><stop offset="0.659" stop-color="#2affd5"/><stop offset="0.682" stop-color="#29ffd6"/><stop offset="0.705" stop-color="#25ffda"/><stop offset="0.727" stop-color="#1effe1"/><stop offset="0.750" stop-color="#17ffe8"/><stop offset="0.773" stop-color="#19ffe6"/><stop offset="0.795" stop-color="#1affe5"/><stop offset="0.818" stop-color="#1bffe4"/><stop offset="0.841" stop-color="#23ffdc"/><stop offset="0.864" stop-color="#26ffd9"/><stop offset="0.886" stop-color="#27ffd8"/><stop offset="0.909" stop-color="#43ffbc"/><stop offset="0.932" stop-color="#52ffad"/><stop offset="0.955" stop-color="#3cffc3"/><stop offset="0.977" stop-color="#42ffbd"/><stop offset="1.000" stop-color="#63ff9c"/></linearGradient><linearGradient id="g67" gradientUnits="userSpaceOnUse" x1="53.2" y1="0" x2="405.2" y2="0"><stop offset="0.000" stop-color="#ff5200"/><stop offset="0.023" stop-color="#ff5300"/><stop offset="0.045" stop-color="#ff5400"/><stop offset="0.068" stop-color="#ff5700"/><stop offset="0.091" stop-color="#ff5b00"/><stop offset="0.114" stop-color="#ff6000"/><stop offset="0.136" stop-color="#ff6300"/><stop offset="0.159" stop-color="#ff6400"/><stop offset="0.182" stop-color="#ff7000"/><stop offset="0.205" stop-color="#ff8c00"/><stop offset="0.227" stop-color="#ff9600"/><stop offset="0.250" stop-color="#ff9f00"/><stop offset="0.273" stop-color="#ffb300"/><stop offset="0.295" stop-color="#ffd300"/><stop offset="0.318" stop-color="#ffe500"/><stop offset="0.341" stop-color="#fff500"/><stop offset="0.364" stop-color="#e7ff18"/><stop offset="0.386" stop-color="#c8ff37"/><stop offset="0.409" stop-color="#cfff30"/><stop offset="0.432" stop-color="#caff35"/><stop offset="0.455" stop-color="#a6ff59"/><stop offset="0.477" stop-color="#80ff7f"/><stop offset="0.500" stop-color="#74ff8b"/><stop offset="0.523" stop-color="#5fffa0"/><stop offset="0.545" stop-color="#48ffb7"/><stop offset="0.568" stop-color="#37ffc8"/><stop offset="0.591" stop-color="#2dffd2"/><stop offset="0.614" stop-color="#2cffd3"/><stop offset="0.636" stop-color="#2effd1"/><stop offset="0.659" stop-color="#2fffd0"/><stop offset="0.682" stop-color="#2fffd0"/><stop offset="0.705" stop-color="#2dffd2"/><stop offset="0.727" stop-color="#29ffd6"/><stop offset="0.750" stop-color="#23ffdc"/><stop offset="0.773" stop-color="#25ffda"/><stop offset="0.795" stop-color="#24ffdb"/><stop offset="0.818" stop-color="#25ffda"/><stop offset="0.841" stop-color="#2affd5"/><stop offset="0.864" stop-color="#2fffd0"/><stop offset="0.886" stop-color="#33ffcc"/><stop offset="0.909" stop-color="#4fffb0"/><stop offset="0.932" stop-color="#58ffa7"/><stop offset="0.955" stop-color="#46ffb9"/><stop offset="0.977" stop-color="#50ffaf"/><stop offset="1.000" stop-color="#72ff8d"/></linearGradient><linearGradient id="g68" gradientUnits="userSpaceOnUse" x1="53.2" y1="0" x2="405.2" y2="0"><stop offset="0.000" stop-color="#ff4e00"/><stop offset="0.023" stop-color="#ff4f00"/><stop offset="0.045" stop-color="#ff5100"/><stop offset="0.068" stop-color="#ff5400"/><stop offset="0.091" stop-color="#ff5900"/><stop offset="0.114" stop-color="#ff5e00"/><stop offset="0.136" stop-color="#ff6000"/><stop offset="0.159" stop-color="#ff6000"/><stop offset="0.182" stop-color="#ff6c00"/><stop offset="0.205" stop-color="#ff8800"/><stop offset="0.227" stop-color="#ff9100"/><stop offset="0.250" stop-color="#ff9d00"/><stop offset="0.273" stop-color="#ffb500"/><stop offset="0.295" stop-color="#ffd300"/><stop offset="0.318" stop-color="#ffe300"/><stop offset="0.341" stop-color="#fff400"/><stop offset="0.364" stop-color="#e6ff19"/><stop offset="0.386" stop-color="#cbff34"/><stop offset="0.409" stop-color="#d6ff29"/><stop offset="0.432" stop-color="#d2ff2d"/><stop offset="0.455" stop-color="#b2ff4d"/><stop offset="0.477" stop-color="#95ff6a"/><stop offset="0.500" stop-color="#8aff75"/><stop offset="0.523" stop-color="#74ff8b"/><stop offset="0.545" stop-color="#5affa5"/><stop offset="0.568" stop-color="#45ffba"/><stop offset="0.591" stop-color="#38ffc7"/><stop offset="0.614" stop-color="#34ffcb"/><stop offset="0.636" stop-color="#34ffcb"/><stop offset="0.659" stop-color="#35ffca"/><stop offset="0.682" stop-color="#35ffca"/><stop offset="0.705" stop-color="#35ffca"/><stop offset="0.727" stop-color="#32ffcd"/><stop offset="0.750" stop-color="#2effd1"/><stop offset="0.773" stop-color="#2fffd0"/><stop offset="0.795" stop-color="#2fffd0"/><stop offset="0.818" stop-color="#30ffcf"/><stop offset="0.841" stop-color="#34ffcb"/><stop offset="0.864" stop-color="#3affc5"/><stop offset="0.886" stop-color="#42ffbd"/><stop offset="0.909" stop-color="#59ffa6"/><stop offset="0.932" stop-color="#5effa1"/><stop offset="0.955" stop-color="#54ffab"/><stop offset="0.977" stop-color="#62ff9d"/><stop offset="1.000" stop-color="#84ff7b"/></linearGradient><linearGradient id="g69" gradientUnits="userSpaceOnUse" x1="53.2" y1="0" x2="405.2" y2="0"><stop offset="0.000" stop-color="#ff4b00"/><stop offset="0.023" stop-color="#ff4c00"/><stop offset="0.045" stop-color="#ff4d00"/><stop offset="0.068" stop-color="#ff5100"/><stop offset="0.091" stop-color="#ff5600"/><stop offset="0.114" stop-color="#ff5b00"/><stop offset="0.136" stop-color="#ff5c00"/><stop offset="0.159" stop-color="#ff5b00"/><stop offset="0.182" stop-color="#ff6800"/><stop offset="0.205" stop-color="#ff8200"/><stop offset="0.227" stop-color="#ff8c00"/><stop offset="0.250" stop-color="#ff9a00"/><stop offset="0.273" stop-color="#ffb700"/><stop offset="0.295" stop-color="#ffd200"/><stop offset="0.318" stop-color="#ffe000"/><stop offset="0.341" stop-color="#fff200"/><stop offset="0.364" stop-color="#e7ff18"/><stop offset="0.386" stop-color="#d0ff2f"/><stop offset="0.409" stop-color="#dfff20"/><stop offset="0.432" stop-color="#dbff24"/><stop offset="0.455" stop-color="#c1ff3e"/><stop offset="0.477" stop-color="#a9ff56"/><stop offset="0.500" stop-color="#a0ff5f"/><stop offset="0.523" stop-color="#8aff75"/><stop offset="0.545" stop-color="#70ff8f"/><stop offset="0.568" stop-color="#57ffa8"/><stop offset="0.591" stop-color="#45ffba"/><stop offset="0.614" stop-color="#3effc1"/><stop offset="0.636" stop-color="#3dffc2"/><stop offset="0.659" stop-color="#3dffc2"/><stop offset="0.682" stop-color="#3dffc2"/><stop offset="0.705" stop-color="#3dffc2"/><stop offset="0.727" stop-color="#3bffc4"/><stop offset="0.750" stop-color="#39ffc6"/><stop offset="0.773" stop-color="#39ffc6"/><stop offset="0.795" stop-color="#3affc5"/><stop offset="0.818" stop-color="#3cffc3"/><stop offset="0.841" stop-color="#3fffc0"/><stop offset="0.864" stop-color="#47ffb8"/><stop offset="0.886" stop-color="#52ffad"/><stop offset="0.909" stop-color="#62ff9d"/><stop offset="0.932" stop-color="#66ff99"/><stop offset="0.955" stop-color="#66ff99"/><stop offset="0.977" stop-color="#74ff8b"/><stop offset="1.000" stop-color="#97ff68"/></linearGradient><linearGradient id="g70" gradientUnits="userSpaceOnUse" x1="53.2" y1="0" x2="405.2" y2="0"><stop offset="0.000" stop-color="#ff4700"/><stop offset="0.023" stop-color="#ff4800"/><stop offset="0.045" stop-color="#ff4a00"/><stop offset="0.068" stop-color="#ff4e00"/><stop offset="0.091" stop-color="#ff5300"/><stop offset="0.114" stop-color="#ff5900"/><stop offset="0.136" stop-color="#ff5900"/><stop offset="0.159" stop-color="#ff5700"/><stop offset="0.182" stop-color="#ff6300"/><stop offset="0.205" stop-color="#ff7d00"/><stop offset="0.227" stop-color="#ff8800"/><stop offset="0.250" stop-color="#ff9800"/><stop offset="0.273" stop-color="#ffb900"/><stop offset="0.295" stop-color="#ffcf00"/><stop offset="0.318" stop-color="#ffdc00"/><stop offset="0.341" stop-color="#ffef00"/><stop offset="0.364" stop-color="#ebff14"/><stop offset="0.386" stop-color="#d9ff26"/><stop offset="0.409" stop-color="#e9ff16"/><stop offset="0.432" stop-color="#e5ff1a"/><stop offset="0.455" stop-color="#d0ff2f"/><stop offset="0.477" stop-color="#beff41"/><stop offset="0.500" stop-color="#b5ff4a"/><stop offset="0.523" stop-color="#a1ff5e"/><stop offset="0.545" stop-color="#86ff79"/><stop offset="0.568" stop-color="#6bff94"/><stop offset="0.591" stop-color="#55ffaa"/><stop offset="0.614" stop-color="#4cffb3"/><stop offset="0.636" stop-color="#4affb5"/><stop offset="0.659" stop-color="#48ffb7"/><stop offset="0.682" stop-color="#48ffb7"/><stop offset="0.705" stop-color="#48ffb7"/><stop offset="0.727" stop-color="#46ffb9"/><stop offset="0.750" stop-color="#45ffba"/><stop offset="0.773" stop-color="#44ffbb"/><stop offset="0.795" stop-color="#46ffb9"/><stop offset="0.818" stop-color="#4affb5"/><stop offset="0.841" stop-color="#4dffb2"/><stop offset="0.864" stop-color="#58ffa7"/><stop offset="0.886" stop-color="#61ff9e"/><stop offset="0.909" stop-color="#6bff94"/><stop offset="0.932" stop-color="#6fff90"/><stop offset="0.955" stop-color="#7aff85"/><stop offset="0.977" stop-color="#88ff77"/><stop offset="1.000" stop-color="#abff54"/></linearGradient><linearGradient id="g71" gradientUnits="userSpaceOnUse" x1="53.2" y1="0" x2="405.2" y2="0"><stop offset="0.000" stop-color="#ff4400"/><stop offset="0.023" stop-color="#ff4500"/><stop offset="0.045" stop-color="#ff4700"/><stop offset="0.068" stop-color="#ff4b00"/><stop offset="0.091" stop-color="#ff5000"/><stop offset="0.114" stop-color="#ff5500"/><stop offset="0.136" stop-color="#ff5500"/><stop offset="0.159" stop-color="#ff5200"/><stop offset="0.182" stop-color="#ff5d00"/><stop offset="0.205" stop-color="#ff7700"/><stop offset="0.227" stop-color="#ff8300"/><stop offset="0.250" stop-color="#ff9600"/><stop offset="0.273" stop-color="#ffb800"/><stop offset="0.295" stop-color="#ffc900"/><stop offset="0.318" stop-color="#ffd600"/><stop offset="0.341" stop-color="#ffea00"/><stop offset="0.364" stop-color="#f2ff0d"/><stop offset="0.386" stop-color="#e5ff1a"/><stop offset="0.409" stop-color="#f5ff0a"/><stop offset="0.432" stop-color="#f1ff0e"/><stop offset="0.455" stop-color="#e1ff1e"/><stop offset="0.477" stop-color="#d3ff2c"/><stop offset="0.500" stop-color="#c9ff36"/><stop offset="0.523" stop-color="#b6ff49"/><stop offset="0.545" stop-color="#9dff62"/><stop offset="0.568" stop-color="#82ff7d"/><stop offset="0.591" stop-color="#69ff96"/><stop offset="0.614" stop-color="#5effa1"/><stop offset="0.636" stop-color="#5affa5"/><stop offset="0.659" stop-color="#58ffa7"/><stop offset="0.682" stop-color="#57ffa8"/><stop offset="0.705" stop-color="#56ffa9"/><stop offset="0.727" stop-color="#55ffaa"/><stop offset="0.750" stop-color="#53ffac"/><stop offset="0.773" stop-color="#52ffad"/><stop offset="0.795" stop-color="#55ffaa"/><stop offset="0.818" stop-color="#5bffa4"/><stop offset="0.841" stop-color="#5effa1"/><stop offset="0.864" stop-color="#69ff96"/><stop offset="0.886" stop-color="#6fff90"/><stop offset="0.909" stop-color="#73ff8c"/><stop offset="0.932" stop-color="#79ff86"/><stop offset="0.955" stop-color="#90ff6f"/><stop offset="0.977" stop-color="#9eff61"/><stop offset="1.000" stop-color="#c2ff3d"/></linearGradient><linearGradient id="g72" gradientUnits="userSpaceOnUse" x1="53.2" y1="0" x2="405.2" y2="0"><stop offset="0.000" stop-color="#ff4000"/><stop offset="0.023" stop-color="#ff4100"/><stop offset="0.045" stop-color="#ff4300"/><stop offset="0.068" stop-color="#ff4700"/><stop offset="0.091" stop-color="#ff4d00"/><stop offset="0.114" stop-color="#ff5200"/><stop offset="0.136" stop-color="#ff5200"/><stop offset="0.159" stop-color="#ff4e00"/><stop offset="0.182" stop-color="#ff5800"/><stop offset="0.205" stop-color="#ff7100"/><stop offset="0.227" stop-color="#ff7e00"/><stop offset="0.250" stop-color="#ff9200"/><stop offset="0.273" stop-color="#ffb500"/><stop offset="0.295" stop-color="#ffc100"/><stop offset="0.318" stop-color="#ffcd00"/><stop offset="0.341" stop-color="#ffe300"/><stop offset="0.364" stop-color="#fcff03"/><stop offset="0.386" stop-color="#f5ff0a"/><stop offset="0.409" stop-color="#fffb00"/><stop offset="0.432" stop-color="#fffe00"/><stop offset="0.455" stop-color="#f3ff0c"/><stop offset="0.477" stop-color="#e8ff17"/><stop offset="0.500" stop-color="#ddff22"/><stop offset="0.523" stop-color="#cbff34"/><stop offset="0.545" stop-color="#b3ff4c"/><stop offset="0.568" stop-color="#98ff67"/><stop offset="0.591" stop-color="#80ff7f"/><stop offset="0.614" stop-color="#73ff8c"/><stop offset="0.636" stop-color="#6fff90"/><stop offset="0.659" stop-color="#6cff93"/><stop offset="0.682" stop-color="#6aff95"/><stop offset="0.705" stop-color="#69ff96"/><stop offset="0.727" stop-color="#68ff97"/><stop offset="0.750" stop-color="#66ff99"/><stop offset="0.773" stop-color="#65ff9a"/><stop offset="0.795" stop-color="#68ff97"/><stop offset="0.818" stop-color="#6fff90"/><stop offset="0.841" stop-color="#72ff8d"/><stop offset="0.864" stop-color="#7bff84"/><stop offset="0.886" stop-color="#7cff83"/><stop offset="0.909" stop-color="#7cff83"/><stop offset="0.932" stop-color="#86ff79"/><stop offset="0.955" stop-color="#a6ff59"/><stop offset="0.977" stop-color="#baff45"/><stop offset="1.000" stop-color="#daff25"/></linearGradient><linearGradient id="g73" gradientUnits="userSpaceOnUse" x1="53.2" y1="0" x2="405.2" y2="0"><stop offset="0.000" stop-color="#ff3c00"/><stop offset="0.023" stop-color="#ff3e00"/><stop offset="0.045" stop-color="#ff4000"/><stop offset="0.068" stop-color="#ff4400"/><stop offset="0.091" stop-color="#ff4a00"/><stop offset="0.114" stop-color="#ff4f00"/><stop offset="0.136" stop-color="#ff4e00"/><stop offset="0.159" stop-color="#ff4900"/><stop offset="0.182" stop-color="#ff5200"/><stop offset="0.205" stop-color="#ff6b00"/><stop offset="0.227" stop-color="#ff7800"/><stop offset="0.250" stop-color="#ff8d00"/><stop offset="0.273" stop-color="#ffaf00"/><stop offset="0.295" stop-color="#ffb500"/><stop offset="0.318" stop-color="#ffc300"/><stop offset="0.341" stop-color="#ffda00"/><stop offset="0.364" stop-color="#fff500"/><stop offset="0.386" stop-color="#fff700"/><stop offset="0.409" stop-color="#ffea00"/><stop offset="0.432" stop-color="#ffee00"/><stop offset="0.455" stop-color="#fff700"/><stop offset="0.477" stop-color="#fdff02"/><stop offset="0.500" stop-color="#f2ff0d"/><stop offset="0.523" stop-color="#e0ff1f"/><stop offset="0.545" stop-color="#c7ff38"/><stop offset="0.568" stop-color="#adff52"/><stop offset="0.591" stop-color="#98ff67"/><stop offset="0.614" stop-color="#8bff74"/><stop offset="0.636" stop-color="#86ff79"/><stop offset="0.659" stop-color="#83ff7c"/><stop offset="0.682" stop-color="#81ff7e"/><stop offset="0.705" stop-color="#80ff7f"/><stop offset="0.727" stop-color="#7eff81"/><stop offset="0.750" stop-color="#7dff82"/><stop offset="0.773" stop-color="#7bff84"/><stop offset="0.795" stop-color="#7eff81"/><stop offset="0.818" stop-color="#85ff7a"/><stop offset="0.841" stop-color="#87ff78"/><stop offset="0.864" stop-color="#8dff72"/><stop offset="0.886" stop-color="#8aff75"/><stop offset="0.909" stop-color="#88ff77"/><stop offset="0.932" stop-color="#95ff6a"/><stop offset="0.955" stop-color="#bbff44"/><stop offset="0.977" stop-color="#daff25"/><stop offset="1.000" stop-color="#f3ff0c"/></linearGradient><linearGradient id="g74" gradientUnits="userSpaceOnUse" x1="53.2" y1="0" x2="405.2" y2="0"><stop offset="0.000" stop-color="#ff3900"/><stop offset="0.023" stop-color="#ff3a00"/><stop offset="0.045" stop-color="#ff3d00"/><stop offset="0.068" stop-color="#ff4100"/><stop offset="0.091" stop-color="#ff4700"/><stop offset="0.114" stop-color="#ff4b00"/><stop offset="0.136" stop-color="#ff4a00"/><stop offset="0.159" stop-color="#ff4400"/><stop offset="0.182" stop-color="#ff4d00"/><stop offset="0.205" stop-color="#ff6400"/><stop offset="0.227" stop-color="#ff7200"/><stop offset="0.250" stop-color="#ff8700"/><stop offset="0.273" stop-color="#ffa500"/><stop offset="0.295" stop-color="#ffa600"/><stop offset="0.318" stop-color="#ffb700"/><stop offset="0.341" stop-color="#ffce00"/><stop offset="0.364" stop-color="#ffe700"/><stop offset="0.386" stop-color="#ffe400"/><stop offset="0.409" stop-color="#ffd900"/><stop offset="0.432" stop-color="#ffdc00"/><stop offset="0.455" stop-color="#ffe300"/><stop offset="0.477" stop-color="#ffeb00"/><stop offset="0.500" stop-color="#fff700"/><stop offset="0.523" stop-color="#f5ff0a"/><stop offset="0.545" stop-color="#dbff24"/><stop offset="0.568" stop-color="#c1ff3e"/><stop offset="0.591" stop-color="#afff50"/><stop offset="0.614" stop-color="#a3ff5c"/><stop offset="0.636" stop-color="#9fff60"/><stop offset="0.659" stop-color="#9bff64"/><stop offset="0.682" stop-color="#99ff66"/><stop offset="0.705" stop-color="#99ff66"/><stop offset="0.727" stop-color="#96ff69"/><stop offset="0.750" stop-color="#95ff6a"/><stop offset="0.773" stop-color="#95ff6a"/><stop offset="0.795" stop-color="#98ff67"/><stop offset="0.818" stop-color="#9eff61"/><stop offset="0.841" stop-color="#9eff61"/><stop offset="0.864" stop-color="#a0ff5f"/><stop offset="0.886" stop-color="#99ff66"/><stop offset="0.909" stop-color="#97ff68"/><stop offset="0.932" stop-color="#a7ff58"/><stop offset="0.955" stop-color="#ceff31"/><stop offset="0.977" stop-color="#f7ff08"/><stop offset="1.000" stop-color="#fff300"/></linearGradient><linearGradient id="g75" gradientUnits="userSpaceOnUse" x1="53.2" y1="0" x2="405.2" y2="0"><stop offset="0.000" stop-color="#ff3500"/><stop offset="0.023" stop-color="#ff3700"/><stop offset="0.045" stop-color="#ff3a00"/><stop offset="0.068" stop-color="#ff3d00"/><stop offset="0.091" stop-color="#ff4300"/><stop offset="0.114" stop-color="#ff4700"/><stop offset="0.136" stop-color="#ff4600"/><stop offset="0.159" stop-color="#ff4000"/><stop offset="0.182" stop-color="#ff4800"/><stop offset="0.205" stop-color="#ff5e00"/><stop offset="0.227" stop-color="#ff6c00"/><stop offset="0.250" stop-color="#ff8100"/><stop offset="0.273" stop-color="#ff9700"/><stop offset="0.295" stop-color="#ff9400"/><stop offset="0.318" stop-color="#ffa800"/><stop offset="0.341" stop-color="#ffc100"/><stop offset="0.364" stop-color="#ffd800"/><stop offset="0.386" stop-color="#ffd300"/><stop offset="0.409" stop-color="#ffc900"/><stop offset="0.432" stop-color="#ffca00"/><stop offset="0.455" stop-color="#ffd000"/><stop offset="0.477" stop-color="#ffd600"/><stop offset="0.500" stop-color="#ffe200"/><stop offset="0.523" stop-color="#fff400"/><stop offset="0.545" stop-color="#eeff11"/><stop offset="0.568" stop-color="#d4ff2b"/><stop offset="0.591" stop-color="#c5ff3a"/><stop offset="0.614" stop-color="#bbff44"/><stop offset="0.636" stop-color="#b7ff48"/><stop offset="0.659" stop-color="#b3ff4c"/><stop offset="0.682" stop-color="#b2ff4d"/><stop offset="0.705" stop-color="#b2ff4d"/><stop offset="0.727" stop-color="#afff50"/><stop offset="0.750" stop-color="#afff50"/><stop offset="0.773" stop-color="#afff50"/><stop offset="0.795" stop-color="#b3ff4c"/><stop offset="0.818" stop-color="#b8ff47"/><stop offset="0.841" stop-color="#b6ff49"/><stop offset="0.864" stop-color="#b4ff4b"/><stop offset="0.886" stop-color="#aaff55"/><stop offset="0.909" stop-color="#a9ff56"/><stop offset="0.932" stop-color="#bbff44"/><stop offset="0.955" stop-color="#e0ff1f"/><stop offset="0.977" stop-color="#ffef00"/><stop offset="1.000" stop-color="#ffdd00"/></linearGradient><linearGradient id="g76" gradientUnits="userSpaceOnUse" x1="53.2" y1="0" x2="405.2" y2="0"><stop offset="0.000" stop-color="#ff3100"/><stop offset="0.023" stop-color="#ff3400"/><stop offset="0.045" stop-color="#ff3700"/><stop offset="0.068" stop-color="#ff3a00"/><stop offset="0.091" stop-color="#ff4000"/><stop offset="0.114" stop-color="#ff4300"/><stop offset="0.136" stop-color="#ff4100"/><stop offset="0.159" stop-color="#ff3b00"/><stop offset="0.182" stop-color="#ff4300"/><stop offset="0.205" stop-color="#ff5800"/><stop offset="0.227" stop-color="#ff6500"/><stop offset="0.250" stop-color="#ff7800"/><stop offset="0.273" stop-color="#ff8600"/><stop offset="0.295" stop-color="#ff7e00"/><stop offset="0.318" stop-color="#ff9700"/><stop offset="0.341" stop-color="#ffb200"/><stop offset="0.364" stop-color="#ffc800"/><stop offset="0.386" stop-color="#ffc500"/><stop offset="0.409" stop-color="#ffbb00"/><stop offset="0.432" stop-color="#ffba00"/><stop offset="0.455" stop-color="#ffbe00"/><stop offset="0.477" stop-color="#ffc300"/><stop offset="0.500" stop-color="#ffce00"/><stop offset="0.523" stop-color="#ffe000"/><stop offset="0.545" stop-color="#fffd00"/><stop offset="0.568" stop-color="#e6ff19"/><stop offset="0.591" stop-color="#daff25"/><stop offset="0.614" stop-color="#d1ff2e"/><stop offset="0.636" stop-color="#ceff31"/><stop offset="0.659" stop-color="#cbff34"/><stop offset="0.682" stop-color="#caff35"/><stop offset="0.705" stop-color="#cbff34"/><stop offset="0.727" stop-color="#c8ff37"/><stop offset="0.750" stop-color="#c9ff36"/><stop offset="0.773" stop-color="#caff35"/><stop offset="0.795" stop-color="#ceff31"/><stop offset="0.818" stop-color="#d2ff2d"/><stop offset="0.841" stop-color="#ceff31"/><stop offset="0.864" stop-color="#c9ff36"/><stop offset="0.886" stop-color="#bdff42"/><stop offset="0.909" stop-color="#beff41"/><stop offset="0.932" stop-color="#ceff31"/><stop offset="0.955" stop-color="#f0ff0f"/><stop offset="0.977" stop-color="#ffdd00"/><stop offset="1.000" stop-color="#ffcd00"/></linearGradient><linearGradient id="g77" gradientUnits="userSpaceOnUse" x1="53.2" y1="0" x2="405.2" y2="0"><stop offset="0.000" stop-color="#ff2e00"/><stop offset="0.023" stop-color="#ff3100"/><stop offset="0.045" stop-color="#ff3400"/><stop offset="0.068" stop-color="#ff3700"/><stop offset="0.091" stop-color="#ff3c00"/><stop offset="0.114" stop-color="#ff3f00"/><stop offset="0.136" stop-color="#ff3d00"/><stop offset="0.159" stop-color="#ff3600"/><stop offset="0.182" stop-color="#ff3e00"/><stop offset="0.205" stop-color="#ff5200"/><stop offset="0.227" stop-color="#ff5e00"/><stop offset="0.250" stop-color="#ff6c00"/><stop offset="0.273" stop-color="#ff6e00"/><stop offset="0.295" stop-color="#ff6700"/><stop offset="0.318" stop-color="#ff8500"/><stop offset="0.341" stop-color="#ffa200"/><stop offset="0.364" stop-color="#ffb900"/><stop offset="0.386" stop-color="#ffb900"/><stop offset="0.409" stop-color="#ffaf00"/><stop offset="0.432" stop-color="#ffad00"/><stop offset="0.455" stop-color="#ffaf00"/><stop offset="0.477" stop-color="#ffb300"/><stop offset="0.500" stop-color="#ffbc00"/><stop offset="0.523" stop-color="#ffcd00"/><stop offset="0.545" stop-color="#ffeb00"/><stop offset="0.568" stop-color="#f7ff08"/><stop offset="0.591" stop-color="#eeff11"/><stop offset="0.614" stop-color="#e8ff17"/><stop offset="0.636" stop-color="#e5ff1a"/><stop offset="0.659" stop-color="#e3ff1c"/><stop offset="0.682" stop-color="#e2ff1d"/><stop offset="0.705" stop-color="#e2ff1d"/><stop offset="0.727" stop-color="#e1ff1e"/><stop offset="0.750" stop-color="#e2ff1d"/><stop offset="0.773" stop-color="#e5ff1a"/><stop offset="0.795" stop-color="#eaff15"/><stop offset="0.818" stop-color="#edff12"/><stop offset="0.841" stop-color="#e7ff18"/><stop offset="0.864" stop-color="#e0ff1f"/><stop offset="0.886" stop-color="#d4ff2b"/><stop offset="0.909" stop-color="#d4ff2b"/><stop offset="0.932" stop-color="#e1ff1e"/><stop offset="0.955" stop-color="#ffff00"/><stop offset="0.977" stop-color="#ffd100"/><stop offset="1.000" stop-color="#ffc200"/></linearGradient><linearGradient id="g78" gradientUnits="userSpaceOnUse" x1="53.2" y1="0" x2="405.2" y2="0"><stop offset="0.000" stop-color="#ff2b00"/><stop offset="0.023" stop-color="#ff2e00"/><stop offset="0.045" stop-color="#ff3100"/><stop offset="0.068" stop-color="#ff3400"/><stop offset="0.091" stop-color="#ff3800"/><stop offset="0.114" stop-color="#ff3b00"/><stop offset="0.136" stop-color="#ff3800"/><stop offset="0.159" stop-color="#ff3200"/><stop offset="0.182" stop-color="#ff3900"/><stop offset="0.205" stop-color="#ff4c00"/><stop offset="0.227" stop-color="#ff5600"/><stop offset="0.250" stop-color="#ff5f00"/><stop offset="0.273" stop-color="#ff5600"/><stop offset="0.295" stop-color="#ff4f00"/><stop offset="0.318" stop-color="#ff7000"/><stop offset="0.341" stop-color="#ff9000"/><stop offset="0.364" stop-color="#ffaa00"/><stop offset="0.386" stop-color="#ffad00"/><stop offset="0.409" stop-color="#ffa500"/><stop offset="0.432" stop-color="#ffa300"/><stop offset="0.455" stop-color="#ffa400"/><stop offset="0.477" stop-color="#ffa500"/><stop offset="0.500" stop-color="#ffad00"/><stop offset="0.523" stop-color="#ffbc00"/><stop offset="0.545" stop-color="#ffd900"/><stop offset="0.568" stop-color="#fff400"/><stop offset="0.591" stop-color="#fffc00"/><stop offset="0.614" stop-color="#feff01"/><stop offset="0.636" stop-color="#fcff03"/><stop offset="0.659" stop-color="#faff05"/><stop offset="0.682" stop-color="#faff05"/><stop offset="0.705" stop-color="#f9ff06"/><stop offset="0.727" stop-color="#f9ff06"/><stop offset="0.750" stop-color="#fbff04"/><stop offset="0.773" stop-color="#ffff00"/><stop offset="0.795" stop-color="#fffa00"/><stop offset="0.818" stop-color="#fff800"/><stop offset="0.841" stop-color="#ffff00"/><stop offset="0.864" stop-color="#f8ff07"/><stop offset="0.886" stop-color="#ecff13"/><stop offset="0.909" stop-color="#e9ff16"/><stop offset="0.932" stop-color="#f4ff0b"/><stop offset="0.955" stop-color="#fff100"/><stop offset="0.977" stop-color="#ffca00"/><stop offset="1.000" stop-color="#ffba00"/></linearGradient><linearGradient id="g79" gradientUnits="userSpaceOnUse" x1="53.2" y1="0" x2="405.2" y2="0"><stop offset="0.000" stop-color="#ff2800"/><stop offset="0.023" stop-color="#ff2b00"/><stop offset="0.045" stop-color="#ff2e00"/><stop offset="0.068" stop-color="#ff3000"/><stop offset="0.091" stop-color="#ff3400"/><stop offset="0.114" stop-color="#ff3600"/><stop offset="0.136" stop-color="#ff3300"/><stop offset="0.159" stop-color="#ff2d00"/><stop offset="0.182" stop-color="#ff3400"/><stop offset="0.205" stop-color="#ff4500"/><stop offset="0.227" stop-color="#ff4e00"/><stop offset="0.250" stop-color="#ff5200"/><stop offset="0.273" stop-color="#ff4100"/><stop offset="0.295" stop-color="#ff3a00"/><stop offset="0.318" stop-color="#ff5a00"/><stop offset="0.341" stop-color="#ff7d00"/><stop offset="0.364" stop-color="#ff9b00"/><stop offset="0.386" stop-color="#ffa000"/><stop offset="0.409" stop-color="#ff9b00"/><stop offset="0.432" stop-color="#ff9900"/><stop offset="0.455" stop-color="#ff9900"/><stop offset="0.477" stop-color="#ff9a00"/><stop offset="0.500" stop-color="#ffa000"/><stop offset="0.523" stop-color="#ffae00"/><stop offset="0.545" stop-color="#ffc800"/><stop offset="0.568" stop-color="#ffe100"/><stop offset="0.591" stop-color="#ffe800"/><stop offset="0.614" stop-color="#ffea00"/><stop offset="0.636" stop-color="#ffeb00"/><stop offset="0.659" stop-color="#ffec00"/><stop offset="0.682" stop-color="#ffee00"/><stop offset="0.705" stop-color="#ffee00"/><stop offset="0.727" stop-color="#ffee00"/><stop offset="0.750" stop-color="#ffeb00"/><stop offset="0.773" stop-color="#ffe600"/><stop offset="0.795" stop-color="#ffe200"/><stop offset="0.818" stop-color="#ffe000"/><stop offset="0.841" stop-color="#ffe700"/><stop offset="0.864" stop-color="#ffee00"/><stop offset="0.886" stop-color="#fff800"/><stop offset="0.909" stop-color="#fdff02"/><stop offset="0.932" stop-color="#fff700"/><stop offset="0.955" stop-color="#ffdd00"/><stop offset="0.977" stop-color="#ffc200"/><stop offset="1.000" stop-color="#ffb500"/></linearGradient><linearGradient id="g80" gradientUnits="userSpaceOnUse" x1="53.2" y1="0" x2="405.2" y2="0"><stop offset="0.000" stop-color="#ff2400"/><stop offset="0.023" stop-color="#ff2900"/><stop offset="0.045" stop-color="#ff2b00"/><stop offset="0.068" stop-color="#ff2d00"/><stop offset="0.091" stop-color="#ff2f00"/><stop offset="0.114" stop-color="#ff3100"/><stop offset="0.136" stop-color="#ff2e00"/><stop offset="0.159" stop-color="#ff2800"/><stop offset="0.182" stop-color="#ff2f00"/><stop offset="0.205" stop-color="#ff3f00"/><stop offset="0.227" stop-color="#ff4600"/><stop offset="0.250" stop-color="#ff4600"/><stop offset="0.273" stop-color="#ff3300"/><stop offset="0.295" stop-color="#ff2900"/><stop offset="0.318" stop-color="#ff4300"/><stop offset="0.341" stop-color="#ff6900"/><stop offset="0.364" stop-color="#ff8a00"/><stop offset="0.386" stop-color="#ff9300"/><stop offset="0.409" stop-color="#ff8f00"/><stop offset="0.432" stop-color="#ff8e00"/><stop offset="0.455" stop-color="#ff8e00"/><stop offset="0.477" stop-color="#ff8e00"/><stop offset="0.500" stop-color="#ff9500"/><stop offset="0.523" stop-color="#ffa300"/><stop offset="0.545" stop-color="#ffb900"/><stop offset="0.568" stop-color="#ffce00"/><stop offset="0.591" stop-color="#ffd300"/><stop offset="0.614" stop-color="#ffd400"/><stop offset="0.636" stop-color="#ffd500"/><stop offset="0.659" stop-color="#ffd600"/><stop offset="0.682" stop-color="#ffd700"/><stop offset="0.705" stop-color="#ffd800"/><stop offset="0.727" stop-color="#ffd800"/><stop offset="0.750" stop-color="#ffd400"/><stop offset="0.773" stop-color="#ffd000"/><stop offset="0.795" stop-color="#ffcb00"/><stop offset="0.818" stop-color="#ffc900"/><stop offset="0.841" stop-color="#ffd000"/><stop offset="0.864" stop-color="#ffd700"/><stop offset="0.886" stop-color="#ffe000"/><stop offset="0.909" stop-color="#ffec00"/><stop offset="0.932" stop-color="#ffe200"/><stop offset="0.955" stop-color="#ffc500"/><stop offset="0.977" stop-color="#ffb700"/><stop offset="1.000" stop-color="#ffb000"/></linearGradient><linearGradient id="g81" gradientUnits="userSpaceOnUse" x1="53.2" y1="0" x2="405.2" y2="0"><stop offset="0.000" stop-color="#ff2000"/><stop offset="0.023" stop-color="#ff2500"/><stop offset="0.045" stop-color="#ff2700"/><stop offset="0.068" stop-color="#ff2900"/><stop offset="0.091" stop-color="#ff2b00"/><stop offset="0.114" stop-color="#ff2b00"/><stop offset="0.136" stop-color="#ff2800"/><stop offset="0.159" stop-color="#ff2300"/><stop offset="0.182" stop-color="#ff2a00"/><stop offset="0.205" stop-color="#ff3900"/><stop offset="0.227" stop-color="#ff3e00"/><stop offset="0.250" stop-color="#ff3b00"/><stop offset="0.273" stop-color="#ff2800"/><stop offset="0.295" stop-color="#ff1d00"/><stop offset="0.318" stop-color="#ff2f00"/><stop offset="0.341" stop-color="#ff5400"/><stop offset="0.364" stop-color="#ff7800"/><stop offset="0.386" stop-color="#ff8300"/><stop offset="0.409" stop-color="#ff8100"/><stop offset="0.432" stop-color="#ff8000"/><stop offset="0.455" stop-color="#ff8000"/><stop offset="0.477" stop-color="#ff8200"/><stop offset="0.500" stop-color="#ff8900"/><stop offset="0.523" stop-color="#ff9900"/><stop offset="0.545" stop-color="#ffac00"/><stop offset="0.568" stop-color="#ffbb00"/><stop offset="0.591" stop-color="#ffbe00"/><stop offset="0.614" stop-color="#ffbf00"/><stop offset="0.636" stop-color="#ffc000"/><stop offset="0.659" stop-color="#ffc100"/><stop offset="0.682" stop-color="#ffc200"/><stop offset="0.705" stop-color="#ffc300"/><stop offset="0.727" stop-color="#ffc200"/><stop offset="0.750" stop-color="#ffbf00"/><stop offset="0.773" stop-color="#ffbb00"/><stop offset="0.795" stop-color="#ffb700"/><stop offset="0.818" stop-color="#ffb500"/><stop offset="0.841" stop-color="#ffba00"/><stop offset="0.864" stop-color="#ffc000"/><stop offset="0.886" stop-color="#ffc800"/><stop offset="0.909" stop-color="#ffd500"/><stop offset="0.932" stop-color="#ffcd00"/><stop offset="0.955" stop-color="#ffad00"/><stop offset="0.977" stop-color="#ffaf00"/><stop offset="1.000" stop-color="#ffaa00"/></linearGradient><linearGradient id="g82" gradientUnits="userSpaceOnUse" x1="53.2" y1="0" x2="405.2" y2="0"><stop offset="0.000" stop-color="#ff1c00"/><stop offset="0.023" stop-color="#ff2200"/><stop offset="0.045" stop-color="#ff2300"/><stop offset="0.068" stop-color="#ff2400"/><stop offset="0.091" stop-color="#ff2500"/><stop offset="0.114" stop-color="#ff2500"/><stop offset="0.136" stop-color="#ff2200"/><stop offset="0.159" stop-color="#ff1e00"/><stop offset="0.182" stop-color="#ff2500"/><stop offset="0.205" stop-color="#ff3300"/><stop offset="0.227" stop-color="#ff3600"/><stop offset="0.250" stop-color="#ff3200"/><stop offset="0.273" stop-color="#ff2000"/><stop offset="0.295" stop-color="#ff1400"/><stop offset="0.318" stop-color="#ff2000"/><stop offset="0.341" stop-color="#ff3f00"/><stop offset="0.364" stop-color="#ff6300"/><stop offset="0.386" stop-color="#ff6f00"/><stop offset="0.409" stop-color="#ff6f00"/><stop offset="0.432" stop-color="#ff6f00"/><stop offset="0.455" stop-color="#ff7000"/><stop offset="0.477" stop-color="#ff7200"/><stop offset="0.500" stop-color="#ff7c00"/><stop offset="0.523" stop-color="#ff8e00"/><stop offset="0.545" stop-color="#ff9f00"/><stop offset="0.568" stop-color="#ffaa00"/><stop offset="0.591" stop-color="#ffac00"/><stop offset="0.614" stop-color="#ffac00"/><stop offset="0.636" stop-color="#ffac00"/><stop offset="0.659" stop-color="#ffad00"/><stop offset="0.682" stop-color="#ffae00"/><stop offset="0.705" stop-color="#ffaf00"/><stop offset="0.727" stop-color="#ffaf00"/><stop offset="0.750" stop-color="#ffac00"/><stop offset="0.773" stop-color="#ffaa00"/><stop offset="0.795" stop-color="#ffa700"/><stop offset="0.818" stop-color="#ffa400"/><stop offset="0.841" stop-color="#ffa600"/><stop offset="0.864" stop-color="#ffa900"/><stop offset="0.886" stop-color="#ffaf00"/><stop offset="0.909" stop-color="#ffbd00"/><stop offset="0.932" stop-color="#ffb600"/><stop offset="0.955" stop-color="#ff9700"/><stop offset="0.977" stop-color="#ffa700"/><stop offset="1.000" stop-color="#ffa300"/></linearGradient><linearGradient id="g83" gradientUnits="userSpaceOnUse" x1="53.2" y1="0" x2="405.2" y2="0"><stop offset="0.000" stop-color="#ff1700"/><stop offset="0.023" stop-color="#ff1e00"/><stop offset="0.045" stop-color="#ff1f00"/><stop offset="0.068" stop-color="#ff1f00"/><stop offset="0.091" stop-color="#ff1f00"/><stop offset="0.114" stop-color="#ff1f00"/><stop offset="0.136" stop-color="#ff1c00"/><stop offset="0.159" stop-color="#ff1900"/><stop offset="0.182" stop-color="#ff2000"/><stop offset="0.205" stop-color="#ff2d00"/><stop offset="0.227" stop-color="#ff2f00"/><stop offset="0.250" stop-color="#ff2a00"/><stop offset="0.273" stop-color="#ff1a00"/><stop offset="0.295" stop-color="#ff0e00"/><stop offset="0.318" stop-color="#ff1500"/><stop offset="0.341" stop-color="#ff2d00"/><stop offset="0.364" stop-color="#ff4d00"/><stop offset="0.386" stop-color="#ff5900"/><stop offset="0.409" stop-color="#ff5a00"/><stop offset="0.432" stop-color="#ff5a00"/><stop offset="0.455" stop-color="#ff5b00"/><stop offset="0.477" stop-color="#ff5f00"/><stop offset="0.500" stop-color="#ff6b00"/><stop offset="0.523" stop-color="#ff8100"/><stop offset="0.545" stop-color="#ff9200"/><stop offset="0.568" stop-color="#ff9900"/><stop offset="0.591" stop-color="#ff9a00"/><stop offset="0.614" stop-color="#ff9a00"/><stop offset="0.636" stop-color="#ff9a00"/><stop offset="0.659" stop-color="#ff9b00"/><stop offset="0.682" stop-color="#ff9c00"/><stop offset="0.705" stop-color="#ff9d00"/><stop offset="0.727" stop-color="#ff9d00"/><stop offset="0.750" stop-color="#ff9c00"/><stop offset="0.773" stop-color="#ff9a00"/><stop offset="0.795" stop-color="#ff9800"/><stop offset="0.818" stop-color="#ff9500"/><stop offset="0.841" stop-color="#ff9200"/><stop offset="0.864" stop-color="#ff9200"/><stop offset="0.886" stop-color="#ff9600"/><stop offset="0.909" stop-color="#ffa400"/><stop offset="0.932" stop-color="#ff9f00"/><stop offset="0.955" stop-color="#ff8400"/><stop offset="0.977" stop-color="#ff9b00"/><stop offset="1.000" stop-color="#ff9a00"/></linearGradient><linearGradient id="g84" gradientUnits="userSpaceOnUse" x1="53.2" y1="0" x2="405.2" y2="0"><stop offset="0.000" stop-color="#ff1200"/><stop offset="0.023" stop-color="#ff1800"/><stop offset="0.045" stop-color="#ff1900"/><stop offset="0.068" stop-color="#ff1900"/><stop offset="0.091" stop-color="#ff1900"/><stop offset="0.114" stop-color="#ff1700"/><stop offset="0.136" stop-color="#ff1500"/><stop offset="0.159" stop-color="#ff1400"/><stop offset="0.182" stop-color="#ff1b00"/><stop offset="0.205" stop-color="#ff2700"/><stop offset="0.227" stop-color="#ff2800"/><stop offset="0.250" stop-color="#ff2300"/><stop offset="0.273" stop-color="#ff1500"/><stop offset="0.295" stop-color="#ff0a00"/><stop offset="0.318" stop-color="#ff0d00"/><stop offset="0.341" stop-color="#ff1f00"/><stop offset="0.364" stop-color="#ff3900"/><stop offset="0.386" stop-color="#ff4300"/><stop offset="0.409" stop-color="#ff4300"/><stop offset="0.432" stop-color="#ff4400"/><stop offset="0.455" stop-color="#ff4500"/><stop offset="0.477" stop-color="#ff4900"/><stop offset="0.500" stop-color="#ff5800"/><stop offset="0.523" stop-color="#ff7100"/><stop offset="0.545" stop-color="#ff8200"/><stop offset="0.568" stop-color="#ff8700"/><stop offset="0.591" stop-color="#ff8800"/><stop offset="0.614" stop-color="#ff8800"/><stop offset="0.636" stop-color="#ff8800"/><stop offset="0.659" stop-color="#ff8900"/><stop offset="0.682" stop-color="#ff8a00"/><stop offset="0.705" stop-color="#ff8b00"/><stop offset="0.727" stop-color="#ff8c00"/><stop offset="0.750" stop-color="#ff8b00"/><stop offset="0.773" stop-color="#ff8a00"/><stop offset="0.795" stop-color="#ff8800"/><stop offset="0.818" stop-color="#ff8500"/><stop offset="0.841" stop-color="#ff7e00"/><stop offset="0.864" stop-color="#ff7a00"/><stop offset="0.886" stop-color="#ff7c00"/><stop offset="0.909" stop-color="#ff8900"/><stop offset="0.932" stop-color="#ff8600"/><stop offset="0.955" stop-color="#ff7300"/><stop offset="0.977" stop-color="#ff8e00"/><stop offset="1.000" stop-color="#ff8f00"/></linearGradient><linearGradient id="g85" gradientUnits="userSpaceOnUse" x1="53.2" y1="0" x2="405.2" y2="0"><stop offset="0.000" stop-color="#ff0c00"/><stop offset="0.023" stop-color="#ff1200"/><stop offset="0.045" stop-color="#ff1300"/><stop offset="0.068" stop-color="#ff1200"/><stop offset="0.091" stop-color="#ff1100"/><stop offset="0.114" stop-color="#ff1000"/><stop offset="0.136" stop-color="#ff0e00"/><stop offset="0.159" stop-color="#ff0e00"/><stop offset="0.182" stop-color="#ff1600"/><stop offset="0.205" stop-color="#ff2000"/><stop offset="0.227" stop-color="#ff2000"/><stop offset="0.250" stop-color="#ff1c00"/><stop offset="0.273" stop-color="#ff1100"/><stop offset="0.295" stop-color="#ff0600"/><stop offset="0.318" stop-color="#ff0800"/><stop offset="0.341" stop-color="#ff1500"/><stop offset="0.364" stop-color="#ff2900"/><stop offset="0.386" stop-color="#ff3000"/><stop offset="0.409" stop-color="#ff3000"/><stop offset="0.432" stop-color="#ff2f00"/><stop offset="0.455" stop-color="#ff3000"/><stop offset="0.477" stop-color="#ff3500"/><stop offset="0.500" stop-color="#ff4300"/><stop offset="0.523" stop-color="#ff5e00"/><stop offset="0.545" stop-color="#ff7000"/><stop offset="0.568" stop-color="#ff7300"/><stop offset="0.591" stop-color="#ff7300"/><stop offset="0.614" stop-color="#ff7400"/><stop offset="0.636" stop-color="#ff7500"/><stop offset="0.659" stop-color="#ff7500"/><stop offset="0.682" stop-color="#ff7600"/><stop offset="0.705" stop-color="#ff7800"/><stop offset="0.727" stop-color="#ff7900"/><stop offset="0.750" stop-color="#ff7800"/><stop offset="0.773" stop-color="#ff7800"/><stop offset="0.795" stop-color="#ff7700"/><stop offset="0.818" stop-color="#ff7300"/><stop offset="0.841" stop-color="#ff6800"/><stop offset="0.864" stop-color="#ff6200"/><stop offset="0.886" stop-color="#ff6200"/><stop offset="0.909" stop-color="#ff6d00"/><stop offset="0.932" stop-color="#ff6d00"/><stop offset="0.955" stop-color="#ff6400"/><stop offset="0.977" stop-color="#ff8000"/><stop offset="1.000" stop-color="#ff8200"/></linearGradient><linearGradient id="g86" gradientUnits="userSpaceOnUse" x1="53.2" y1="0" x2="405.2" y2="0"><stop offset="0.000" stop-color="#ff0500"/><stop offset="0.023" stop-color="#ff0b00"/><stop offset="0.045" stop-color="#ff0b00"/><stop offset="0.068" stop-color="#ff0a00"/><stop offset="0.091" stop-color="#ff0900"/><stop offset="0.114" stop-color="#ff0700"/><stop offset="0.136" stop-color="#ff0600"/><stop offset="0.159" stop-color="#ff0700"/><stop offset="0.182" stop-color="#ff1000"/><stop offset="0.205" stop-color="#ff1800"/><stop offset="0.227" stop-color="#ff1800"/><stop offset="0.250" stop-color="#ff1500"/><stop offset="0.273" stop-color="#ff0c00"/><stop offset="0.295" stop-color="#ff0300"/><stop offset="0.318" stop-color="#ff0300"/><stop offset="0.341" stop-color="#ff0e00"/><stop offset="0.364" stop-color="#ff1d00"/><stop offset="0.386" stop-color="#ff2200"/><stop offset="0.409" stop-color="#ff2100"/><stop offset="0.432" stop-color="#ff2000"/><stop offset="0.455" stop-color="#ff2000"/><stop offset="0.477" stop-color="#ff2600"/><stop offset="0.500" stop-color="#ff3100"/><stop offset="0.523" stop-color="#ff4800"/><stop offset="0.545" stop-color="#ff5a00"/><stop offset="0.568" stop-color="#ff5c00"/><stop offset="0.591" stop-color="#ff5c00"/><stop offset="0.614" stop-color="#ff5d00"/><stop offset="0.636" stop-color="#ff5e00"/><stop offset="0.659" stop-color="#ff5f00"/><stop offset="0.682" stop-color="#ff6100"/><stop offset="0.705" stop-color="#ff6200"/><stop offset="0.727" stop-color="#ff6300"/><stop offset="0.750" stop-color="#ff6300"/><stop offset="0.773" stop-color="#ff6300"/><stop offset="0.795" stop-color="#ff6300"/><stop offset="0.818" stop-color="#ff5e00"/><stop offset="0.841" stop-color="#ff5100"/><stop offset="0.864" stop-color="#ff4900"/><stop offset="0.886" stop-color="#ff4900"/><stop offset="0.909" stop-color="#ff5500"/><stop offset="0.932" stop-color="#ff5400"/><stop offset="0.955" stop-color="#ff5600"/><stop offset="0.977" stop-color="#ff7200"/><stop offset="1.000" stop-color="#ff7400"/></linearGradient><linearGradient id="g87" gradientUnits="userSpaceOnUse" x1="53.2" y1="0" x2="405.2" y2="0"><stop offset="0.000" stop-color="#fb0000"/><stop offset="0.023" stop-color="#ff0300"/><stop offset="0.045" stop-color="#ff0300"/><stop offset="0.068" stop-color="#ff0200"/><stop offset="0.091" stop-color="#ff0000"/><stop offset="0.114" stop-color="#fd0000"/><stop offset="0.136" stop-color="#fd0000"/><stop offset="0.159" stop-color="#ff0000"/><stop offset="0.182" stop-color="#ff0800"/><stop offset="0.205" stop-color="#ff1000"/><stop offset="0.227" stop-color="#ff0f00"/><stop offset="0.250" stop-color="#ff0d00"/><stop offset="0.273" stop-color="#ff0600"/><stop offset="0.295" stop-color="#fe0000"/><stop offset="0.318" stop-color="#fe0000"/><stop offset="0.341" stop-color="#ff0800"/><stop offset="0.364" stop-color="#ff1400"/><stop offset="0.386" stop-color="#ff1800"/><stop offset="0.409" stop-color="#ff1700"/><stop offset="0.432" stop-color="#ff1400"/><stop offset="0.455" stop-color="#ff1400"/><stop offset="0.477" stop-color="#ff1a00"/><stop offset="0.500" stop-color="#ff2300"/><stop offset="0.523" stop-color="#ff3400"/><stop offset="0.545" stop-color="#ff4200"/><stop offset="0.568" stop-color="#ff4400"/><stop offset="0.591" stop-color="#ff4500"/><stop offset="0.614" stop-color="#ff4600"/><stop offset="0.636" stop-color="#ff4700"/><stop offset="0.659" stop-color="#ff4800"/><stop offset="0.682" stop-color="#ff4a00"/><stop offset="0.705" stop-color="#ff4b00"/><stop offset="0.727" stop-color="#ff4b00"/><stop offset="0.750" stop-color="#ff4b00"/><stop offset="0.773" stop-color="#ff4b00"/><stop offset="0.795" stop-color="#ff4c00"/><stop offset="0.818" stop-color="#ff4800"/><stop offset="0.841" stop-color="#ff3b00"/><stop offset="0.864" stop-color="#ff3300"/><stop offset="0.886" stop-color="#ff3400"/><stop offset="0.909" stop-color="#ff4000"/><stop offset="0.932" stop-color="#ff3f00"/><stop offset="0.955" stop-color="#ff4900"/><stop offset="0.977" stop-color="#ff6400"/><stop offset="1.000" stop-color="#ff6400"/></linearGradient><linearGradient id="g88" gradientUnits="userSpaceOnUse" x1="53.2" y1="0" x2="405.2" y2="0"><stop offset="0.000" stop-color="#f20000"/><stop offset="0.023" stop-color="#f90000"/><stop offset="0.045" stop-color="#f80000"/><stop offset="0.068" stop-color="#f70000"/><stop offset="0.091" stop-color="#f60000"/><stop offset="0.114" stop-color="#f30000"/><stop offset="0.136" stop-color="#f30000"/><stop offset="0.159" stop-color="#f60000"/><stop offset="0.182" stop-color="#fe0000"/><stop offset="0.205" stop-color="#ff0500"/><stop offset="0.227" stop-color="#ff0500"/><stop offset="0.250" stop-color="#ff0400"/><stop offset="0.273" stop-color="#fe0000"/><stop offset="0.295" stop-color="#f90000"/><stop offset="0.318" stop-color="#f80000"/><stop offset="0.341" stop-color="#ff0300"/><stop offset="0.364" stop-color="#ff0d00"/><stop offset="0.386" stop-color="#ff0f00"/><stop offset="0.409" stop-color="#ff0e00"/><stop offset="0.432" stop-color="#ff0b00"/><stop offset="0.455" stop-color="#ff0b00"/><stop offset="0.477" stop-color="#ff1000"/><stop offset="0.500" stop-color="#ff1700"/><stop offset="0.523" stop-color="#ff2200"/><stop offset="0.545" stop-color="#ff2c00"/><stop offset="0.568" stop-color="#ff2f00"/><stop offset="0.591" stop-color="#ff2f00"/><stop offset="0.614" stop-color="#ff3000"/><stop offset="0.636" stop-color="#ff3100"/><stop offset="0.659" stop-color="#ff3200"/><stop offset="0.682" stop-color="#ff3400"/><stop offset="0.705" stop-color="#ff3500"/><stop offset="0.727" stop-color="#ff3500"/><stop offset="0.750" stop-color="#ff3500"/><stop offset="0.773" stop-color="#ff3500"/><stop offset="0.795" stop-color="#ff3600"/><stop offset="0.818" stop-color="#ff3300"/><stop offset="0.841" stop-color="#ff2900"/><stop offset="0.864" stop-color="#ff2300"/><stop offset="0.886" stop-color="#ff2400"/><stop offset="0.909" stop-color="#ff2f00"/><stop offset="0.932" stop-color="#ff2f00"/><stop offset="0.955" stop-color="#ff3c00"/><stop offset="0.977" stop-color="#ff5500"/><stop offset="1.000" stop-color="#ff5200"/></linearGradient><linearGradient id="g89" gradientUnits="userSpaceOnUse" x1="53.2" y1="0" x2="405.2" y2="0"><stop offset="0.000" stop-color="#e70000"/><stop offset="0.023" stop-color="#ee0000"/><stop offset="0.045" stop-color="#ed0000"/><stop offset="0.068" stop-color="#ed0000"/><stop offset="0.091" stop-color="#eb0000"/><stop offset="0.114" stop-color="#e80000"/><stop offset="0.136" stop-color="#e80000"/><stop offset="0.159" stop-color="#eb0000"/><stop offset="0.182" stop-color="#f20000"/><stop offset="0.205" stop-color="#f70000"/><stop offset="0.227" stop-color="#f70000"/><stop offset="0.250" stop-color="#f70000"/><stop offset="0.273" stop-color="#f40000"/><stop offset="0.295" stop-color="#f10000"/><stop offset="0.318" stop-color="#f10000"/><stop offset="0.341" stop-color="#fc0000"/><stop offset="0.364" stop-color="#ff0600"/><stop offset="0.386" stop-color="#ff0700"/><stop offset="0.409" stop-color="#ff0600"/><stop offset="0.432" stop-color="#ff0400"/><stop offset="0.455" stop-color="#ff0300"/><stop offset="0.477" stop-color="#ff0800"/><stop offset="0.500" stop-color="#ff0d00"/><stop offset="0.523" stop-color="#ff1300"/><stop offset="0.545" stop-color="#ff1a00"/><stop offset="0.568" stop-color="#ff1c00"/><stop offset="0.591" stop-color="#ff1d00"/><stop offset="0.614" stop-color="#ff1d00"/><stop offset="0.636" stop-color="#ff1e00"/><stop offset="0.659" stop-color="#ff2000"/><stop offset="0.682" stop-color="#ff2100"/><stop offset="0.705" stop-color="#ff2200"/><stop offset="0.727" stop-color="#ff2200"/><stop offset="0.750" stop-color="#ff2100"/><stop offset="0.773" stop-color="#ff2200"/><stop offset="0.795" stop-color="#ff2300"/><stop offset="0.818" stop-color="#ff2100"/><stop offset="0.841" stop-color="#ff1a00"/><stop offset="0.864" stop-color="#ff1600"/><stop offset="0.886" stop-color="#ff1700"/><stop offset="0.909" stop-color="#ff2000"/><stop offset="0.932" stop-color="#ff2200"/><stop offset="0.955" stop-color="#ff2e00"/><stop offset="0.977" stop-color="#ff4400"/><stop offset="1.000" stop-color="#ff3f00"/></linearGradient><linearGradient id="g90" gradientUnits="userSpaceOnUse" x1="53.2" y1="0" x2="405.2" y2="0"><stop offset="0.000" stop-color="#db0000"/><stop offset="0.023" stop-color="#e10000"/><stop offset="0.045" stop-color="#e10000"/><stop offset="0.068" stop-color="#e10000"/><stop offset="0.091" stop-color="#df0000"/><stop offset="0.114" stop-color="#dc0000"/><stop offset="0.136" stop-color="#dc0000"/><stop offset="0.159" stop-color="#df0000"/><stop offset="0.182" stop-color="#e40000"/><stop offset="0.205" stop-color="#e80000"/><stop offset="0.227" stop-color="#e70000"/><stop offset="0.250" stop-color="#e70000"/><stop offset="0.273" stop-color="#e60000"/><stop offset="0.295" stop-color="#e40000"/><stop offset="0.318" stop-color="#e60000"/><stop offset="0.341" stop-color="#f40000"/><stop offset="0.364" stop-color="#fc0000"/><stop offset="0.386" stop-color="#fd0000"/><stop offset="0.409" stop-color="#fc0000"/><stop offset="0.432" stop-color="#fa0000"/><stop offset="0.455" stop-color="#fa0000"/><stop offset="0.477" stop-color="#fe0000"/><stop offset="0.500" stop-color="#ff0200"/><stop offset="0.523" stop-color="#ff0500"/><stop offset="0.545" stop-color="#ff0a00"/><stop offset="0.568" stop-color="#ff0c00"/><stop offset="0.591" stop-color="#ff0c00"/><stop offset="0.614" stop-color="#ff0d00"/><stop offset="0.636" stop-color="#ff0e00"/><stop offset="0.659" stop-color="#ff0f00"/><stop offset="0.682" stop-color="#ff1000"/><stop offset="0.705" stop-color="#ff1100"/><stop offset="0.727" stop-color="#ff1100"/><stop offset="0.750" stop-color="#ff1000"/><stop offset="0.773" stop-color="#ff1100"/><stop offset="0.795" stop-color="#ff1200"/><stop offset="0.818" stop-color="#ff1200"/><stop offset="0.841" stop-color="#ff0d00"/><stop offset="0.864" stop-color="#ff0b00"/><stop offset="0.886" stop-color="#ff0c00"/><stop offset="0.909" stop-color="#ff1300"/><stop offset="0.932" stop-color="#ff1500"/><stop offset="0.955" stop-color="#ff1f00"/><stop offset="0.977" stop-color="#ff2f00"/><stop offset="1.000" stop-color="#ff2900"/></linearGradient><linearGradient id="g91" gradientUnits="userSpaceOnUse" x1="53.2" y1="0" x2="405.2" y2="0"><stop offset="0.000" stop-color="#ce0000"/><stop offset="0.023" stop-color="#d40000"/><stop offset="0.045" stop-color="#d40000"/><stop offset="0.068" stop-color="#d40000"/><stop offset="0.091" stop-color="#d20000"/><stop offset="0.114" stop-color="#cf0000"/><stop offset="0.136" stop-color="#cf0000"/><stop offset="0.159" stop-color="#d10000"/><stop offset="0.182" stop-color="#d40000"/><stop offset="0.205" stop-color="#d50000"/><stop offset="0.227" stop-color="#d50000"/><stop offset="0.250" stop-color="#d50000"/><stop offset="0.273" stop-color="#d50000"/><stop offset="0.295" stop-color="#d40000"/><stop offset="0.318" stop-color="#d70000"/><stop offset="0.341" stop-color="#e90000"/><stop offset="0.364" stop-color="#f00000"/><stop offset="0.386" stop-color="#f10000"/><stop offset="0.409" stop-color="#f10000"/><stop offset="0.432" stop-color="#ef0000"/><stop offset="0.455" stop-color="#ef0000"/><stop offset="0.477" stop-color="#f20000"/><stop offset="0.500" stop-color="#f40000"/><stop offset="0.523" stop-color="#f50000"/><stop offset="0.545" stop-color="#f80000"/><stop offset="0.568" stop-color="#fa0000"/><stop offset="0.591" stop-color="#fa0000"/><stop offset="0.614" stop-color="#fb0000"/><stop offset="0.636" stop-color="#fc0000"/><stop offset="0.659" stop-color="#fd0000"/><stop offset="0.682" stop-color="#fe0000"/><stop offset="0.705" stop-color="#fe0000"/><stop offset="0.727" stop-color="#ff0000"/><stop offset="0.750" stop-color="#ff0000"/><stop offset="0.773" stop-color="#ff0000"/><stop offset="0.795" stop-color="#ff0200"/><stop offset="0.818" stop-color="#ff0200"/><stop offset="0.841" stop-color="#fe0000"/><stop offset="0.864" stop-color="#fd0000"/><stop offset="0.886" stop-color="#fe0000"/><stop offset="0.909" stop-color="#ff0400"/><stop offset="0.932" stop-color="#ff0600"/><stop offset="0.955" stop-color="#ff0d00"/><stop offset="0.977" stop-color="#ff1800"/><stop offset="1.000" stop-color="#ff1200"/></linearGradient><linearGradient id="g92" gradientUnits="userSpaceOnUse" x1="53.2" y1="0" x2="405.2" y2="0"><stop offset="0.000" stop-color="#c10000"/><stop offset="0.023" stop-color="#c50000"/><stop offset="0.045" stop-color="#c50000"/><stop offset="0.068" stop-color="#c60000"/><stop offset="0.091" stop-color="#c40000"/><stop offset="0.114" stop-color="#c20000"/><stop offset="0.136" stop-color="#c10000"/><stop offset="0.159" stop-color="#c20000"/><stop offset="0.182" stop-color="#c20000"/><stop offset="0.205" stop-color="#c20000"/><stop offset="0.227" stop-color="#c10000"/><stop offset="0.250" stop-color="#c10000"/><stop offset="0.273" stop-color="#c20000"/><stop offset="0.295" stop-color="#c10000"/><stop offset="0.318" stop-color="#c60000"/><stop offset="0.341" stop-color="#d90000"/><stop offset="0.364" stop-color="#e00000"/><stop offset="0.386" stop-color="#e00000"/><stop offset="0.409" stop-color="#e00000"/><stop offset="0.432" stop-color="#e00000"/><stop offset="0.455" stop-color="#e00000"/><stop offset="0.477" stop-color="#e20000"/><stop offset="0.500" stop-color="#e30000"/><stop offset="0.523" stop-color="#e30000"/><stop offset="0.545" stop-color="#e50000"/><stop offset="0.568" stop-color="#e60000"/><stop offset="0.591" stop-color="#e70000"/><stop offset="0.614" stop-color="#e80000"/><stop offset="0.636" stop-color="#e80000"/><stop offset="0.659" stop-color="#e90000"/><stop offset="0.682" stop-color="#ea0000"/><stop offset="0.705" stop-color="#eb0000"/><stop offset="0.727" stop-color="#eb0000"/><stop offset="0.750" stop-color="#ec0000"/><stop offset="0.773" stop-color="#ed0000"/><stop offset="0.795" stop-color="#ee0000"/><stop offset="0.818" stop-color="#ee0000"/><stop offset="0.841" stop-color="#ee0000"/><stop offset="0.864" stop-color="#ed0000"/><stop offset="0.886" stop-color="#ee0000"/><stop offset="0.909" stop-color="#f10000"/><stop offset="0.932" stop-color="#f30000"/><stop offset="0.955" stop-color="#f70000"/><stop offset="0.977" stop-color="#fd0000"/><stop offset="1.000" stop-color="#f70000"/></linearGradient><linearGradient id="g93" gradientUnits="userSpaceOnUse" x1="53.2" y1="0" x2="405.2" y2="0"><stop offset="0.000" stop-color="#b20000"/><stop offset="0.023" stop-color="#b60000"/><stop offset="0.045" stop-color="#b60000"/><stop offset="0.068" stop-color="#b70000"/><stop offset="0.091" stop-color="#b50000"/><stop offset="0.114" stop-color="#b30000"/><stop offset="0.136" stop-color="#b30000"/><stop offset="0.159" stop-color="#b30000"/><stop offset="0.182" stop-color="#b10000"/><stop offset="0.205" stop-color="#af0000"/><stop offset="0.227" stop-color="#af0000"/><stop offset="0.250" stop-color="#af0000"/><stop offset="0.273" stop-color="#af0000"/><stop offset="0.295" stop-color="#af0000"/><stop offset="0.318" stop-color="#b50000"/><stop offset="0.341" stop-color="#c60000"/><stop offset="0.364" stop-color="#cb0000"/><stop offset="0.386" stop-color="#cb0000"/><stop offset="0.409" stop-color="#cb0000"/><stop offset="0.432" stop-color="#cc0000"/><stop offset="0.455" stop-color="#cc0000"/><stop offset="0.477" stop-color="#cd0000"/><stop offset="0.500" stop-color="#ce0000"/><stop offset="0.523" stop-color="#ce0000"/><stop offset="0.545" stop-color="#ce0000"/><stop offset="0.568" stop-color="#cf0000"/><stop offset="0.591" stop-color="#d00000"/><stop offset="0.614" stop-color="#d10000"/><stop offset="0.636" stop-color="#d10000"/><stop offset="0.659" stop-color="#d20000"/><stop offset="0.682" stop-color="#d30000"/><stop offset="0.705" stop-color="#d40000"/><stop offset="0.727" stop-color="#d40000"/><stop offset="0.750" stop-color="#d50000"/><stop offset="0.773" stop-color="#d60000"/><stop offset="0.795" stop-color="#d70000"/><stop offset="0.818" stop-color="#d80000"/><stop offset="0.841" stop-color="#d80000"/><stop offset="0.864" stop-color="#d90000"/><stop offset="0.886" stop-color="#d90000"/><stop offset="0.909" stop-color="#db0000"/><stop offset="0.932" stop-color="#dc0000"/><stop offset="0.955" stop-color="#de0000"/><stop offset="0.977" stop-color="#e10000"/><stop offset="1.000" stop-color="#dd0000"/></linearGradient><linearGradient id="g94" gradientUnits="userSpaceOnUse" x1="53.2" y1="0" x2="405.2" y2="0"><stop offset="0.000" stop-color="#a40000"/><stop offset="0.023" stop-color="#a70000"/><stop offset="0.045" stop-color="#a70000"/><stop offset="0.068" stop-color="#a70000"/><stop offset="0.091" stop-color="#a60000"/><stop offset="0.114" stop-color="#a40000"/><stop offset="0.136" stop-color="#a40000"/><stop offset="0.159" stop-color="#a30000"/><stop offset="0.182" stop-color="#a10000"/><stop offset="0.205" stop-color="#9e0000"/><stop offset="0.227" stop-color="#9d0000"/><stop offset="0.250" stop-color="#9d0000"/><stop offset="0.273" stop-color="#9e0000"/><stop offset="0.295" stop-color="#9e0000"/><stop offset="0.318" stop-color="#a30000"/><stop offset="0.341" stop-color="#b00000"/><stop offset="0.364" stop-color="#b40000"/><stop offset="0.386" stop-color="#b40000"/><stop offset="0.409" stop-color="#b40000"/><stop offset="0.432" stop-color="#b50000"/><stop offset="0.455" stop-color="#b50000"/><stop offset="0.477" stop-color="#b50000"/><stop offset="0.500" stop-color="#b60000"/><stop offset="0.523" stop-color="#b50000"/><stop offset="0.545" stop-color="#b60000"/><stop offset="0.568" stop-color="#b60000"/><stop offset="0.591" stop-color="#b70000"/><stop offset="0.614" stop-color="#b70000"/><stop offset="0.636" stop-color="#b80000"/><stop offset="0.659" stop-color="#b90000"/><stop offset="0.682" stop-color="#b90000"/><stop offset="0.705" stop-color="#ba0000"/><stop offset="0.727" stop-color="#bb0000"/><stop offset="0.750" stop-color="#bb0000"/><stop offset="0.773" stop-color="#bc0000"/><stop offset="0.795" stop-color="#bd0000"/><stop offset="0.818" stop-color="#be0000"/><stop offset="0.841" stop-color="#bf0000"/><stop offset="0.864" stop-color="#c00000"/><stop offset="0.886" stop-color="#c00000"/><stop offset="0.909" stop-color="#c10000"/><stop offset="0.932" stop-color="#c10000"/><stop offset="0.955" stop-color="#c20000"/><stop offset="0.977" stop-color="#c40000"/><stop offset="1.000" stop-color="#c20000"/></linearGradient><linearGradient id="g95" gradientUnits="userSpaceOnUse" x1="53.2" y1="0" x2="405.2" y2="0"><stop offset="0.000" stop-color="#950000"/><stop offset="0.023" stop-color="#970000"/><stop offset="0.045" stop-color="#970000"/><stop offset="0.068" stop-color="#970000"/><stop offset="0.091" stop-color="#960000"/><stop offset="0.114" stop-color="#950000"/><stop offset="0.136" stop-color="#940000"/><stop offset="0.159" stop-color="#930000"/><stop offset="0.182" stop-color="#900000"/><stop offset="0.205" stop-color="#8e0000"/><stop offset="0.227" stop-color="#8c0000"/><stop offset="0.250" stop-color="#8d0000"/><stop offset="0.273" stop-color="#8d0000"/><stop offset="0.295" stop-color="#8d0000"/><stop offset="0.318" stop-color="#920000"/><stop offset="0.341" stop-color="#9a0000"/><stop offset="0.364" stop-color="#9d0000"/><stop offset="0.386" stop-color="#9d0000"/><stop offset="0.409" stop-color="#9c0000"/><stop offset="0.432" stop-color="#9d0000"/><stop offset="0.455" stop-color="#9d0000"/><stop offset="0.477" stop-color="#9d0000"/><stop offset="0.500" stop-color="#9d0000"/><stop offset="0.523" stop-color="#9d0000"/><stop offset="0.545" stop-color="#9c0000"/><stop offset="0.568" stop-color="#9d0000"/><stop offset="0.591" stop-color="#9d0000"/><stop offset="0.614" stop-color="#9d0000"/><stop offset="0.636" stop-color="#9e0000"/><stop offset="0.659" stop-color="#9e0000"/><stop offset="0.682" stop-color="#9e0000"/><stop offset="0.705" stop-color="#9f0000"/><stop offset="0.727" stop-color="#a00000"/><stop offset="0.750" stop-color="#a00000"/><stop offset="0.773" stop-color="#a10000"/><stop offset="0.795" stop-color="#a20000"/><stop offset="0.818" stop-color="#a20000"/><stop offset="0.841" stop-color="#a40000"/><stop offset="0.864" stop-color="#a50000"/><stop offset="0.886" stop-color="#a50000"/><stop offset="0.909" stop-color="#a50000"/><stop offset="0.932" stop-color="#a50000"/><stop offset="0.955" stop-color="#a50000"/><stop offset="0.977" stop-color="#a60000"/><stop offset="1.000" stop-color="#a60000"/></linearGradient><linearGradient id="g96" gradientUnits="userSpaceOnUse" x1="53.2" y1="0" x2="405.2" y2="0"><stop offset="0.000" stop-color="#860000"/><stop offset="0.023" stop-color="#870000"/><stop offset="0.045" stop-color="#870000"/><stop offset="0.068" stop-color="#870000"/><stop offset="0.091" stop-color="#860000"/><stop offset="0.114" stop-color="#850000"/><stop offset="0.136" stop-color="#840000"/><stop offset="0.159" stop-color="#830000"/><stop offset="0.182" stop-color="#800000"/><stop offset="0.205" stop-color="#800000"/><stop offset="0.227" stop-color="#800000"/><stop offset="0.250" stop-color="#800000"/><stop offset="0.273" stop-color="#800000"/><stop offset="0.295" stop-color="#800000"/><stop offset="0.318" stop-color="#800000"/><stop offset="0.341" stop-color="#850000"/><stop offset="0.364" stop-color="#870000"/><stop offset="0.386" stop-color="#860000"/><stop offset="0.409" stop-color="#850000"/><stop offset="0.432" stop-color="#850000"/><stop offset="0.455" stop-color="#850000"/><stop offset="0.477" stop-color="#850000"/><stop offset="0.500" stop-color="#850000"/><stop offset="0.523" stop-color="#840000"/><stop offset="0.545" stop-color="#830000"/><stop offset="0.568" stop-color="#830000"/><stop offset="0.591" stop-color="#830000"/><stop offset="0.614" stop-color="#830000"/><stop offset="0.636" stop-color="#840000"/><stop offset="0.659" stop-color="#840000"/><stop offset="0.682" stop-color="#840000"/><stop offset="0.705" stop-color="#840000"/><stop offset="0.727" stop-color="#850000"/><stop offset="0.750" stop-color="#850000"/><stop offset="0.773" stop-color="#860000"/><stop offset="0.795" stop-color="#870000"/><stop offset="0.818" stop-color="#870000"/><stop offset="0.841" stop-color="#880000"/><stop offset="0.864" stop-color="#890000"/><stop offset="0.886" stop-color="#890000"/><stop offset="0.909" stop-color="#890000"/><stop offset="0.932" stop-color="#890000"/><stop offset="0.955" stop-color="#880000"/><stop offset="0.977" stop-color="#890000"/><stop offset="1.000" stop-color="#8b0000"/></linearGradient></defs><g clip-path="url(#dom)"><g filter="url(#fb)"><rect x="53.2" y="96.9" width="352.0" height="2.05" fill="url(#g0)"/><rect x="53.2" y="98.9" width="352.0" height="2.05" fill="url(#g1)"/><rect x="53.2" y="100.9" width="352.0" height="2.05" fill="url(#g2)"/><rect x="53.2" y="102.9" width="352.0" height="2.05" fill="url(#g3)"/><rect x="53.2" y="104.9" width="352.0" height="2.05" fill="url(#g4)"/><rect x="53.2" y="106.9" width="352.0" height="2.05" fill="url(#g5)"/><rect x="53.2" y="108.9" width="352.0" height="2.05" fill="url(#g6)"/><rect x="53.2" y="110.9" width="352.0" height="2.05" fill="url(#g7)"/><rect x="53.2" y="112.9" width="352.0" height="2.05" fill="url(#g8)"/><rect x="53.2" y="114.9" width="352.0" height="2.05" fill="url(#g9)"/><rect x="53.2" y="116.9" width="352.0" height="2.05" fill="url(#g10)"/><rect x="53.2" y="118.9" width="352.0" height="2.05" fill="url(#g11)"/><rect x="53.2" y="120.9" width="352.0" height="2.05" fill="url(#g12)"/><rect x="53.2" y="122.9" width="352.0" height="2.05" fill="url(#g13)"/><rect x="53.2" y="124.9" width="352.0" height="2.05" fill="url(#g14)"/><rect x="53.2" y="126.9" width="352.0" height="2.05" fill="url(#g15)"/><rect x="53.2" y="128.9" width="352.0" height="2.05" fill="url(#g16)"/><rect x="53.2" y="130.9" width="352.0" height="2.05" fill="url(#g17)"/><rect x="53.2" y="132.9" width="352.0" height="2.05" fill="url(#g18)"/><rect x="53.2" y="134.9" width="352.0" height="2.05" fill="url(#g19)"/><rect x="53.2" y="136.9" width="352.0" height="2.05" fill="url(#g20)"/><rect x="53.2" y="138.9" width="352.0" height="2.05" fill="url(#g21)"/><rect x="53.2" y="140.9" width="352.0" height="2.05" fill="url(#g22)"/><rect x="53.2" y="142.9" width="352.0" height="2.05" fill="url(#g23)"/><rect x="53.2" y="144.9" width="352.0" height="2.05" fill="url(#g24)"/><rect x="53.2" y="146.9" width="352.0" height="2.05" fill="url(#g25)"/><rect x="53.2" y="148.9" width="352.0" height="2.05" fill="url(#g26)"/><rect x="53.2" y="150.9" width="352.0" height="2.05" fill="url(#g27)"/><rect x="53.2" y="152.9" width="352.0" height="2.05" fill="url(#g28)"/><rect x="53.2" y="154.9" width="352.0" height="2.05" fill="url(#g29)"/><rect x="53.2" y="156.9" width="352.0" height="2.05" fill="url(#g30)"/><rect x="53.2" y="158.9" width="352.0" height="2.05" fill="url(#g31)"/><rect x="53.2" y="160.9" width="352.0" height="2.05" fill="url(#g32)"/><rect x="53.2" y="162.9" width="352.0" height="2.05" fill="url(#g33)"/><rect x="53.2" y="164.9" width="352.0" height="2.05" fill="url(#g34)"/><rect x="53.2" y="166.9" width="352.0" height="2.05" fill="url(#g35)"/><rect x="53.2" y="168.9" width="352.0" height="2.05" fill="url(#g36)"/><rect x="53.2" y="170.9" width="352.0" height="2.05" fill="url(#g37)"/><rect x="53.2" y="172.9" width="352.0" height="2.05" fill="url(#g38)"/><rect x="53.2" y="174.9" width="352.0" height="2.05" fill="url(#g39)"/><rect x="53.2" y="176.9" width="352.0" height="2.05" fill="url(#g40)"/><rect x="53.2" y="178.9" width="352.0" height="2.05" fill="url(#g41)"/><rect x="53.2" y="180.9" width="352.0" height="2.05" fill="url(#g42)"/><rect x="53.2" y="182.9" width="352.0" height="2.05" fill="url(#g43)"/><rect x="53.2" y="184.9" width="352.0" height="2.05" fill="url(#g44)"/><rect x="53.2" y="186.9" width="352.0" height="2.05" fill="url(#g45)"/><rect x="53.2" y="188.9" width="352.0" height="2.05" fill="url(#g46)"/><rect x="53.2" y="190.9" width="352.0" height="2.05" fill="url(#g47)"/><rect x="53.2" y="192.9" width="352.0" height="2.05" fill="url(#g48)"/><rect x="53.2" y="194.9" width="352.0" height="2.05" fill="url(#g49)"/><rect x="53.2" y="196.9" width="352.0" height="2.05" fill="url(#g50)"/><rect x="53.2" y="198.9" width="352.0" height="2.05" fill="url(#g51)"/><rect x="53.2" y="200.9" width="352.0" height="2.05" fill="url(#g52)"/><rect x="53.2" y="202.9" width="352.0" height="2.05" fill="url(#g53)"/><rect x="53.2" y="204.9" width="352.0" height="2.05" fill="url(#g54)"/><rect x="53.2" y="206.9" width="352.0" height="2.05" fill="url(#g55)"/><rect x="53.2" y="208.9" width="352.0" height="2.05" fill="url(#g56)"/><rect x="53.2" y="210.9" width="352.0" height="2.05" fill="url(#g57)"/><rect x="53.2" y="212.9" width="352.0" height="2.05" fill="url(#g58)"/><rect x="53.2" y="214.9" width="352.0" height="2.05" fill="url(#g59)"/><rect x="53.2" y="216.9" width="352.0" height="2.05" fill="url(#g60)"/><rect x="53.2" y="218.9" width="352.0" height="2.05" fill="url(#g61)"/><rect x="53.2" y="220.9" width="352.0" height="2.05" fill="url(#g62)"/><rect x="53.2" y="222.9" width="352.0" height="2.05" fill="url(#g63)"/><rect x="53.2" y="224.9" width="352.0" height="2.05" fill="url(#g64)"/><rect x="53.2" y="226.9" width="352.0" height="2.05" fill="url(#g65)"/><rect x="53.2" y="228.9" width="352.0" height="2.05" fill="url(#g66)"/><rect x="53.2" y="230.9" width="352.0" height="2.05" fill="url(#g67)"/><rect x="53.2" y="232.9" width="352.0" height="2.05" fill="url(#g68)"/><rect x="53.2" y="234.9" width="352.0" height="2.05" fill="url(#g69)"/><rect x="53.2" y="236.9" width="352.0" height="2.05" fill="url(#g70)"/><rect x="53.2" y="238.9" width="352.0" height="2.05" fill="url(#g71)"/><rect x="53.2" y="240.9" width="352.0" height="2.05" fill="url(#g72)"/><rect x="53.2" y="242.9" width="352.0" height="2.05" fill="url(#g73)"/><rect x="53.2" y="244.9" width="352.0" height="2.05" fill="url(#g74)"/><rect x="53.2" y="246.9" width="352.0" height="2.05" fill="url(#g75)"/><rect x="53.2" y="248.9" width="352.0" height="2.05" fill="url(#g76)"/><rect x="53.2" y="250.9" width="352.0" height="2.05" fill="url(#g77)"/><rect x="53.2" y="252.9" width="352.0" height="2.05" fill="url(#g78)"/><rect x="53.2" y="254.9" width="352.0" height="2.05" fill="url(#g79)"/><rect x="53.2" y="256.9" width="352.0" height="2.05" fill="url(#g80)"/><rect x="53.2" y="258.9" width="352.0" height="2.05" fill="url(#g81)"/><rect x="53.2" y="260.9" width="352.0" height="2.05" fill="url(#g82)"/><rect x="53.2" y="262.9" width="352.0" height="2.05" fill="url(#g83)"/><rect x="53.2" y="264.9" width="352.0" height="2.05" fill="url(#g84)"/><rect x="53.2" y="266.9" width="352.0" height="2.05" fill="url(#g85)"/><rect x="53.2" y="268.9" width="352.0" height="2.05" fill="url(#g86)"/><rect x="53.2" y="270.9" width="352.0" height="2.05" fill="url(#g87)"/><rect x="53.2" y="272.9" width="352.0" height="2.05" fill="url(#g88)"/><rect x="53.2" y="274.9" width="352.0" height="2.05" fill="url(#g89)"/><rect x="53.2" y="276.9" width="352.0" height="2.05" fill="url(#g90)"/><rect x="53.2" y="278.9" width="352.0" height="2.05" fill="url(#g91)"/><rect x="53.2" y="280.9" width="352.0" height="2.05" fill="url(#g92)"/><rect x="53.2" y="282.9" width="352.0" height="2.05" fill="url(#g93)"/><rect x="53.2" y="284.9" width="352.0" height="2.05" fill="url(#g94)"/><rect x="53.2" y="286.9" width="352.0" height="2.05" fill="url(#g95)"/><rect x="53.2" y="288.9" width="352.0" height="2.05" fill="url(#g96)"/></g></g>
<g><polyline points="80.4,233.5 80.4,262.7 55.4,262.7" fill="none" stroke="#800000" stroke-width="2" stroke-linejoin="round"/><polyline points="126.4,214.2 118.3,231.0 118.6,279.7 166.6,279.7 173.0,282.8 399.5,284.5" fill="none" stroke="#ff2a00" stroke-width="2" stroke-linejoin="round"/><polyline points="161.5,201.0 158.6,215.0 153.0,227.0 146.8,239.5 146.5,250.5 148.7,251.6 156.1,251.8 160.0,254.2 183.0,264.0 220.0,264.6 229.4,266.0 241.9,270.2 284.0,270.7 307.5,271.0 339.5,271.0 352.9,268.9 382.5,268.5 396.7,252.8 399.5,248.0" fill="none" stroke="#ffd400" stroke-width="2" stroke-linejoin="round"/><polyline points="188.5,188.0 186.2,217.3 181.5,238.5 191.7,244.7 199.5,245.5 223.0,247.5 238.8,250.6 252.9,256.9 306.0,257.7 339.5,256.1 368.0,252.3 377.3,246.9 383.0,242.3 391.0,237.0 399.5,232.0" fill="none" stroke="#80ff80" stroke-width="2" stroke-linejoin="round"/><polyline points="229.8,171.4 220.4,182.9 216.7,193.0 215.7,195.4 215.2,207.9 215.2,228.3 227.7,231.4 237.2,234.2 243.4,236.1 263.9,242.0 285.5,243.0 332.5,243.8 348.0,241.5 362.7,236.3 369.6,232.9 380.6,224.6 390.0,216.5 399.5,210.0" fill="none" stroke="#00d4ff" stroke-width="2" stroke-linejoin="round"/><polyline points="268.9,153.4 264.2,165.7 252.1,193.0 249.6,198.7 249.6,208.7 262.7,212.2 270.8,216.4 305.9,225.8 318.0,229.0 329.4,228.3 348.7,221.3 366.8,214.9 386.2,203.8 396.0,193.0 399.5,189.0" fill="none" stroke="#002aff" stroke-width="2" stroke-linejoin="round"/><polyline points="337.6,141.0 339.9,139.9 356.0,136.0 367.5,141.1 386.0,156.0 377.8,165.6 367.4,177.0 357.0,186.3 340.4,193.6 328.6,196.7 294.1,191.5 317.5,150.3" fill="none" stroke="#000080" stroke-width="2" stroke-linejoin="round"/></g>
<g font-family="'DejaVu Sans', 'Liberation Sans', sans-serif" font-size="10.5" fill="#fff" fill-opacity="0.88"><text x="80.1" y="240.4" text-anchor="middle">1.0</text><text x="120.6" y="280.0" text-anchor="middle">0.99</text><text x="296" y="274.2" text-anchor="middle">0.98</text><text x="211.3" y="249.8" text-anchor="middle">0.96</text><text x="220.8" y="192.1" text-anchor="middle">0.94</text><text x="318" y="232.8" text-anchor="middle">0.92</text><text x="326" y="148.5" text-anchor="middle">0.91</text></g>
<polyline points="55.2,297.0 55.2,244.6 399.5,98.9 399.5,297.0" fill="none" stroke="#3c3c3c" stroke-width="1.8" stroke-linejoin="round"/>
<line x1="48.8" y1="297.0" x2="405.4" y2="297.0" stroke="#444" stroke-width="1.2"/>
<line x1="48.8" y1="318.56" x2="405.4" y2="318.56" stroke="#444" stroke-width="1.2"/>
<line x1="399.5" y1="98.9" x2="405.4" y2="98.9" stroke="#444" stroke-width="1.2"/>
<line x1="48.8" y1="244.6" x2="55.2" y2="244.6" stroke="#444" stroke-width="1.2"/>
<rect x="48.8" y="28.2" width="356.59999999999997" height="361.2" fill="none" stroke="#333" stroke-width="1.2"/>
<path d="M48.8 382.94h5M405.4 382.94h-5M48.8 361.48h5M405.4 361.48h-5M48.8 340.02h5M405.4 340.02h-5M48.8 318.56h5M405.4 318.56h-5M48.8 297.10h5M405.4 297.10h-5M48.8 275.64h5M405.4 275.64h-5M48.8 254.18h5M405.4 254.18h-5M48.8 232.72h5M405.4 232.72h-5M48.8 211.26h5M405.4 211.26h-5M48.8 189.80h5M405.4 189.80h-5M48.8 168.34h5M405.4 168.34h-5M48.8 146.88h5M405.4 146.88h-5M48.8 125.42h5M405.4 125.42h-5M48.8 103.96h5M405.4 103.96h-5M48.8 82.50h5M405.4 82.50h-5M48.8 61.04h5M405.4 61.04h-5M48.8 39.58h5M405.4 39.58h-5M119.50 389.4v-5M119.50 28.2v5M205.60 389.4v-5M205.60 28.2v5M291.70 389.4v-5M291.70 28.2v5M377.80 389.4v-5M377.80 28.2v5" stroke="#333" stroke-width="1.2" fill="none"/>
<defs><linearGradient id="cbg" x1="0" y1="0" x2="0" y2="1"><stop offset="0.000" stop-color="#800000"/><stop offset="0.025" stop-color="#990000"/><stop offset="0.050" stop-color="#b30000"/><stop offset="0.075" stop-color="#cc0000"/><stop offset="0.100" stop-color="#e50000"/><stop offset="0.125" stop-color="#ff0000"/><stop offset="0.150" stop-color="#ff1a00"/><stop offset="0.175" stop-color="#ff3300"/><stop offset="0.200" stop-color="#ff4c00"/><stop offset="0.225" stop-color="#ff6600"/><stop offset="0.250" stop-color="#ff8000"/><stop offset="0.275" stop-color="#ff9900"/><stop offset="0.300" stop-color="#ffb300"/><stop offset="0.325" stop-color="#ffcc00"/><stop offset="0.350" stop-color="#ffe500"/><stop offset="0.375" stop-color="#ffff00"/><stop offset="0.400" stop-color="#e5ff1a"/><stop offset="0.425" stop-color="#ccff33"/><stop offset="0.450" stop-color="#b3ff4c"/><stop offset="0.475" stop-color="#99ff66"/><stop offset="0.500" stop-color="#80ff80"/><stop offset="0.525" stop-color="#66ff99"/><stop offset="0.550" stop-color="#4cffb3"/><stop offset="0.575" stop-color="#33ffcc"/><stop offset="0.600" stop-color="#1affe5"/><stop offset="0.625" stop-color="#00ffff"/><stop offset="0.650" stop-color="#00e5ff"/><stop offset="0.675" stop-color="#00ccff"/><stop offset="0.700" stop-color="#00b3ff"/><stop offset="0.725" stop-color="#0099ff"/><stop offset="0.750" stop-color="#0080ff"/><stop offset="0.775" stop-color="#0066ff"/><stop offset="0.800" stop-color="#004cff"/><stop offset="0.825" stop-color="#0033ff"/><stop offset="0.850" stop-color="#001aff"/><stop offset="0.875" stop-color="#0000ff"/><stop offset="0.900" stop-color="#0000e5"/><stop offset="0.925" stop-color="#0000cc"/><stop offset="0.950" stop-color="#0000b3"/><stop offset="0.975" stop-color="#000099"/><stop offset="1.000" stop-color="#000080"/></linearGradient></defs>
<rect x="423.4" y="55.4" width="13.200000000000045" height="329.0" fill="url(#cbg)" stroke="#333" stroke-width="1.0"/>
<path d="M423.4 67.04h2.5M436.6 67.04h-2.5M423.4 118.77h2.5M436.6 118.77h-2.5M423.4 170.50h2.5M436.6 170.50h-2.5M423.4 222.23h2.5M436.6 222.23h-2.5M423.4 273.96h2.5M436.6 273.96h-2.5M423.4 325.69h2.5M436.6 325.69h-2.5M423.4 377.42h2.5M436.6 377.42h-2.5" stroke="#222" stroke-width="1" fill="none" opacity="0.8"/>
<rect x="497.8" y="55.5" width="13.0" height="328.7" fill="#fff" stroke="#666" stroke-width="1.4"/>
<rect x="498.5" y="55.70" width="11.6" height="4.6" fill="#800000"/>
<path d="M497.8 58.00h2.2M510.8 58.00h-2.2" stroke="#222" stroke-width="1" opacity="0.7"/>
<rect x="498.5" y="109.63" width="11.6" height="4.6" fill="#ff2a00"/>
<path d="M497.8 111.93h2.2M510.8 111.93h-2.2" stroke="#222" stroke-width="1" opacity="0.7"/>
<rect x="498.5" y="163.57" width="11.6" height="4.6" fill="#ffd400"/>
<path d="M497.8 165.87h2.2M510.8 165.87h-2.2" stroke="#222" stroke-width="1" opacity="0.7"/>
<rect x="498.5" y="217.50" width="11.6" height="4.6" fill="#80ff80"/>
<path d="M497.8 219.80h2.2M510.8 219.80h-2.2" stroke="#222" stroke-width="1" opacity="0.7"/>
<rect x="498.5" y="271.43" width="11.6" height="4.6" fill="#00d5ff"/>
<path d="M497.8 273.73h2.2M510.8 273.73h-2.2" stroke="#222" stroke-width="1" opacity="0.7"/>
<rect x="498.5" y="325.37" width="11.6" height="4.6" fill="#002aff"/>
<path d="M497.8 327.67h2.2M510.8 327.67h-2.2" stroke="#222" stroke-width="1" opacity="0.7"/>
<rect x="498.5" y="379.30" width="11.6" height="4.6" fill="#000080"/>
<path d="M497.8 381.60h2.2M510.8 381.60h-2.2" stroke="#222" stroke-width="1" opacity="0.7"/>
<g font-family="'DejaVu Sans', 'Liberation Sans', sans-serif" font-size="10.3" fill="#222" stroke="#222" stroke-width="0.3"><text x="45.2" y="386.64" text-anchor="end">-0.15</text>
<text x="45.2" y="365.18" text-anchor="end">-0.1</text>
<text x="45.2" y="343.72" text-anchor="end">-0.05</text>
<text x="45.2" y="322.26" text-anchor="end">0</text>
<text x="45.2" y="300.80" text-anchor="end">0.05</text>
<text x="45.2" y="279.34" text-anchor="end">0.1</text>
<text x="45.2" y="257.88" text-anchor="end">0.15</text>
<text x="45.2" y="236.42" text-anchor="end">0.2</text>
<text x="45.2" y="214.96" text-anchor="end">0.25</text>
<text x="45.2" y="193.50" text-anchor="end">0.3</text>
<text x="45.2" y="172.04" text-anchor="end">0.35</text>
<text x="45.2" y="150.58" text-anchor="end">0.4</text>
<text x="45.2" y="129.12" text-anchor="end">0.45</text>
<text x="45.2" y="107.66" text-anchor="end">0.5</text>
<text x="45.2" y="86.20" text-anchor="end">0.55</text>
<text x="45.2" y="64.74" text-anchor="end">0.6</text>
<text x="45.2" y="43.28" text-anchor="end">0.65</text>
<text x="120.50" y="404.7" text-anchor="middle">0.2</text>
<text x="206.60" y="404.7" text-anchor="middle">0.4</text>
<text x="292.70" y="404.7" text-anchor="middle">0.6</text>
<text x="378.80" y="404.7" text-anchor="middle">0.8</text>
<text x="8.6" y="31.6">m</text>
<text x="398.4" y="404.7">m</text>
<text x="445.2" y="71.34">4</text>
<text x="445.2" y="123.07">3.8</text>
<text x="445.2" y="174.80">3.6</text>
<text x="445.2" y="226.53">3.4</text>
<text x="445.2" y="278.26">3.2</text>
<text x="445.2" y="329.99">3</text>
<text x="445.2" y="381.72">2.8</text>
<text x="519.4" y="62.20">1.01</text>
<text x="519.4" y="116.13">0.99</text>
<text x="519.4" y="170.07">0.98</text>
<text x="519.4" y="224.00">0.96</text>
<text x="519.4" y="277.93">0.94</text>
<text x="519.4" y="331.87">0.92</text>
<text x="519.4" y="385.80">0.91</text>
<text x="20.6" y="16.9" font-size="10.5">ei(1)=0.9 Time=10 h</text>
<text x="141.6" y="18.7" font-size="10.5">Surface: Vapor concentration (mol/m<tspan dy="-4.6" font-size="7.6">3</tspan><tspan dy="4.6" dx="-0.2">)</tspan></text>
<text x="352.2" y="18.7" font-size="10.45">Contour: Relative humidity (1)</text></g>
<text x="283" y="426.6" text-anchor="middle" font-family="'Liberation Serif', serif" font-size="16" fill="#1a1a1a">(<tspan font-weight="bold" font-size="17.5">b</tspan>)</text>
</svg>
</body></html>
